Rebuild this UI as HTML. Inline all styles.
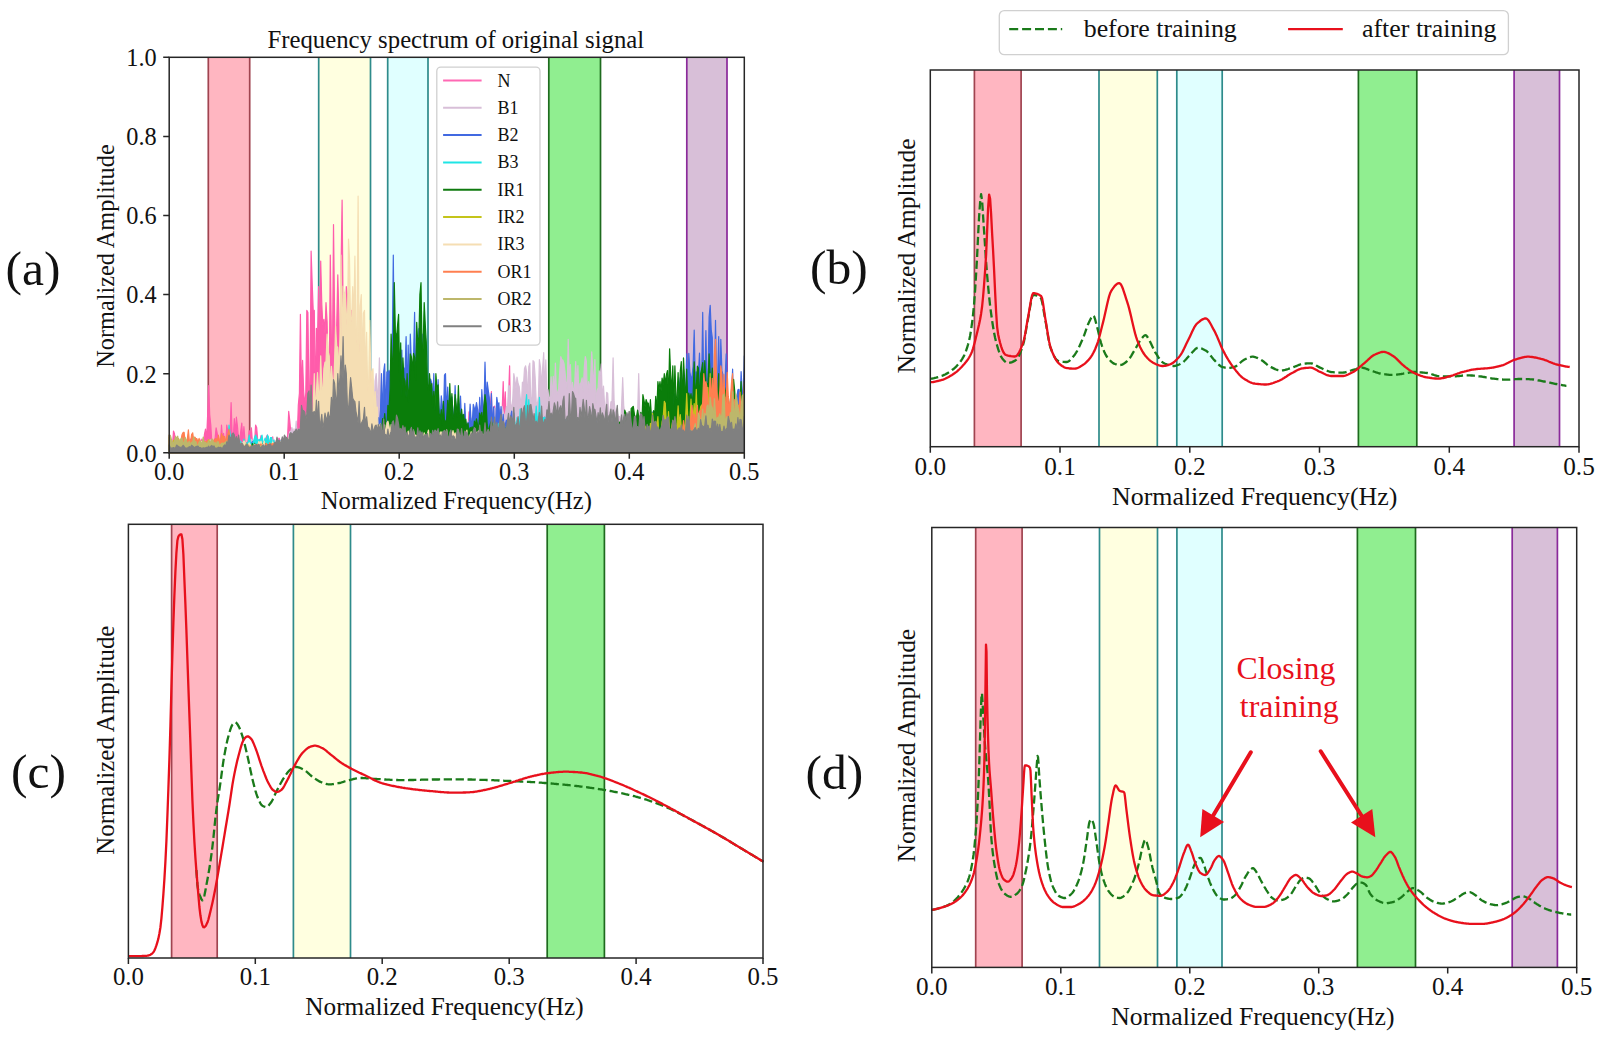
<!DOCTYPE html>
<html lang="en"><head><meta charset="utf-8"><title>Frequency spectrum figure</title>
<style>html,body{margin:0;padding:0;background:#fff}body{width:1600px;height:1038px;overflow:hidden}svg{display:block}</style>
</head><body>
<svg width="1600" height="1038" viewBox="0 0 1600 1038" font-family='"Liberation Serif", serif' fill="#111">
<rect width="1600" height="1038" fill="#fff"/>
<g id="pa">
<rect x="208.3" y="57.3" width="41.4" height="395.5" fill="#ffb6c1"/>
<path d="M208.3 57.3V452.8M249.7 57.3V452.8" stroke="#a04450" stroke-width="1.7" fill="none"/>
<rect x="318.7" y="57.3" width="51.8" height="395.5" fill="#ffffe0"/>
<path d="M318.7 57.3V452.8M370.5 57.3V452.8" stroke="#2e8b8b" stroke-width="1.7" fill="none"/>
<rect x="387.7" y="57.3" width="40.3" height="395.5" fill="#e0ffff"/>
<path d="M387.7 57.3V452.8M428.0 57.3V452.8" stroke="#2e8b8b" stroke-width="1.7" fill="none"/>
<rect x="548.8" y="57.3" width="51.8" height="395.5" fill="#90ee90"/>
<path d="M548.8 57.3V452.8M600.5 57.3V452.8" stroke="#1e6b1e" stroke-width="1.7" fill="none"/>
<rect x="686.8" y="57.3" width="40.3" height="395.5" fill="#d8bfd8"/>
<path d="M686.8 57.3V452.8M727.0 57.3V452.8" stroke="#8a2a9a" stroke-width="1.7" fill="none"/>
<g stroke-width="1.2" stroke-linejoin="round">
<path d="M169.2 452.8L169.2 440.9L170.3 445.1L171.3 442.5L172.4 447.1L173.5 431.0L174.5 433.8L175.6 447.0L176.7 447.2L177.7 438.6L178.8 439.0L179.9 446.5L180.9 445.1L182.0 443.4L183.1 447.2L184.1 448.2L185.2 441.9L186.3 443.3L187.3 445.1L188.4 441.5L189.5 444.7L190.5 439.2L191.6 447.8L192.7 444.7L193.7 445.4L194.8 446.6L195.9 444.2L196.9 447.5L198.0 441.7L199.1 440.8L200.1 448.2L201.2 439.0L202.3 446.5L203.3 447.1L204.4 434.7L205.5 429.1L206.5 441.3L207.6 415.7L208.7 385.6L209.7 414.6L210.8 425.1L211.9 444.4L212.9 442.8L214.0 440.6L215.1 438.3L216.1 427.8L217.2 433.2L218.3 440.7L219.3 444.5L220.4 443.3L221.5 425.2L222.5 438.5L223.6 433.4L224.7 444.2L225.7 444.4L226.8 425.1L227.9 432.2L229.0 436.6L230.0 434.1L231.1 402.6L232.2 436.1L233.2 439.4L234.3 418.6L235.4 433.3L236.4 417.2L237.5 426.8L238.6 440.4L239.6 442.2L240.7 431.8L241.8 423.1L242.8 442.9L243.9 426.7L245.0 441.4L246.0 442.7L247.1 443.4L248.2 440.2L249.2 430.6L250.3 436.6L251.4 427.8L252.4 442.1L253.5 440.7L254.6 441.8L255.6 425.1L256.7 427.8L257.8 441.5L258.8 440.4L259.9 442.7L261.0 435.5L262.0 446.1L263.1 446.2L264.2 443.1L265.2 445.4L266.3 437.3L267.4 435.0L268.4 442.5L269.5 441.0L270.6 440.6L271.6 439.3L272.7 436.9L273.8 447.0L274.8 441.9L275.9 447.1L277.0 444.4L278.0 439.8L279.1 438.2L280.2 440.4L281.2 447.9L282.3 445.6L283.4 447.3L284.4 437.0L285.5 445.0L286.6 441.7L287.6 437.1L288.7 411.3L289.8 421.0L290.8 432.4L291.9 429.1L293.0 438.3L294.0 443.0L295.1 430.3L296.2 437.7L297.2 439.3L298.3 405.3L299.4 393.4L300.4 314.4L301.5 393.0L302.6 360.4L303.6 390.2L304.7 405.9L305.8 392.8L306.8 310.4L307.9 312.5L309.0 396.3L310.0 392.2L311.1 251.1L312.2 283.6L313.2 310.2L314.3 310.4L315.4 406.4L316.4 328.3L317.5 341.6L318.6 286.7L319.6 360.8L320.7 261.0L321.8 304.3L322.8 325.4L323.9 319.3L325.0 333.5L326.0 302.5L327.1 321.8L328.2 384.4L329.2 389.8L330.3 255.1L331.4 339.3L332.4 364.4L333.5 224.6L334.6 315.8L335.6 373.8L336.7 327.2L337.8 274.8L338.8 313.5L339.9 368.1L341.0 272.5L342.1 200.1L343.1 312.0L344.2 305.1L345.3 345.7L346.3 286.7L347.4 294.5L348.5 402.3L349.5 387.1L350.6 365.9L351.7 310.4L352.7 404.8L353.8 343.6L354.9 348.4L355.9 368.1L357.0 339.9L358.1 360.2L359.1 334.2L360.2 376.9L361.3 404.2L362.3 371.9L363.4 404.5L364.5 418.7L365.5 368.7L366.6 387.9L367.7 386.2L368.7 402.3L369.8 388.8L370.9 373.7L371.9 407.1L373.0 429.6L374.1 410.0L375.1 395.3L376.2 403.7L377.3 399.2L378.3 417.6L379.4 397.6L380.5 433.0L381.5 401.4L382.6 426.7L383.7 435.3L384.7 418.8L385.8 426.5L386.9 428.5L387.9 405.3L389.0 436.9L390.1 422.6L391.1 429.9L392.2 426.1L393.3 427.2L394.3 437.2L395.4 426.9L396.5 412.8L397.5 436.6L398.6 438.9L399.7 438.4L400.7 429.0L401.8 408.2L402.9 438.8L403.9 407.6L405.0 426.7L406.1 437.9L407.1 430.7L408.2 436.3L409.3 420.3L410.3 426.8L411.4 434.5L412.5 435.4L413.5 414.3L414.6 418.6L415.7 430.6L416.7 431.6L417.8 420.1L418.9 410.2L419.9 439.0L421.0 437.8L422.1 433.1L423.1 428.8L424.2 439.2L425.3 439.5L426.3 436.8L427.4 432.7L428.5 420.9L429.5 425.8L430.6 439.9L431.7 439.8L432.7 431.1L433.8 416.0L434.9 414.4L435.9 433.7L437.0 415.8L438.1 414.2L439.1 432.8L440.2 421.7L441.3 434.0L442.3 438.7L443.4 427.9L444.5 439.8L445.5 425.1L446.6 419.8L447.7 415.7L448.7 432.2L449.8 439.6L450.9 416.6L451.9 418.0L453.0 414.2L454.1 428.1L455.1 425.5L456.2 434.6L457.3 413.2L458.4 436.3L459.4 423.3L460.5 435.3L461.6 423.9L462.6 430.0L463.7 431.4L464.8 411.9L465.8 438.0L466.9 429.6L468.0 437.8L469.0 411.9L470.1 429.0L471.2 433.5L472.2 437.2L473.3 424.7L474.4 431.1L475.4 437.5L476.5 438.7L477.6 430.8L478.6 424.0L479.7 405.3L480.8 409.1L481.8 407.4L482.9 404.9L484.0 410.8L485.0 424.2L486.1 421.7L487.2 426.0L488.2 425.3L489.3 434.8L490.4 404.6L491.4 391.5L492.5 433.9L493.6 419.7L494.6 406.2L495.7 420.1L496.8 422.8L497.8 407.7L498.9 429.3L500.0 432.1L501.0 409.6L502.1 412.5L503.2 381.6L504.2 416.3L505.3 391.9L506.4 428.7L507.4 427.8L508.5 399.7L509.6 365.8L510.6 427.6L511.7 427.7L512.8 420.4L513.8 389.5L514.9 415.5L516.0 398.3L517.0 425.3L518.1 431.7L519.2 417.4L520.2 435.7L521.3 426.6L522.4 429.5L523.4 427.6L524.5 436.6L525.6 422.4L526.6 420.2L527.7 415.5L528.8 406.6L529.8 431.7L530.9 421.8L532.0 430.0L533.0 436.6L534.1 414.8L535.2 421.5L536.2 414.6L537.3 413.2L538.4 416.7L539.4 439.7L540.5 441.0L541.6 438.6L542.6 433.8L543.7 425.5L544.8 433.2L545.8 431.2L546.9 423.2L548.0 440.7L549.0 426.2L550.1 441.0L551.2 438.0L552.2 424.9L553.3 426.3L554.4 434.5L555.4 437.2L556.5 421.4L557.6 437.6L558.6 441.3L559.7 438.3L560.8 441.5L561.8 422.4L562.9 440.5L564.0 416.6L565.0 439.1L566.1 437.3L567.2 430.1L568.2 437.3L569.3 435.7L570.4 440.9L571.4 435.6L572.5 441.7L573.6 439.2L574.7 419.8L575.7 438.2L576.8 438.4L577.9 427.9L578.9 421.1L580.0 438.0L581.1 436.3L582.1 427.0L583.2 424.5L584.3 430.2L585.3 440.3L586.4 440.3L587.5 426.0L588.5 427.6L589.6 421.5L590.7 425.5L591.7 435.7L592.8 441.2L593.9 422.0L594.9 428.4L596.0 431.9L597.1 428.9L598.1 436.8L599.2 437.7L600.3 432.1L601.3 434.6L602.4 428.4L603.5 421.2L604.5 424.2L605.6 437.0L606.7 437.4L607.7 421.8L608.8 437.0L609.9 426.1L610.9 442.2L612.0 435.8L613.1 434.3L614.1 426.1L615.2 424.0L616.3 441.6L617.3 431.9L618.4 431.6L619.5 441.7L620.5 425.8L621.6 433.8L622.7 421.9L623.7 441.4L624.8 434.7L625.9 439.1L626.9 431.8L628.0 432.7L629.1 421.2L630.1 439.2L631.2 435.4L632.3 438.3L633.3 424.7L634.4 436.4L635.5 436.1L636.5 440.4L637.6 440.5L638.7 422.7L639.7 439.4L640.8 425.4L641.9 433.1L642.9 421.8L644.0 441.8L645.1 423.1L646.1 428.3L647.2 433.8L648.3 430.1L649.3 429.7L650.4 436.7L651.5 432.1L652.5 440.9L653.6 443.2L654.7 431.0L655.7 436.1L656.8 424.2L657.9 440.3L658.9 426.9L660.0 421.6L661.1 424.5L662.1 422.3L663.2 441.9L664.3 441.8L665.3 440.9L666.4 438.5L667.5 442.4L668.5 442.0L669.6 443.3L670.7 423.3L671.7 438.5L672.8 432.3L673.9 436.5L674.9 429.1L676.0 427.3L677.1 438.1L678.1 434.6L679.2 442.6L680.3 439.9L681.3 441.0L682.4 439.5L683.5 439.2L684.5 433.7L685.6 439.1L686.7 439.2L687.8 426.5L688.8 443.3L689.9 443.3L691.0 443.0L692.0 425.5L693.1 432.1L694.2 429.6L695.2 422.6L696.3 441.1L697.4 423.8L698.4 440.7L699.5 435.0L700.6 430.9L701.6 427.5L702.7 440.6L703.8 436.0L704.8 443.1L705.9 439.9L707.0 421.8L708.0 424.2L709.1 433.5L710.2 427.9L711.2 424.3L712.3 439.1L713.4 421.8L714.4 436.7L715.5 441.9L716.6 434.8L717.6 433.2L718.7 430.5L719.8 431.1L720.8 443.1L721.9 432.0L723.0 423.7L724.0 431.2L725.1 422.0L726.2 435.2L727.2 427.2L728.3 442.1L729.4 424.5L730.4 436.9L731.5 425.1L732.6 439.3L733.6 432.4L734.7 426.1L735.8 430.0L736.8 432.5L737.9 422.1L739.0 442.7L740.0 442.6L741.1 434.2L742.2 422.6L743.2 430.7L744.3 421.2L744.3 452.8Z" stroke="#ff5cab" fill="#ff5cab"/>
<path d="M169.2 452.8L169.2 440.9L170.3 444.8L171.3 444.5L172.4 444.6L173.5 443.6L174.5 445.7L175.6 441.6L176.7 445.5L177.7 446.4L178.8 445.2L179.9 441.1L180.9 446.1L182.0 445.5L183.1 441.0L184.1 445.0L185.2 441.6L186.3 446.5L187.3 441.2L188.4 445.6L189.5 445.8L190.5 442.2L191.6 440.3L192.7 440.5L193.7 442.1L194.8 440.8L195.9 440.1L196.9 443.4L198.0 445.9L199.1 441.1L200.1 444.4L201.2 444.9L202.3 443.7L203.3 446.2L204.4 446.2L205.5 445.1L206.5 442.9L207.6 441.7L208.7 439.9L209.7 441.1L210.8 440.0L211.9 442.4L212.9 441.6L214.0 442.7L215.1 445.8L216.1 445.9L217.2 441.3L218.3 445.2L219.3 441.0L220.4 443.5L221.5 446.0L222.5 442.7L223.6 443.5L224.7 445.7L225.7 444.7L226.8 444.4L227.9 444.1L229.0 441.4L230.0 445.1L231.1 443.4L232.2 442.1L233.2 439.2L234.3 445.3L235.4 445.5L236.4 444.9L237.5 444.7L238.6 445.0L239.6 445.4L240.7 444.7L241.8 444.6L242.8 442.8L243.9 441.5L245.0 443.6L246.0 444.8L247.1 445.2L248.2 444.2L249.2 444.8L250.3 442.6L251.4 439.3L252.4 440.7L253.5 444.5L254.6 445.3L255.6 445.2L256.7 442.8L257.8 443.3L258.8 440.8L259.9 445.0L261.0 444.0L262.0 440.7L263.1 441.6L264.2 442.0L265.2 438.6L266.3 444.7L267.4 444.3L268.4 441.5L269.5 441.5L270.6 437.6L271.6 437.6L272.7 441.2L273.8 439.7L274.8 440.2L275.9 444.5L277.0 441.0L278.0 443.3L279.1 442.9L280.2 444.3L281.2 444.9L282.3 438.5L283.4 439.8L284.4 437.0L285.5 442.3L286.6 440.2L287.6 441.5L288.7 436.1L289.8 431.7L290.8 431.3L291.9 427.5L293.0 436.5L294.0 428.9L295.1 436.4L296.2 421.2L297.2 435.9L298.3 429.4L299.4 429.2L300.4 432.3L301.5 432.1L302.6 425.5L303.6 429.6L304.7 430.7L305.8 434.8L306.8 432.4L307.9 421.7L309.0 418.8L310.0 430.5L311.1 420.5L312.2 420.2L313.2 432.5L314.3 431.5L315.4 423.4L316.4 430.7L317.5 417.2L318.6 429.4L319.6 421.9L320.7 422.2L321.8 431.5L322.8 418.2L323.9 429.3L325.0 432.5L326.0 433.1L327.1 426.5L328.2 422.5L329.2 429.5L330.3 417.2L331.4 429.3L332.4 416.6L333.5 432.4L334.6 429.0L335.6 430.5L336.7 425.1L337.8 426.9L338.8 425.8L339.9 415.0L341.0 421.5L342.1 420.7L343.1 425.3L344.2 415.2L345.3 422.5L346.3 416.4L347.4 411.7L348.5 419.4L349.5 423.4L350.6 426.8L351.7 410.8L352.7 414.7L353.8 413.5L354.9 427.0L355.9 422.3L357.0 410.5L358.1 426.1L359.1 412.0L360.2 419.2L361.3 426.2L362.3 422.8L363.4 428.4L364.5 405.3L365.5 411.6L366.6 426.3L367.7 419.2L368.7 402.8L369.8 418.3L370.9 406.3L371.9 393.8L373.0 400.8L374.1 413.9L375.1 381.2L376.2 373.7L377.3 391.0L378.3 397.8L379.4 357.9L380.5 395.2L381.5 409.9L382.6 414.2L383.7 420.1L384.7 393.5L385.8 418.6L386.9 407.2L387.9 409.3L389.0 409.1L390.1 401.5L391.1 422.7L392.2 415.8L393.3 423.3L394.3 415.4L395.4 423.6L396.5 424.0L397.5 423.5L398.6 416.9L399.7 405.8L400.7 420.1L401.8 407.0L402.9 421.6L403.9 420.5L405.0 415.9L406.1 425.2L407.1 416.9L408.2 413.3L409.3 406.1L410.3 426.1L411.4 407.4L412.5 414.6L413.5 414.5L414.6 426.7L415.7 405.9L416.7 422.8L417.8 416.3L418.9 416.7L419.9 406.1L421.0 415.4L422.1 404.1L423.1 424.8L424.2 414.4L425.3 417.0L426.3 418.8L427.4 416.0L428.5 418.3L429.5 423.6L430.6 416.3L431.7 428.7L432.7 420.9L433.8 421.7L434.9 427.0L435.9 419.3L437.0 417.0L438.1 429.0L439.1 426.0L440.2 430.2L441.3 419.7L442.3 430.2L443.4 428.0L444.5 423.8L445.5 423.9L446.6 431.4L447.7 412.2L448.7 428.8L449.8 421.2L450.9 429.3L451.9 421.9L453.0 427.3L454.1 428.1L455.1 425.2L456.2 423.0L457.3 413.2L458.4 420.6L459.4 429.1L460.5 431.7L461.6 429.1L462.6 427.6L463.7 421.5L464.8 425.5L465.8 427.4L466.9 430.8L468.0 421.0L469.0 430.4L470.1 422.5L471.2 418.2L472.2 419.6L473.3 429.1L474.4 425.3L475.4 410.6L476.5 429.8L477.6 417.2L478.6 422.9L479.7 418.5L480.8 423.6L481.8 428.7L482.9 419.3L484.0 429.9L485.0 410.8L486.1 412.4L487.2 423.1L488.2 419.0L489.3 419.1L490.4 406.2L491.4 405.3L492.5 423.3L493.6 420.0L494.6 408.3L495.7 409.1L496.8 417.1L497.8 425.2L498.9 408.7L500.0 415.2L501.0 421.7L502.1 406.4L503.2 411.6L504.2 414.9L505.3 415.3L506.4 406.5L507.4 414.4L508.5 385.6L509.6 386.0L510.6 403.3L511.7 409.7L512.8 398.5L513.8 373.7L514.9 380.0L516.0 388.5L517.0 377.0L518.1 383.5L519.2 386.6L520.2 397.4L521.3 407.3L522.4 382.2L523.4 386.5L524.5 368.4L525.6 365.8L526.6 372.1L527.7 402.5L528.8 366.7L529.8 363.1L530.9 406.6L532.0 396.5L533.0 360.7L534.1 361.8L535.2 378.1L536.2 402.1L537.3 405.1L538.4 396.9L539.4 359.6L540.5 367.3L541.6 387.4L542.6 368.6L543.7 352.7L544.8 392.1L545.8 359.9L546.9 392.8L548.0 389.7L549.0 400.5L550.1 396.3L551.2 376.9L552.2 400.1L553.3 376.3L554.4 394.6L555.4 363.1L556.5 395.6L557.6 392.1L558.6 388.9L559.7 371.5L560.8 356.7L561.8 359.8L562.9 360.1L564.0 363.5L565.0 371.7L566.1 382.7L567.2 390.3L568.2 339.3L569.3 378.6L570.4 364.5L571.4 395.2L572.5 382.4L573.6 394.7L574.7 383.5L575.7 361.5L576.8 384.9L577.9 365.7L578.9 395.4L580.0 383.8L581.1 382.8L582.1 377.8L583.2 392.4L584.3 367.6L585.3 356.5L586.4 361.5L587.5 400.7L588.5 381.5L589.6 389.2L590.7 377.7L591.7 351.9L592.8 370.3L593.9 388.1L594.9 359.6L596.0 404.8L597.1 390.5L598.1 388.0L599.2 370.8L600.3 376.0L601.3 363.8L602.4 400.9L603.5 386.1L604.5 403.6L605.6 412.4L606.7 392.3L607.7 393.5L608.8 416.9L609.9 412.5L610.9 401.8L612.0 401.4L613.1 357.9L614.1 401.4L615.2 410.6L616.3 412.3L617.3 412.8L618.4 417.1L619.5 416.5L620.5 425.9L621.6 405.3L622.7 377.7L623.7 405.3L624.8 415.3L625.9 421.4L626.9 413.0L628.0 415.7L629.1 429.7L630.1 415.4L631.2 427.1L632.3 430.8L633.3 430.5L634.4 427.4L635.5 423.7L636.5 428.0L637.6 413.2L638.7 373.7L639.7 413.2L640.8 416.4L641.9 429.9L642.9 420.8L644.0 427.8L645.1 417.0L646.1 421.8L647.2 421.1L648.3 432.1L649.3 419.4L650.4 427.9L651.5 419.7L652.5 417.1L653.6 431.7L654.7 432.9L655.7 419.2L656.8 414.1L657.9 415.8L658.9 426.3L660.0 417.4L661.1 432.9L662.1 432.5L663.2 423.3L664.3 424.4L665.3 417.6L666.4 430.0L667.5 425.8L668.5 413.5L669.6 428.8L670.7 426.9L671.7 422.7L672.8 413.4L673.9 430.9L674.9 413.2L676.0 426.7L677.1 427.0L678.1 429.6L679.2 425.7L680.3 423.4L681.3 427.2L682.4 424.9L683.5 422.0L684.5 417.0L685.6 423.7L686.7 427.4L687.8 414.2L688.8 431.0L689.9 432.7L691.0 415.6L692.0 429.5L693.1 431.3L694.2 427.3L695.2 428.1L696.3 427.9L697.4 417.0L698.4 429.1L699.5 431.6L700.6 430.3L701.6 414.5L702.7 426.4L703.8 427.8L704.8 418.8L705.9 414.9L707.0 424.8L708.0 417.9L709.1 429.5L710.2 428.0L711.2 423.4L712.3 430.0L713.4 429.3L714.4 430.8L715.5 429.6L716.6 417.3L717.6 418.4L718.7 431.9L719.8 428.0L720.8 420.1L721.9 416.8L723.0 423.7L724.0 420.0L725.1 430.0L726.2 418.7L727.2 417.7L728.3 426.9L729.4 430.0L730.4 432.8L731.5 422.2L732.6 422.1L733.6 433.0L734.7 424.6L735.8 414.8L736.8 432.8L737.9 431.5L739.0 432.5L740.0 426.3L741.1 427.3L742.2 416.5L743.2 432.4L744.3 413.2L744.3 452.8Z" stroke="#d8bfd8" fill="#d8bfd8"/>
<path d="M169.2 452.8L169.2 442.9L170.3 448.8L171.3 447.9L172.4 447.2L173.5 448.8L174.5 447.8L175.6 445.8L176.7 445.7L177.7 445.8L178.8 445.5L179.9 445.7L180.9 448.7L182.0 445.4L183.1 445.9L184.1 448.0L185.2 446.9L186.3 447.9L187.3 443.7L188.4 447.7L189.5 448.2L190.5 444.2L191.6 444.5L192.7 443.7L193.7 445.1L194.8 446.8L195.9 446.5L196.9 445.9L198.0 445.6L199.1 442.9L200.1 447.7L201.2 444.3L202.3 448.6L203.3 448.0L204.4 442.8L205.5 447.7L206.5 446.1L207.6 443.0L208.7 445.1L209.7 446.2L210.8 444.7L211.9 442.4L212.9 442.7L214.0 448.0L215.1 448.1L216.1 447.4L217.2 448.1L218.3 444.1L219.3 443.5L220.4 448.1L221.5 448.3L222.5 447.1L223.6 444.6L224.7 444.0L225.7 446.3L226.8 445.0L227.9 442.6L229.0 443.0L230.0 448.1L231.1 444.3L232.2 443.8L233.2 442.7L234.3 446.4L235.4 447.9L236.4 446.1L237.5 446.7L238.6 446.6L239.6 443.5L240.7 444.7L241.8 444.5L242.8 444.7L243.9 447.9L245.0 448.2L246.0 446.5L247.1 442.9L248.2 444.6L249.2 443.4L250.3 444.8L251.4 443.5L252.4 441.5L253.5 444.0L254.6 442.7L255.6 441.7L256.7 443.8L257.8 443.1L258.8 448.0L259.9 448.2L261.0 442.1L262.0 447.3L263.1 446.9L264.2 447.8L265.2 444.5L266.3 448.1L267.4 443.1L268.4 446.9L269.5 443.6L270.6 442.0L271.6 444.0L272.7 446.0L273.8 444.5L274.8 442.5L275.9 443.7L277.0 447.1L278.0 448.1L279.1 442.2L280.2 444.4L281.2 447.9L282.3 445.0L283.4 444.7L284.4 440.9L285.5 441.0L286.6 446.1L287.6 446.3L288.7 444.7L289.8 444.0L290.8 436.9L291.9 439.3L293.0 444.4L294.0 441.4L295.1 443.8L296.2 435.8L297.2 432.5L298.3 442.7L299.4 437.2L300.4 440.3L301.5 439.3L302.6 430.7L303.6 424.8L304.7 438.1L305.8 432.9L306.8 421.2L307.9 439.7L309.0 430.7L310.0 438.6L311.1 428.6L312.2 427.1L313.2 438.6L314.3 430.4L315.4 437.6L316.4 426.3L317.5 436.3L318.6 427.9L319.6 428.8L320.7 430.3L321.8 437.1L322.8 423.9L323.9 434.7L325.0 425.3L326.0 432.1L327.1 432.6L328.2 426.5L329.2 434.6L330.3 425.0L331.4 432.4L332.4 425.4L333.5 426.4L334.6 419.6L335.6 432.9L336.7 434.0L337.8 417.8L338.8 430.3L339.9 432.4L341.0 425.6L342.1 435.5L343.1 418.3L344.2 424.0L345.3 426.6L346.3 434.5L347.4 422.1L348.5 418.9L349.5 422.4L350.6 418.8L351.7 437.3L352.7 423.5L353.8 419.9L354.9 430.1L355.9 437.3L357.0 428.3L358.1 434.7L359.1 437.6L360.2 417.1L361.3 420.1L362.3 425.6L363.4 422.3L364.5 424.4L365.5 429.7L366.6 436.2L367.7 433.3L368.7 428.4L369.8 426.4L370.9 432.9L371.9 435.9L373.0 431.9L374.1 434.8L375.1 415.6L376.2 413.2L377.3 426.6L378.3 417.5L379.4 422.9L380.5 410.0L381.5 373.7L382.6 419.6L383.7 371.6L384.7 363.8L385.8 415.0L386.9 371.9L387.9 373.7L389.0 370.4L390.1 374.5L391.1 379.8L392.2 357.9L393.3 255.1L394.3 354.7L395.4 378.2L396.5 334.2L397.5 383.1L398.6 363.2L399.7 398.0L400.7 404.4L401.8 350.1L402.9 403.6L403.9 367.9L405.0 374.6L406.1 336.6L407.1 398.4L408.2 345.1L409.3 401.2L410.3 334.2L411.4 363.0L412.5 394.7L413.5 359.6L414.6 312.4L415.7 393.8L416.7 341.8L417.8 377.0L418.9 328.6L419.9 402.7L421.0 401.9L422.1 334.2L423.1 396.2L424.2 389.2L425.3 352.7L426.3 396.9L427.4 411.5L428.5 410.1L429.5 390.7L430.6 379.1L431.7 383.2L432.7 402.5L433.8 373.7L434.9 418.5L435.9 415.3L437.0 416.2L438.1 379.7L439.1 407.6L440.2 418.8L441.3 395.9L442.3 405.3L443.4 420.8L444.5 375.0L445.5 373.7L446.6 414.7L447.7 387.0L448.7 407.9L449.8 398.0L450.9 400.0L451.9 396.9L453.0 411.7L454.1 422.7L455.1 385.6L456.2 414.4L457.3 415.5L458.4 403.4L459.4 408.2L460.5 396.0L461.6 421.8L462.6 414.5L463.7 431.3L464.8 403.4L465.8 428.5L466.9 427.6L468.0 422.7L469.0 428.5L470.1 404.0L471.2 422.5L472.2 423.7L473.3 404.3L474.4 408.3L475.4 409.0L476.5 402.6L477.6 409.7L478.6 424.6L479.7 397.4L480.8 427.7L481.8 389.5L482.9 408.8L484.0 408.5L485.0 362.2L486.1 404.5L487.2 382.0L488.2 389.9L489.3 397.5L490.4 422.3L491.4 393.5L492.5 428.5L493.6 406.9L494.6 429.6L495.7 421.1L496.8 397.4L497.8 404.8L498.9 402.8L500.0 426.2L501.0 406.5L502.1 429.8L503.2 414.4L504.2 429.1L505.3 424.5L506.4 420.0L507.4 428.1L508.5 432.1L509.6 422.8L510.6 417.0L511.7 411.0L512.8 431.4L513.8 413.2L514.9 436.3L516.0 434.4L517.0 436.9L518.1 433.6L519.2 422.0L520.2 435.9L521.3 424.3L522.4 432.8L523.4 434.1L524.5 428.6L525.6 429.8L526.6 429.6L527.7 436.0L528.8 426.7L529.8 416.9L530.9 437.2L532.0 436.5L533.0 426.2L534.1 432.6L535.2 433.9L536.2 414.4L537.3 432.8L538.4 416.6L539.4 425.5L540.5 437.2L541.6 433.7L542.6 436.7L543.7 427.7L544.8 417.2L545.8 437.0L546.9 437.3L548.0 437.3L549.0 433.7L550.1 435.6L551.2 415.5L552.2 421.4L553.3 416.5L554.4 426.9L555.4 420.2L556.5 423.4L557.6 433.5L558.6 425.0L559.7 433.6L560.8 429.8L561.8 420.3L562.9 434.9L564.0 435.7L565.0 419.6L566.1 430.0L567.2 435.8L568.2 433.2L569.3 433.9L570.4 418.4L571.4 429.9L572.5 417.7L573.6 430.0L574.7 417.2L575.7 417.9L576.8 427.7L577.9 421.8L578.9 434.0L580.0 436.8L581.1 426.9L582.1 437.5L583.2 430.2L584.3 426.5L585.3 422.6L586.4 418.9L587.5 435.6L588.5 419.9L589.6 429.7L590.7 426.6L591.7 430.5L592.8 420.5L593.9 434.0L594.9 438.1L596.0 421.1L597.1 425.8L598.1 424.3L599.2 437.0L600.3 435.8L601.3 426.8L602.4 423.6L603.5 425.9L604.5 427.6L605.6 426.2L606.7 436.7L607.7 431.1L608.8 433.7L609.9 424.1L610.9 429.7L612.0 424.6L613.1 425.3L614.1 419.5L615.2 420.9L616.3 438.0L617.3 426.1L618.4 433.0L619.5 437.6L620.5 430.8L621.6 421.5L622.7 422.8L623.7 437.6L624.8 436.2L625.9 425.6L626.9 418.1L628.0 438.0L629.1 417.2L630.1 425.4L631.2 427.0L632.3 421.3L633.3 435.4L634.4 429.0L635.5 420.2L636.5 430.9L637.6 430.2L638.7 436.4L639.7 418.5L640.8 428.1L641.9 429.5L642.9 421.6L644.0 414.8L645.1 413.8L646.1 429.2L647.2 421.4L648.3 427.4L649.3 412.9L650.4 414.0L651.5 418.1L652.5 412.0L653.6 422.3L654.7 420.0L655.7 430.8L656.8 414.5L657.9 427.4L658.9 418.8L660.0 432.2L661.1 423.4L662.1 415.8L663.2 414.9L664.3 416.9L665.3 426.4L666.4 412.8L667.5 412.1L668.5 414.5L669.6 421.6L670.7 427.6L671.7 414.6L672.8 429.0L673.9 398.3L674.9 393.5L676.0 421.7L677.1 413.7L678.1 423.4L679.2 386.9L680.3 377.6L681.3 384.1L682.4 396.2L683.5 369.6L684.5 404.7L685.6 395.4L686.7 353.9L687.8 393.4L688.8 353.3L689.9 372.0L691.0 378.4L692.0 376.8L693.1 366.3L694.2 330.2L695.2 377.8L696.3 371.8L697.4 397.8L698.4 374.8L699.5 353.0L700.6 388.5L701.6 383.9L702.7 312.4L703.8 391.1L704.8 387.2L705.9 330.5L707.0 390.5L708.0 378.4L709.1 317.1L710.2 305.3L711.2 329.6L712.3 337.9L713.4 397.0L714.4 388.8L715.5 320.3L716.6 385.2L717.6 381.1L718.7 336.6L719.8 401.7L720.8 339.3L721.9 370.8L723.0 374.6L724.0 410.2L725.1 379.1L726.2 353.9L727.2 397.2L728.3 411.8L729.4 409.9L730.4 411.8L731.5 396.3L732.6 369.1L733.6 412.5L734.7 397.0L735.8 397.3L736.8 397.6L737.9 389.9L739.0 389.4L740.0 407.5L741.1 371.6L742.2 390.8L743.2 400.5L744.3 355.9L744.3 452.8Z" stroke="#4169e1" fill="#4169e1"/>
<path d="M169.2 452.8L169.2 444.9L170.3 449.2L171.3 444.9L172.4 447.2L173.5 448.3L174.5 448.7L175.6 449.3L176.7 448.6L177.7 448.4L178.8 448.1L179.9 444.2L180.9 446.7L182.0 448.7L183.1 447.8L184.1 447.4L185.2 449.0L186.3 447.1L187.3 446.8L188.4 444.2L189.5 447.2L190.5 445.6L191.6 445.6L192.7 448.4L193.7 446.2L194.8 446.9L195.9 448.3L196.9 448.8L198.0 442.9L199.1 448.5L200.1 443.6L201.2 447.1L202.3 448.5L203.3 442.8L204.4 445.0L205.5 446.7L206.5 443.6L207.6 444.5L208.7 446.5L209.7 444.3L210.8 444.1L211.9 447.8L212.9 444.1L214.0 442.5L215.1 444.2L216.1 443.3L217.2 441.6L218.3 443.2L219.3 445.7L220.4 444.9L221.5 443.2L222.5 444.3L223.6 447.9L224.7 447.9L225.7 440.9L226.8 437.6L227.9 441.9L229.0 425.1L230.0 432.8L231.1 444.8L232.2 440.9L233.2 446.8L234.3 447.8L235.4 442.8L236.4 446.1L237.5 445.3L238.6 445.8L239.6 447.3L240.7 441.1L241.8 446.8L242.8 445.7L243.9 439.0L245.0 444.8L246.0 442.9L247.1 444.1L248.2 441.4L249.2 435.0L250.3 441.8L251.4 445.7L252.4 445.6L253.5 441.3L254.6 437.5L255.6 435.0L256.7 437.7L257.8 441.1L258.8 439.7L259.9 439.3L261.0 438.6L262.0 435.1L263.1 443.0L264.2 441.9L265.2 438.0L266.3 444.2L267.4 435.0L268.4 436.8L269.5 446.0L270.6 437.6L271.6 437.7L272.7 445.6L273.8 440.2L274.8 445.0L275.9 445.3L277.0 438.6L278.0 440.0L279.1 441.6L280.2 444.8L281.2 440.0L282.3 444.2L283.4 440.8L284.4 440.9L285.5 447.9L286.6 442.6L287.6 442.2L288.7 441.7L289.8 443.9L290.8 447.8L291.9 441.7L293.0 445.4L294.0 446.9L295.1 446.8L296.2 446.8L297.2 441.8L298.3 447.4L299.4 440.7L300.4 447.6L301.5 442.4L302.6 446.4L303.6 444.2L304.7 446.7L305.8 440.5L306.8 446.7L307.9 444.4L309.0 443.1L310.0 444.4L311.1 446.2L312.2 445.6L313.2 439.6L314.3 446.7L315.4 447.2L316.4 439.7L317.5 439.9L318.6 441.9L319.6 443.8L320.7 439.0L321.8 444.3L322.8 447.0L323.9 444.0L325.0 443.1L326.0 442.9L327.1 439.3L328.2 446.6L329.2 439.5L330.3 442.9L331.4 440.7L332.4 443.8L333.5 444.8L334.6 444.4L335.6 444.9L336.7 443.3L337.8 441.8L338.8 439.2L339.9 445.5L341.0 443.1L342.1 442.3L343.1 439.1L344.2 440.3L345.3 441.2L346.3 440.5L347.4 442.9L348.5 438.9L349.5 438.5L350.6 441.5L351.7 445.6L352.7 442.9L353.8 444.4L354.9 444.9L355.9 444.0L357.0 438.2L358.1 443.4L359.1 442.6L360.2 443.0L361.3 444.8L362.3 440.9L363.4 442.5L364.5 436.3L365.5 440.2L366.6 435.6L367.7 437.1L368.7 441.5L369.8 445.6L370.9 444.2L371.9 445.0L373.0 438.4L374.1 444.8L375.1 439.4L376.2 443.0L377.3 441.3L378.3 437.8L379.4 443.1L380.5 444.3L381.5 443.2L382.6 435.0L383.7 440.1L384.7 443.1L385.8 444.3L386.9 444.9L387.9 442.5L389.0 439.1L390.1 441.0L391.1 436.3L392.2 433.6L393.3 439.5L394.3 442.1L395.4 436.3L396.5 444.5L397.5 436.7L398.6 434.9L399.7 433.0L400.7 444.2L401.8 438.8L402.9 435.7L403.9 440.9L405.0 434.8L406.1 443.4L407.1 439.2L408.2 438.7L409.3 435.3L410.3 440.5L411.4 442.2L412.5 436.2L413.5 443.5L414.6 440.8L415.7 439.4L416.7 434.7L417.8 439.8L418.9 437.9L419.9 436.1L421.0 436.1L422.1 431.3L423.1 439.0L424.2 437.4L425.3 443.7L426.3 442.2L427.4 441.5L428.5 441.9L429.5 437.8L430.6 441.9L431.7 436.9L432.7 432.6L433.8 443.0L434.9 441.2L435.9 437.7L437.0 443.1L438.1 442.1L439.1 436.3L440.2 438.8L441.3 430.5L442.3 436.1L443.4 432.9L444.5 439.3L445.5 438.8L446.6 430.9L447.7 435.0L448.7 429.6L449.8 440.3L450.9 441.9L451.9 433.6L453.0 441.7L454.1 442.1L455.1 438.1L456.2 433.1L457.3 438.4L458.4 431.7L459.4 436.8L460.5 439.3L461.6 435.4L462.6 434.1L463.7 440.9L464.8 434.1L465.8 440.6L466.9 426.7L468.0 435.0L469.0 439.9L470.1 441.7L471.2 439.7L472.2 438.2L473.3 433.9L474.4 432.1L475.4 431.1L476.5 436.0L477.6 432.5L478.6 433.8L479.7 438.1L480.8 439.2L481.8 436.3L482.9 430.9L484.0 440.1L485.0 431.8L486.1 441.2L487.2 439.4L488.2 430.9L489.3 428.0L490.4 428.7L491.4 430.4L492.5 438.1L493.6 423.6L494.6 431.8L495.7 425.1L496.8 424.4L497.8 438.0L498.9 423.4L500.0 440.0L501.0 430.6L502.1 437.5L503.2 439.8L504.2 431.7L505.3 438.1L506.4 426.9L507.4 433.6L508.5 437.0L509.6 440.3L510.6 428.7L511.7 429.8L512.8 426.0L513.8 421.2L514.9 422.0L516.0 438.6L517.0 417.7L518.1 420.1L519.2 434.7L520.2 409.1L521.3 433.0L522.4 413.2L523.4 427.6L524.5 411.9L525.6 404.3L526.6 394.7L527.7 421.6L528.8 399.7L529.8 416.6L530.9 426.9L532.0 428.6L533.0 427.9L534.1 428.4L535.2 421.5L536.2 406.2L537.3 418.6L538.4 429.0L539.4 397.4L540.5 419.7L541.6 422.1L542.6 417.4L543.7 417.8L544.8 417.4L545.8 425.1L546.9 436.8L548.0 422.0L549.0 417.2L550.1 424.4L551.2 431.3L552.2 420.4L553.3 437.6L554.4 424.3L555.4 427.8L556.5 425.4L557.6 438.1L558.6 418.5L559.7 438.5L560.8 436.5L561.8 429.9L562.9 428.6L564.0 436.6L565.0 434.7L566.1 420.2L567.2 434.1L568.2 431.6L569.3 437.7L570.4 428.9L571.4 425.8L572.5 424.9L573.6 435.8L574.7 433.3L575.7 427.1L576.8 419.1L577.9 424.3L578.9 436.2L580.0 438.5L581.1 434.3L582.1 430.1L583.2 435.3L584.3 424.1L585.3 435.7L586.4 437.8L587.5 428.6L588.5 424.9L589.6 436.6L590.7 434.4L591.7 435.7L592.8 439.1L593.9 427.0L594.9 438.9L596.0 428.7L597.1 428.3L598.1 430.5L599.2 439.0L600.3 439.1L601.3 430.9L602.4 431.5L603.5 439.4L604.5 439.4L605.6 425.2L606.7 434.9L607.7 426.6L608.8 437.1L609.9 436.0L610.9 422.3L612.0 437.2L613.1 433.4L614.1 431.6L615.2 426.9L616.3 435.2L617.3 428.4L618.4 436.9L619.5 427.8L620.5 439.6L621.6 437.5L622.7 439.2L623.7 438.8L624.8 426.4L625.9 432.6L626.9 425.7L628.0 421.0L629.1 437.7L630.1 426.1L631.2 421.2L632.3 435.7L633.3 439.2L634.4 432.9L635.5 431.3L636.5 428.2L637.6 430.7L638.7 436.0L639.7 438.2L640.8 435.3L641.9 432.9L642.9 438.0L644.0 436.1L645.1 423.9L646.1 433.9L647.2 438.9L648.3 429.0L649.3 435.3L650.4 432.2L651.5 434.6L652.5 439.1L653.6 427.6L654.7 431.3L655.7 421.8L656.8 440.3L657.9 431.2L658.9 434.2L660.0 434.0L661.1 428.2L662.1 437.4L663.2 434.8L664.3 439.1L665.3 431.6L666.4 434.2L667.5 440.2L668.5 437.8L669.6 435.0L670.7 432.4L671.7 439.7L672.8 430.7L673.9 426.5L674.9 436.2L676.0 440.1L677.1 439.1L678.1 427.8L679.2 432.7L680.3 439.3L681.3 438.9L682.4 426.4L683.5 429.8L684.5 429.5L685.6 439.4L686.7 423.0L687.8 437.8L688.8 436.2L689.9 438.1L691.0 424.3L692.0 431.0L693.1 432.6L694.2 435.2L695.2 429.4L696.3 434.3L697.4 434.5L698.4 439.5L699.5 427.2L700.6 440.5L701.6 425.5L702.7 425.3L703.8 433.5L704.8 439.4L705.9 438.7L707.0 439.8L708.0 430.1L709.1 436.5L710.2 424.1L711.2 436.9L712.3 437.1L713.4 430.8L714.4 426.6L715.5 433.7L716.6 440.2L717.6 439.6L718.7 430.2L719.8 429.2L720.8 424.4L721.9 433.0L723.0 428.9L724.0 431.1L725.1 433.6L726.2 428.5L727.2 439.3L728.3 440.0L729.4 437.8L730.4 436.6L731.5 425.7L732.6 428.4L733.6 430.1L734.7 427.1L735.8 436.8L736.8 425.1L737.9 426.8L739.0 439.8L740.0 436.9L741.1 438.1L742.2 439.7L743.2 426.4L744.3 425.1L744.3 452.8Z" stroke="#1fe5e5" fill="#1fe5e5"/>
<path d="M169.2 452.8L169.2 444.9L170.3 446.8L171.3 448.7L172.4 447.5L173.5 445.9L174.5 447.9L175.6 448.0L176.7 448.6L177.7 447.2L178.8 445.0L179.9 448.7L180.9 445.3L182.0 446.6L183.1 447.9L184.1 445.2L185.2 445.0L186.3 444.7L187.3 447.2L188.4 447.4L189.5 446.2L190.5 445.1L191.6 447.6L192.7 447.7L193.7 447.3L194.8 448.6L195.9 445.3L196.9 447.1L198.0 447.0L199.1 446.3L200.1 445.4L201.2 445.9L202.3 447.5L203.3 447.7L204.4 447.5L205.5 446.7L206.5 445.3L207.6 448.5L208.7 446.3L209.7 445.0L210.8 446.5L211.9 447.2L212.9 446.8L214.0 446.6L215.1 446.1L216.1 448.3L217.2 445.2L218.3 446.4L219.3 447.6L220.4 444.5L221.5 447.1L222.5 445.2L223.6 447.5L224.7 446.3L225.7 447.8L226.8 447.5L227.9 447.3L229.0 448.0L230.0 445.2L231.1 446.7L232.2 447.2L233.2 446.1L234.3 447.6L235.4 446.7L236.4 446.1L237.5 445.8L238.6 446.8L239.6 445.1L240.7 444.4L241.8 443.9L242.8 446.1L243.9 443.8L245.0 444.0L246.0 445.5L247.1 447.8L248.2 445.6L249.2 446.1L250.3 445.2L251.4 447.3L252.4 443.5L253.5 446.9L254.6 443.4L255.6 447.2L256.7 446.3L257.8 445.2L258.8 447.3L259.9 446.6L261.0 445.3L262.0 444.8L263.1 443.8L264.2 445.8L265.2 443.5L266.3 447.1L267.4 445.5L268.4 444.6L269.5 447.8L270.6 444.4L271.6 444.2L272.7 445.7L273.8 443.6L274.8 444.9L275.9 446.6L277.0 444.2L278.0 445.8L279.1 444.9L280.2 443.1L281.2 444.8L282.3 444.3L283.4 444.1L284.4 442.9L285.5 447.7L286.6 447.6L287.6 445.8L288.7 442.7L289.8 445.7L290.8 442.7L291.9 446.4L293.0 447.0L294.0 445.6L295.1 442.8L296.2 441.9L297.2 444.6L298.3 445.5L299.4 442.8L300.4 445.1L301.5 445.7L302.6 442.7L303.6 446.6L304.7 442.4L305.8 441.0L306.8 446.3L307.9 442.1L309.0 446.5L310.0 446.0L311.1 445.1L312.2 439.9L313.2 446.2L314.3 443.9L315.4 443.9L316.4 445.4L317.5 439.5L318.6 445.0L319.6 440.0L320.7 442.8L321.8 441.4L322.8 441.0L323.9 441.5L325.0 440.2L326.0 439.5L327.1 445.0L328.2 445.2L329.2 442.8L330.3 445.0L331.4 441.5L332.4 438.3L333.5 442.0L334.6 444.4L335.6 444.6L336.7 441.6L337.8 439.7L338.8 439.0L339.9 439.3L341.0 441.9L342.1 438.0L343.1 441.0L344.2 439.7L345.3 444.6L346.3 441.2L347.4 444.1L348.5 443.3L349.5 442.6L350.6 440.2L351.7 443.9L352.7 438.6L353.8 441.5L354.9 442.9L355.9 435.7L357.0 438.8L358.1 441.7L359.1 443.2L360.2 440.2L361.3 437.2L362.3 439.8L363.4 441.6L364.5 443.0L365.5 442.2L366.6 436.5L367.7 442.5L368.7 434.1L369.8 436.9L370.9 440.3L371.9 442.0L373.0 439.5L374.1 433.9L375.1 442.4L376.2 433.0L377.3 441.3L378.3 432.2L379.4 426.3L380.5 430.8L381.5 433.2L382.6 418.5L383.7 424.6L384.7 413.6L385.8 425.5L386.9 428.3L387.9 405.3L389.0 409.5L390.1 389.0L391.1 334.2L392.2 359.8L393.3 362.4L394.3 282.7L395.4 333.0L396.5 337.5L397.5 326.0L398.6 314.4L399.7 381.3L400.7 342.8L401.8 396.3L402.9 357.9L403.9 377.8L405.0 381.0L406.1 397.4L407.1 373.6L408.2 401.6L409.3 385.1L410.3 353.9L411.4 357.1L412.5 370.5L413.5 353.4L414.6 357.5L415.7 380.3L416.7 322.3L417.8 343.6L418.9 337.1L419.9 294.3L421.0 282.7L422.1 352.5L423.1 348.4L424.2 302.5L425.3 325.1L426.3 342.6L427.4 383.8L428.5 390.4L429.5 373.7L430.6 391.2L431.7 383.5L432.7 408.4L433.8 391.3L434.9 410.2L435.9 373.7L437.0 390.2L438.1 384.8L439.1 413.0L440.2 418.5L441.3 409.7L442.3 425.2L443.4 401.4L444.5 421.5L445.5 421.4L446.6 419.6L447.7 400.3L448.7 418.5L449.8 383.6L450.9 414.6L451.9 393.6L453.0 417.8L454.1 414.6L455.1 394.6L456.2 404.7L457.3 417.1L458.4 385.6L459.4 414.0L460.5 415.5L461.6 409.2L462.6 419.6L463.7 414.4L464.8 424.9L465.8 419.2L466.9 428.7L468.0 423.1L469.0 433.2L470.1 427.5L471.2 428.7L472.2 426.8L473.3 432.7L474.4 421.2L475.4 425.0L476.5 418.8L477.6 425.2L478.6 429.8L479.7 413.1L480.8 418.4L481.8 412.3L482.9 425.0L484.0 404.8L485.0 394.7L486.1 402.9L487.2 424.2L488.2 430.5L489.3 428.3L490.4 423.4L491.4 421.2L492.5 424.4L493.6 435.1L494.6 429.4L495.7 436.8L496.8 435.3L497.8 437.3L498.9 429.3L500.0 424.7L501.0 430.1L502.1 430.2L503.2 425.0L504.2 434.6L505.3 431.4L506.4 427.2L507.4 436.7L508.5 429.4L509.6 438.0L510.6 434.8L511.7 437.2L512.8 434.1L513.8 425.1L514.9 438.6L516.0 434.1L517.0 434.8L518.1 429.6L519.2 438.8L520.2 431.1L521.3 438.6L522.4 433.3L523.4 438.7L524.5 426.3L525.6 433.2L526.6 433.3L527.7 438.2L528.8 428.3L529.8 436.1L530.9 433.3L532.0 429.3L533.0 428.1L534.1 434.5L535.2 438.2L536.2 424.5L537.3 436.1L538.4 438.3L539.4 430.8L540.5 426.4L541.6 437.8L542.6 438.2L543.7 429.7L544.8 431.4L545.8 435.9L546.9 435.8L548.0 428.0L549.0 438.2L550.1 436.0L551.2 434.4L552.2 427.8L553.3 435.0L554.4 437.9L555.4 428.2L556.5 429.1L557.6 437.1L558.6 428.4L559.7 430.1L560.8 434.1L561.8 430.8L562.9 432.0L564.0 427.1L565.0 424.1L566.1 434.3L567.2 437.3L568.2 433.9L569.3 430.2L570.4 435.3L571.4 436.5L572.5 435.9L573.6 425.7L574.7 428.1L575.7 436.8L576.8 434.6L577.9 435.0L578.9 436.8L580.0 425.7L581.1 434.7L582.1 430.5L583.2 433.3L584.3 437.1L585.3 437.4L586.4 428.1L587.5 429.2L588.5 431.5L589.6 435.9L590.7 433.7L591.7 431.1L592.8 435.4L593.9 429.9L594.9 425.2L596.0 435.8L597.1 423.3L598.1 431.0L599.2 422.3L600.3 422.5L601.3 436.9L602.4 427.8L603.5 434.8L604.5 428.9L605.6 423.8L606.7 431.5L607.7 428.2L608.8 427.9L609.9 435.3L610.9 431.9L612.0 433.9L613.1 431.0L614.1 426.0L615.2 435.7L616.3 429.7L617.3 421.2L618.4 431.8L619.5 422.1L620.5 430.4L621.6 420.2L622.7 432.7L623.7 425.6L624.8 410.1L625.9 413.8L626.9 417.7L628.0 427.2L629.1 423.4L630.1 427.7L631.2 408.4L632.3 407.3L633.3 406.4L634.4 414.2L635.5 422.3L636.5 417.0L637.6 410.2L638.7 416.5L639.7 424.4L640.8 412.4L641.9 422.9L642.9 394.7L644.0 400.4L645.1 406.8L646.1 399.5L647.2 403.0L648.3 403.1L649.3 415.7L650.4 399.7L651.5 417.7L652.5 419.3L653.6 410.7L654.7 415.4L655.7 396.4L656.8 410.7L657.9 381.6L658.9 390.2L660.0 381.7L661.1 390.8L662.1 378.1L663.2 385.1L664.3 373.7L665.3 384.4L666.4 374.9L667.5 370.5L668.5 400.3L669.6 348.8L670.7 375.2L671.7 392.6L672.8 365.8L673.9 406.1L674.9 365.8L676.0 398.7L677.1 397.4L678.1 372.5L679.2 407.2L680.3 370.9L681.3 361.5L682.4 404.8L683.5 357.9L684.5 378.0L685.6 402.4L686.7 369.2L687.8 403.2L688.8 393.0L689.9 399.4L691.0 393.5L692.0 403.3L693.1 394.3L694.2 361.8L695.2 390.0L696.3 386.8L697.4 366.2L698.4 368.1L699.5 403.0L700.6 373.8L701.6 369.8L702.7 362.6L703.8 390.4L704.8 360.7L705.9 381.3L707.0 385.5L708.0 383.1L709.1 353.9L710.2 375.2L711.2 385.2L712.3 368.0L713.4 391.1L714.4 407.9L715.5 406.0L716.6 397.7L717.6 396.6L718.7 373.7L719.8 393.5L720.8 409.7L721.9 405.5L723.0 396.7L724.0 385.5L725.1 389.7L726.2 393.1L727.2 408.2L728.3 396.6L729.4 409.0L730.4 414.2L731.5 389.4L732.6 394.4L733.6 379.4L734.7 390.8L735.8 410.1L736.8 416.0L737.9 404.5L739.0 407.9L740.0 401.8L741.1 381.6L742.2 416.5L743.2 416.1L744.3 381.6L744.3 452.8Z" stroke="#0a7d0a" fill="#0a7d0a"/>
<path d="M169.2 452.8L169.2 437.0L170.3 446.2L171.3 446.2L172.4 445.8L173.5 440.5L174.5 440.3L175.6 443.5L176.7 447.2L177.7 438.3L178.8 439.3L179.9 445.5L180.9 447.5L182.0 443.7L183.1 446.6L184.1 444.9L185.2 444.7L186.3 445.6L187.3 439.3L188.4 445.0L189.5 447.2L190.5 443.2L191.6 439.8L192.7 446.5L193.7 444.0L194.8 445.3L195.9 442.4L196.9 445.9L198.0 446.4L199.1 439.5L200.1 441.1L201.2 442.4L202.3 443.0L203.3 440.1L204.4 447.9L205.5 445.2L206.5 443.5L207.6 447.6L208.7 439.7L209.7 443.0L210.8 442.4L211.9 440.3L212.9 444.2L214.0 441.0L215.1 446.1L216.1 441.0L217.2 445.1L218.3 442.6L219.3 447.0L220.4 445.4L221.5 444.8L222.5 445.2L223.6 441.5L224.7 445.8L225.7 442.1L226.8 440.9L227.9 447.7L229.0 447.9L230.0 447.9L231.1 445.1L232.2 448.5L233.2 444.5L234.3 442.9L235.4 442.5L236.4 448.8L237.5 447.9L238.6 446.7L239.6 449.1L240.7 445.1L241.8 446.8L242.8 447.0L243.9 448.7L245.0 449.1L246.0 443.9L247.1 446.1L248.2 447.8L249.2 444.2L250.3 449.1L251.4 447.7L252.4 449.4L253.5 445.2L254.6 444.7L255.6 448.6L256.7 445.3L257.8 444.5L258.8 449.0L259.9 444.6L261.0 448.6L262.0 446.5L263.1 447.6L264.2 448.7L265.2 447.4L266.3 450.1L267.4 448.1L268.4 448.2L269.5 447.5L270.6 446.9L271.6 446.3L272.7 446.8L273.8 446.5L274.8 449.1L275.9 450.2L277.0 448.0L278.0 450.4L279.1 446.6L280.2 449.0L281.2 449.9L282.3 450.4L283.4 447.6L284.4 446.9L285.5 450.4L286.6 448.0L287.6 450.4L288.7 448.3L289.8 449.0L290.8 448.5L291.9 450.4L293.0 447.8L294.0 447.9L295.1 447.6L296.2 449.5L297.2 450.0L298.3 448.9L299.4 448.2L300.4 447.9L301.5 449.3L302.6 448.6L303.6 448.5L304.7 448.7L305.8 448.1L306.8 449.8L307.9 450.1L309.0 449.9L310.0 447.8L311.1 446.9L312.2 449.8L313.2 448.4L314.3 448.7L315.4 447.3L316.4 450.4L317.5 448.5L318.6 447.3L319.6 446.8L320.7 449.4L321.8 449.1L322.8 447.5L323.9 447.0L325.0 450.0L326.0 447.2L327.1 450.4L328.2 450.4L329.2 450.4L330.3 450.4L331.4 450.4L332.4 450.0L333.5 449.8L334.6 446.7L335.6 447.6L336.7 450.4L337.8 450.1L338.8 448.1L339.9 448.5L341.0 449.2L342.1 449.3L343.1 447.8L344.2 449.0L345.3 447.9L346.3 450.4L347.4 450.4L348.5 450.1L349.5 448.5L350.6 448.6L351.7 447.2L352.7 447.1L353.8 447.5L354.9 449.6L355.9 450.4L357.0 447.1L358.1 446.8L359.1 450.4L360.2 450.4L361.3 450.1L362.3 449.5L363.4 447.9L364.5 449.1L365.5 448.1L366.6 447.4L367.7 450.1L368.7 449.6L369.8 446.5L370.9 448.7L371.9 448.9L373.0 448.6L374.1 448.6L375.1 447.8L376.2 447.0L377.3 448.3L378.3 448.2L379.4 448.5L380.5 449.9L381.5 447.6L382.6 450.0L383.7 449.8L384.7 449.5L385.8 448.7L386.9 447.3L387.9 449.4L389.0 448.3L390.1 449.1L391.1 449.0L392.2 446.4L393.3 448.1L394.3 450.4L395.4 447.0L396.5 448.8L397.5 446.4L398.6 450.2L399.7 446.4L400.7 448.0L401.8 448.2L402.9 448.8L403.9 446.4L405.0 447.1L406.1 448.6L407.1 449.3L408.2 449.2L409.3 448.8L410.3 450.0L411.4 449.8L412.5 447.9L413.5 447.4L414.6 446.6L415.7 450.1L416.7 449.5L417.8 450.0L418.9 448.1L419.9 449.5L421.0 449.5L422.1 450.3L423.1 447.3L424.2 446.4L425.3 450.1L426.3 448.7L427.4 447.2L428.5 446.8L429.5 449.3L430.6 450.3L431.7 447.3L432.7 447.6L433.8 449.1L434.9 446.1L435.9 447.6L437.0 448.3L438.1 448.2L439.1 450.2L440.2 446.2L441.3 446.0L442.3 450.0L443.4 447.2L444.5 448.2L445.5 449.1L446.6 448.1L447.7 450.1L448.7 449.3L449.8 449.3L450.9 447.7L451.9 448.4L453.0 450.3L454.1 449.5L455.1 449.1L456.2 449.2L457.3 447.1L458.4 446.8L459.4 446.1L460.5 446.2L461.6 448.6L462.6 448.2L463.7 448.0L464.8 448.5L465.8 450.3L466.9 450.1L468.0 447.0L469.0 447.2L470.1 449.4L471.2 449.8L472.2 448.2L473.3 446.7L474.4 450.2L475.4 447.7L476.5 449.7L477.6 449.6L478.6 448.8L479.7 449.9L480.8 447.2L481.8 450.1L482.9 448.5L484.0 447.6L485.0 446.7L486.1 448.2L487.2 450.0L488.2 446.8L489.3 446.1L490.4 450.3L491.4 446.2L492.5 447.8L493.6 447.9L494.6 448.9L495.7 449.9L496.8 447.9L497.8 446.3L498.9 450.3L500.0 448.1L501.0 447.7L502.1 446.1L503.2 450.3L504.2 449.0L505.3 450.0L506.4 449.3L507.4 446.1L508.5 449.8L509.6 449.0L510.6 446.6L511.7 447.0L512.8 446.1L513.8 450.0L514.9 450.1L516.0 449.6L517.0 448.4L518.1 447.4L519.2 450.0L520.2 447.7L521.3 449.6L522.4 445.7L523.4 448.0L524.5 449.9L525.6 446.5L526.6 448.3L527.7 446.8L528.8 448.1L529.8 446.2L530.9 449.3L532.0 445.6L533.0 450.2L534.1 448.9L535.2 449.8L536.2 445.5L537.3 450.2L538.4 449.3L539.4 448.8L540.5 450.0L541.6 445.9L542.6 446.8L543.7 448.0L544.8 448.7L545.8 449.6L546.9 449.7L548.0 448.7L549.0 447.6L550.1 446.2L551.2 449.4L552.2 446.2L553.3 447.3L554.4 449.7L555.4 450.1L556.5 450.1L557.6 445.5L558.6 449.4L559.7 450.0L560.8 447.3L561.8 449.3L562.9 445.6L564.0 447.3L565.0 446.0L566.1 447.4L567.2 446.9L568.2 448.4L569.3 448.5L570.4 446.6L571.4 449.6L572.5 450.0L573.6 445.8L574.7 448.7L575.7 447.8L576.8 448.7L577.9 446.8L578.9 446.6L580.0 449.6L581.1 446.6L582.1 449.0L583.2 447.7L584.3 448.2L585.3 446.1L586.4 448.5L587.5 446.2L588.5 445.5L589.6 447.7L590.7 446.3L591.7 445.8L592.8 449.4L593.9 448.3L594.9 445.7L596.0 446.6L597.1 446.1L598.1 447.5L599.2 448.7L600.3 446.4L601.3 448.8L602.4 447.6L603.5 449.4L604.5 448.5L605.6 448.3L606.7 449.8L607.7 449.8L608.8 445.7L609.9 445.1L610.9 449.6L612.0 448.7L613.1 447.0L614.1 449.7L615.2 449.9L616.3 445.6L617.3 449.1L618.4 445.2L619.5 447.9L620.5 447.5L621.6 447.8L622.7 447.9L623.7 449.1L624.8 447.3L625.9 448.3L626.9 445.9L628.0 449.0L629.1 444.9L630.1 444.8L631.2 446.1L632.3 447.4L633.3 441.8L634.4 445.7L635.5 440.1L636.5 439.8L637.6 443.5L638.7 437.9L639.7 439.3L640.8 429.1L641.9 428.0L642.9 440.4L644.0 437.7L645.1 426.1L646.1 429.4L647.2 439.3L648.3 428.5L649.3 440.2L650.4 423.4L651.5 426.4L652.5 413.2L653.6 425.7L654.7 431.0L655.7 421.5L656.8 426.9L657.9 416.7L658.9 436.2L660.0 430.7L661.1 433.0L662.1 421.9L663.2 417.2L664.3 401.4L665.3 403.2L666.4 425.1L667.5 434.2L668.5 411.5L669.6 432.1L670.7 433.8L671.7 426.8L672.8 420.5L673.9 428.0L674.9 424.9L676.0 430.7L677.1 423.7L678.1 405.8L679.2 424.9L680.3 414.5L681.3 427.8L682.4 430.1L683.5 423.9L684.5 431.9L685.6 417.7L686.7 393.5L687.8 419.0L688.8 425.7L689.9 421.8L691.0 399.2L692.0 423.9L693.1 420.1L694.2 403.6L695.2 422.4L696.3 389.3L697.4 424.3L698.4 428.2L699.5 413.1L700.6 407.1L701.6 405.0L702.7 416.3L703.8 392.1L704.8 387.5L705.9 406.9L707.0 387.5L708.0 387.6L709.1 419.9L710.2 373.7L711.2 422.4L712.3 424.6L713.4 393.1L714.4 414.7L715.5 425.0L716.6 409.1L717.6 421.0L718.7 429.7L719.8 418.3L720.8 393.5L721.9 407.8L723.0 395.0L724.0 418.2L725.1 397.2L726.2 422.3L727.2 418.7L728.3 408.6L729.4 420.5L730.4 430.2L731.5 411.4L732.6 403.0L733.6 425.3L734.7 423.6L735.8 427.3L736.8 414.3L737.9 421.9L739.0 430.4L740.0 407.3L741.1 435.5L742.2 410.8L743.2 410.2L744.3 405.3L744.3 452.8Z" stroke="#c4c41a" fill="#c4c41a"/>
<path d="M169.2 452.8L169.2 440.9L170.3 443.9L171.3 444.4L172.4 446.9L173.5 445.4L174.5 447.2L175.6 445.6L176.7 444.8L177.7 441.9L178.8 445.8L179.9 447.0L180.9 441.4L182.0 444.0L183.1 447.1L184.1 447.3L185.2 445.8L186.3 446.6L187.3 445.9L188.4 446.4L189.5 441.7L190.5 442.6L191.6 443.7L192.7 447.2L193.7 442.8L194.8 445.7L195.9 442.1L196.9 447.4L198.0 447.0L199.1 447.1L200.1 442.6L201.2 441.4L202.3 443.1L203.3 446.2L204.4 447.4L205.5 441.3L206.5 446.9L207.6 442.6L208.7 445.2L209.7 446.0L210.8 445.6L211.9 447.3L212.9 447.1L214.0 442.1L215.1 445.3L216.1 443.7L217.2 446.1L218.3 445.1L219.3 442.7L220.4 443.9L221.5 445.7L222.5 445.3L223.6 441.1L224.7 447.4L225.7 445.6L226.8 447.1L227.9 447.2L229.0 447.4L230.0 443.0L231.1 445.3L232.2 444.6L233.2 446.2L234.3 445.7L235.4 445.3L236.4 442.4L237.5 447.2L238.6 446.9L239.6 446.9L240.7 445.2L241.8 445.1L242.8 443.7L243.9 441.0L245.0 441.7L246.0 446.6L247.1 445.6L248.2 444.8L249.2 442.8L250.3 444.9L251.4 447.0L252.4 447.4L253.5 446.0L254.6 444.2L255.6 446.9L256.7 445.3L257.8 445.8L258.8 441.3L259.9 443.5L261.0 441.2L262.0 444.9L263.1 445.0L264.2 441.1L265.2 445.6L266.3 444.6L267.4 447.4L268.4 446.9L269.5 446.3L270.6 446.5L271.6 445.4L272.7 441.9L273.8 446.7L274.8 447.4L275.9 444.5L277.0 445.9L278.0 447.4L279.1 443.0L280.2 441.5L281.2 443.1L282.3 442.7L283.4 443.0L284.4 440.9L285.5 446.6L286.6 440.6L287.6 441.6L288.7 438.4L289.8 438.9L290.8 441.5L291.9 439.8L293.0 443.4L294.0 442.2L295.1 443.3L296.2 433.0L297.2 433.3L298.3 438.9L299.4 429.1L300.4 438.7L301.5 430.5L302.6 436.3L303.6 428.0L304.7 423.1L305.8 419.1L306.8 413.2L307.9 431.7L309.0 414.4L310.0 422.2L311.1 411.9L312.2 419.8L313.2 406.5L314.3 373.7L315.4 413.6L316.4 392.2L317.5 372.6L318.6 391.7L319.6 400.1L320.7 355.9L321.8 389.2L322.8 390.6L323.9 368.7L325.0 362.1L326.0 362.1L327.1 334.2L328.2 351.5L329.2 356.1L330.3 388.4L331.4 366.4L332.4 379.0L333.5 394.9L334.6 360.3L335.6 326.2L336.7 346.0L337.8 347.7L338.8 373.5L339.9 337.7L341.0 255.1L342.1 354.9L343.1 286.1L344.2 292.3L345.3 294.6L346.3 312.4L347.4 333.3L348.5 239.2L349.5 258.2L350.6 325.4L351.7 317.7L352.7 286.7L353.8 318.1L354.9 256.2L355.9 328.5L357.0 343.8L358.1 196.1L359.1 353.1L360.2 305.9L361.3 294.6L362.3 360.4L363.4 313.2L364.5 310.4L365.5 379.4L366.6 332.3L367.7 391.6L368.7 381.3L369.8 320.3L370.9 383.1L371.9 371.6L373.0 368.7L374.1 413.8L375.1 391.5L376.2 408.1L377.3 407.1L378.3 433.4L379.4 425.9L380.5 423.9L381.5 432.7L382.6 431.0L383.7 436.5L384.7 424.8L385.8 436.9L386.9 422.8L387.9 421.2L389.0 425.9L390.1 434.9L391.1 424.7L392.2 438.1L393.3 434.6L394.3 434.9L395.4 440.0L396.5 427.4L397.5 440.3L398.6 437.2L399.7 429.1L400.7 439.9L401.8 432.1L402.9 434.6L403.9 439.0L405.0 435.0L406.1 441.1L407.1 434.9L408.2 431.1L409.3 442.1L410.3 439.8L411.4 440.3L412.5 441.8L413.5 430.7L414.6 434.5L415.7 435.6L416.7 435.7L417.8 434.8L418.9 440.0L419.9 440.9L421.0 441.9L422.1 441.3L423.1 440.9L424.2 432.9L425.3 439.6L426.3 438.9L427.4 433.8L428.5 430.0L429.5 441.7L430.6 436.2L431.7 438.5L432.7 441.1L433.8 439.5L434.9 433.2L435.9 440.3L437.0 436.6L438.1 438.1L439.1 442.3L440.2 432.0L441.3 432.0L442.3 432.4L443.4 438.4L444.5 438.4L445.5 435.0L446.6 429.9L447.7 437.6L448.7 440.0L449.8 437.9L450.9 436.6L451.9 435.7L453.0 430.7L454.1 436.5L455.1 432.8L456.2 438.0L457.3 438.2L458.4 431.4L459.4 440.3L460.5 440.1L461.6 437.0L462.6 441.9L463.7 441.4L464.8 437.4L465.8 435.7L466.9 430.2L468.0 441.9L469.0 442.3L470.1 435.0L471.2 431.7L472.2 442.1L473.3 440.2L474.4 435.2L475.4 435.8L476.5 432.2L477.6 435.5L478.6 430.9L479.7 440.3L480.8 434.2L481.8 436.6L482.9 439.2L484.0 434.6L485.0 432.7L486.1 436.7L487.2 434.7L488.2 439.0L489.3 432.5L490.4 439.3L491.4 436.2L492.5 436.6L493.6 437.7L494.6 431.6L495.7 435.0L496.8 436.7L497.8 434.9L498.9 435.0L500.0 440.0L501.0 440.2L502.1 436.4L503.2 441.9L504.2 433.4L505.3 434.1L506.4 436.0L507.4 440.0L508.5 430.7L509.6 434.6L510.6 432.7L511.7 434.9L512.8 437.2L513.8 440.6L514.9 441.6L516.0 433.5L517.0 436.4L518.1 441.1L519.2 441.4L520.2 438.3L521.3 436.2L522.4 434.4L523.4 438.4L524.5 441.0L525.6 435.7L526.6 442.1L527.7 441.7L528.8 439.7L529.8 437.3L530.9 442.8L532.0 442.1L533.0 435.3L534.1 439.3L535.2 438.9L536.2 438.6L537.3 441.8L538.4 431.3L539.4 432.0L540.5 436.4L541.6 442.4L542.6 435.7L543.7 433.8L544.8 440.2L545.8 442.0L546.9 435.1L548.0 436.5L549.0 439.6L550.1 440.7L551.2 432.0L552.2 442.5L553.3 440.6L554.4 438.6L555.4 437.2L556.5 441.1L557.6 437.1L558.6 442.4L559.7 438.0L560.8 442.6L561.8 439.7L562.9 435.5L564.0 441.7L565.0 442.1L566.1 431.6L567.2 439.3L568.2 442.8L569.3 439.4L570.4 441.1L571.4 434.0L572.5 433.0L573.6 434.9L574.7 436.2L575.7 437.6L576.8 442.8L577.9 436.5L578.9 439.9L580.0 441.0L581.1 437.7L582.1 441.4L583.2 431.4L584.3 437.3L585.3 435.2L586.4 442.6L587.5 443.0L588.5 442.1L589.6 442.0L590.7 438.0L591.7 436.6L592.8 433.0L593.9 442.7L594.9 438.7L596.0 436.5L597.1 439.7L598.1 442.8L599.2 442.7L600.3 443.1L601.3 440.8L602.4 442.3L603.5 432.2L604.5 437.0L605.6 442.7L606.7 436.6L607.7 438.7L608.8 434.2L609.9 442.1L610.9 440.6L612.0 438.9L613.1 438.6L614.1 442.5L615.2 434.2L616.3 442.4L617.3 439.3L618.4 438.0L619.5 439.6L620.5 440.7L621.6 435.9L622.7 438.6L623.7 436.4L624.8 435.3L625.9 432.9L626.9 439.0L628.0 439.9L629.1 433.0L630.1 432.3L631.2 433.7L632.3 442.1L633.3 433.2L634.4 437.1L635.5 438.7L636.5 442.7L637.6 442.4L638.7 433.9L639.7 441.3L640.8 439.3L641.9 439.9L642.9 440.3L644.0 439.9L645.1 441.5L646.1 433.5L647.2 438.9L648.3 441.3L649.3 442.1L650.4 435.0L651.5 435.2L652.5 434.7L653.6 437.9L654.7 441.0L655.7 442.1L656.8 440.6L657.9 443.1L658.9 441.6L660.0 440.9L661.1 442.9L662.1 442.7L663.2 442.9L664.3 440.5L665.3 433.3L666.4 432.8L667.5 443.0L668.5 438.0L669.6 443.5L670.7 437.1L671.7 437.6L672.8 439.1L673.9 441.7L674.9 439.7L676.0 443.4L677.1 437.3L678.1 435.6L679.2 443.2L680.3 432.3L681.3 442.6L682.4 433.6L683.5 432.7L684.5 440.2L685.6 434.8L686.7 438.6L687.8 441.8L688.8 437.0L689.9 440.9L691.0 442.8L692.0 435.8L693.1 442.5L694.2 433.5L695.2 442.5L696.3 441.4L697.4 435.5L698.4 435.0L699.5 440.6L700.6 438.1L701.6 433.4L702.7 441.7L703.8 441.9L704.8 443.2L705.9 437.1L707.0 437.1L708.0 443.1L709.1 436.7L710.2 441.8L711.2 439.4L712.3 438.8L713.4 438.5L714.4 438.9L715.5 440.7L716.6 437.0L717.6 442.5L718.7 434.7L719.8 440.8L720.8 436.1L721.9 438.3L723.0 440.2L724.0 439.9L725.1 439.3L726.2 440.6L727.2 438.9L728.3 439.9L729.4 435.2L730.4 442.2L731.5 436.5L732.6 440.7L733.6 435.1L734.7 435.5L735.8 443.6L736.8 434.0L737.9 435.7L739.0 437.8L740.0 442.8L741.1 435.5L742.2 438.7L743.2 442.5L744.3 433.0L744.3 452.8Z" stroke="#f5deb3" fill="#f5deb3"/>
<path d="M169.2 452.8L169.2 435.0L170.3 438.4L171.3 443.4L172.4 442.2L173.5 444.2L174.5 441.2L175.6 438.4L176.7 437.6L177.7 440.3L178.8 441.5L179.9 443.0L180.9 440.4L182.0 434.8L183.1 432.4L184.1 432.3L185.2 442.4L186.3 441.9L187.3 439.3L188.4 429.9L189.5 442.5L190.5 442.6L191.6 434.5L192.7 432.8L193.7 440.5L194.8 437.0L195.9 438.7L196.9 438.6L198.0 442.7L199.1 438.3L200.1 445.7L201.2 445.3L202.3 443.0L203.3 440.9L204.4 442.0L205.5 441.7L206.5 441.5L207.6 440.3L208.7 442.1L209.7 445.3L210.8 444.0L211.9 445.7L212.9 442.8L214.0 440.2L215.1 439.1L216.1 438.5L217.2 442.9L218.3 435.1L219.3 439.4L220.4 442.5L221.5 433.5L222.5 436.7L223.6 436.2L224.7 436.8L225.7 442.8L226.8 436.8L227.9 434.0L229.0 429.1L230.0 441.9L231.1 441.3L232.2 441.2L233.2 442.9L234.3 447.5L235.4 445.7L236.4 448.2L237.5 447.8L238.6 446.8L239.6 448.3L240.7 446.9L241.8 443.8L242.8 447.2L243.9 447.9L245.0 448.0L246.0 445.8L247.1 446.6L248.2 445.3L249.2 446.6L250.3 445.9L251.4 446.6L252.4 447.2L253.5 448.3L254.6 447.2L255.6 444.6L256.7 446.9L257.8 444.4L258.8 448.2L259.9 444.8L261.0 444.0L262.0 447.4L263.1 446.7L264.2 447.3L265.2 446.4L266.3 443.3L267.4 444.8L268.4 448.0L269.5 442.8L270.6 444.9L271.6 444.0L272.7 443.8L273.8 443.3L274.8 444.3L275.9 447.2L277.0 444.5L278.0 445.0L279.1 446.5L280.2 443.6L281.2 448.2L282.3 446.0L283.4 443.5L284.4 445.8L285.5 446.6L286.6 447.9L287.6 447.6L288.7 447.2L289.8 442.7L290.8 445.7L291.9 447.0L293.0 443.4L294.0 445.3L295.1 447.1L296.2 445.0L297.2 448.2L298.3 445.8L299.4 445.8L300.4 448.0L301.5 444.9L302.6 448.2L303.6 447.5L304.7 444.4L305.8 446.5L306.8 444.5L307.9 445.7L309.0 446.1L310.0 445.3L311.1 448.1L312.2 448.2L313.2 443.0L314.3 444.7L315.4 447.5L316.4 444.6L317.5 443.0L318.6 443.7L319.6 445.0L320.7 445.7L321.8 445.1L322.8 447.5L323.9 446.2L325.0 443.4L326.0 446.6L327.1 447.1L328.2 445.7L329.2 443.8L330.3 443.3L331.4 442.4L332.4 442.7L333.5 447.8L334.6 446.1L335.6 445.5L336.7 444.7L337.8 447.8L338.8 446.6L339.9 446.5L341.0 445.1L342.1 446.5L343.1 446.8L344.2 447.5L345.3 444.7L346.3 446.8L347.4 447.4L348.5 443.0L349.5 446.4L350.6 447.0L351.7 447.8L352.7 445.6L353.8 446.7L354.9 445.2L355.9 446.8L357.0 445.9L358.1 447.7L359.1 447.9L360.2 442.8L361.3 444.2L362.3 446.2L363.4 447.3L364.5 444.7L365.5 445.0L366.6 444.9L367.7 442.4L368.7 446.5L369.8 442.8L370.9 446.1L371.9 442.4L373.0 442.4L374.1 446.2L375.1 445.7L376.2 443.0L377.3 443.0L378.3 447.7L379.4 445.6L380.5 447.7L381.5 443.3L382.6 446.9L383.7 446.6L384.7 446.7L385.8 444.2L386.9 446.7L387.9 446.0L389.0 443.1L390.1 446.0L391.1 442.7L392.2 442.7L393.3 445.9L394.3 447.1L395.4 442.6L396.5 445.2L397.5 446.4L398.6 447.8L399.7 445.8L400.7 447.9L401.8 444.8L402.9 446.2L403.9 446.8L405.0 447.1L406.1 443.8L407.1 442.8L408.2 447.9L409.3 445.4L410.3 447.7L411.4 447.9L412.5 442.1L413.5 446.6L414.6 445.3L415.7 442.7L416.7 444.6L417.8 446.4L418.9 444.2L419.9 443.6L421.0 444.6L422.1 446.2L423.1 443.8L424.2 446.3L425.3 446.3L426.3 446.8L427.4 442.1L428.5 447.5L429.5 447.8L430.6 446.7L431.7 447.5L432.7 446.3L433.8 442.4L434.9 442.3L435.9 447.0L437.0 446.7L438.1 446.1L439.1 442.3L440.2 446.8L441.3 443.7L442.3 444.5L443.4 442.8L444.5 446.7L445.5 442.4L446.6 441.9L447.7 446.1L448.7 442.3L449.8 443.8L450.9 447.0L451.9 445.8L453.0 446.9L454.1 442.6L455.1 447.0L456.2 442.7L457.3 446.7L458.4 442.6L459.4 443.4L460.5 443.8L461.6 446.7L462.6 443.9L463.7 444.5L464.8 446.3L465.8 441.9L466.9 442.1L468.0 444.3L469.0 442.5L470.1 446.4L471.2 447.2L472.2 446.3L473.3 444.9L474.4 442.5L475.4 443.0L476.5 446.8L477.6 443.1L478.6 442.6L479.7 444.8L480.8 445.3L481.8 445.5L482.9 447.0L484.0 446.7L485.0 445.3L486.1 445.2L487.2 445.1L488.2 445.6L489.3 442.8L490.4 447.2L491.4 447.1L492.5 442.2L493.6 444.7L494.6 444.5L495.7 445.4L496.8 445.7L497.8 446.2L498.9 445.0L500.0 442.9L501.0 447.6L502.1 442.0L503.2 447.0L504.2 445.3L505.3 442.9L506.4 447.3L507.4 444.2L508.5 444.5L509.6 444.9L510.6 442.9L511.7 447.3L512.8 446.9L513.8 442.2L514.9 441.9L516.0 447.3L517.0 444.0L518.1 447.4L519.2 442.0L520.2 441.9L521.3 443.9L522.4 445.3L523.4 444.1L524.5 444.8L525.6 442.8L526.6 442.8L527.7 442.5L528.8 442.7L529.8 446.8L530.9 446.9L532.0 443.8L533.0 444.8L534.1 441.7L535.2 447.5L536.2 445.7L537.3 442.5L538.4 445.4L539.4 447.2L540.5 446.2L541.6 441.7L542.6 443.2L543.7 442.6L544.8 446.6L545.8 442.9L546.9 447.6L548.0 446.8L549.0 444.2L550.1 444.0L551.2 445.4L552.2 441.7L553.3 445.9L554.4 446.5L555.4 446.8L556.5 443.3L557.6 442.8L558.6 442.7L559.7 444.2L560.8 447.5L561.8 445.6L562.9 447.0L564.0 446.4L565.0 447.5L566.1 443.7L567.2 446.6L568.2 444.6L569.3 441.5L570.4 446.6L571.4 446.3L572.5 446.5L573.6 447.4L574.7 444.5L575.7 444.6L576.8 444.3L577.9 441.5L578.9 444.5L580.0 444.2L581.1 442.1L582.1 442.2L583.2 444.8L584.3 444.2L585.3 445.8L586.4 445.0L587.5 445.1L588.5 444.7L589.6 446.6L590.7 444.2L591.7 446.3L592.8 446.1L593.9 446.2L594.9 442.8L596.0 447.3L597.1 441.1L598.1 446.9L599.2 444.1L600.3 446.6L601.3 443.6L602.4 442.2L603.5 445.3L604.5 445.1L605.6 441.2L606.7 444.3L607.7 445.8L608.8 446.5L609.9 442.3L610.9 443.4L612.0 446.1L613.1 444.8L614.1 447.0L615.2 442.8L616.3 441.8L617.3 443.2L618.4 443.3L619.5 447.0L620.5 441.7L621.6 444.2L622.7 441.8L623.7 443.0L624.8 441.9L625.9 442.5L626.9 443.1L628.0 444.1L629.1 440.9L630.1 446.3L631.2 441.2L632.3 441.9L633.3 445.8L634.4 446.5L635.5 440.5L636.5 446.6L637.6 442.3L638.7 441.4L639.7 443.6L640.8 438.9L641.9 441.3L642.9 437.5L644.0 440.4L645.1 441.5L646.1 445.2L647.2 437.7L648.3 444.7L649.3 443.4L650.4 439.6L651.5 439.0L652.5 435.9L653.6 435.4L654.7 435.4L655.7 436.8L656.8 441.3L657.9 437.2L658.9 443.1L660.0 441.4L661.1 432.8L662.1 437.4L663.2 433.2L664.3 442.3L665.3 437.3L666.4 441.8L667.5 435.4L668.5 431.9L669.6 438.6L670.7 442.6L671.7 439.5L672.8 441.9L673.9 437.6L674.9 429.1L676.0 428.4L677.1 438.3L678.1 439.1L679.2 439.4L680.3 435.4L681.3 435.3L682.4 435.3L683.5 420.6L684.5 432.4L685.6 433.8L686.7 433.2L687.8 419.6L688.8 426.0L689.9 426.0L691.0 416.6L692.0 405.3L693.1 420.9L694.2 414.1L695.2 421.6L696.3 416.1L697.4 405.4L698.4 423.9L699.5 411.4L700.6 410.6L701.6 411.0L702.7 402.0L703.8 373.7L704.8 386.0L705.9 381.6L707.0 387.5L708.0 411.7L709.1 402.2L710.2 377.6L711.2 404.3L712.3 378.3L713.4 404.7L714.4 355.5L715.5 339.3L716.6 383.0L717.6 402.0L718.7 402.3L719.8 390.8L720.8 365.8L721.9 374.5L723.0 408.0L724.0 374.7L725.1 407.7L726.2 401.4L727.2 372.3L728.3 396.8L729.4 408.6L730.4 400.6L731.5 382.7L732.6 373.7L733.6 414.9L734.7 399.7L735.8 406.3L736.8 416.8L737.9 404.5L739.0 410.7L740.0 392.0L741.1 419.6L742.2 405.8L743.2 410.5L744.3 381.6L744.3 452.8Z" stroke="#ff7f50" fill="#ff7f50"/>
<path d="M169.2 452.8L169.2 435.0L170.3 435.3L171.3 438.9L172.4 442.1L173.5 442.6L174.5 441.6L175.6 436.2L176.7 440.1L177.7 436.1L178.8 443.8L179.9 441.0L180.9 438.9L182.0 437.8L183.1 444.7L184.1 442.3L185.2 437.4L186.3 440.3L187.3 444.5L188.4 442.3L189.5 441.6L190.5 445.3L191.6 442.4L192.7 442.0L193.7 436.8L194.8 441.6L195.9 441.6L196.9 445.2L198.0 445.4L199.1 442.3L200.1 440.8L201.2 444.4L202.3 441.4L203.3 437.0L204.4 444.1L205.5 442.2L206.5 444.1L207.6 443.1L208.7 440.8L209.7 445.3L210.8 441.6L211.9 438.8L212.9 440.3L214.0 444.3L215.1 442.3L216.1 446.2L217.2 441.9L218.3 441.8L219.3 445.9L220.4 445.0L221.5 443.4L222.5 443.1L223.6 443.6L224.7 442.7L225.7 442.0L226.8 440.9L227.9 447.5L229.0 442.7L230.0 447.3L231.1 444.9L232.2 443.7L233.2 443.1L234.3 445.1L235.4 444.5L236.4 442.2L237.5 443.7L238.6 446.9L239.6 442.8L240.7 444.6L241.8 447.0L242.8 447.2L243.9 446.3L245.0 446.0L246.0 444.0L247.1 446.5L248.2 445.0L249.2 447.2L250.3 446.6L251.4 447.4L252.4 447.2L253.5 445.6L254.6 448.0L255.6 446.9L256.7 445.6L257.8 448.9L258.8 447.5L259.9 445.7L261.0 446.4L262.0 445.6L263.1 448.4L264.2 446.9L265.2 448.3L266.3 449.1L267.4 446.3L268.4 448.5L269.5 446.7L270.6 446.6L271.6 446.5L272.7 448.8L273.8 446.8L274.8 449.1L275.9 447.5L277.0 449.8L278.0 447.2L279.1 449.8L280.2 447.7L281.2 448.1L282.3 449.9L283.4 448.4L284.4 446.9L285.5 447.7L286.6 446.9L287.6 449.6L288.7 449.0L289.8 449.2L290.8 448.2L291.9 449.7L293.0 448.6L294.0 449.6L295.1 449.7L296.2 447.8L297.2 448.6L298.3 447.7L299.4 448.2L300.4 447.4L301.5 448.8L302.6 450.1L303.6 446.8L304.7 449.6L305.8 447.5L306.8 449.7L307.9 448.7L309.0 449.4L310.0 448.1L311.1 449.9L312.2 449.9L313.2 448.8L314.3 447.3L315.4 448.8L316.4 449.8L317.5 446.7L318.6 449.9L319.6 449.3L320.7 448.4L321.8 449.4L322.8 447.9L323.9 448.9L325.0 447.5L326.0 449.9L327.1 447.4L328.2 447.0L329.2 449.4L330.3 449.5L331.4 447.1L332.4 448.9L333.5 449.0L334.6 448.3L335.6 448.4L336.7 447.4L337.8 448.0L338.8 447.8L339.9 448.8L341.0 448.5L342.1 447.2L343.1 447.1L344.2 448.2L345.3 448.2L346.3 449.2L347.4 448.6L348.5 449.5L349.5 448.6L350.6 449.9L351.7 449.4L352.7 449.3L353.8 448.6L354.9 447.8L355.9 449.8L357.0 448.0L358.1 447.4L359.1 449.6L360.2 449.7L361.3 449.8L362.3 448.0L363.4 448.9L364.5 449.9L365.5 449.7L366.6 449.0L367.7 449.8L368.7 447.3L369.8 449.5L370.9 447.2L371.9 449.9L373.0 449.0L374.1 446.7L375.1 449.6L376.2 449.8L377.3 447.1L378.3 447.2L379.4 448.5L380.5 449.6L381.5 449.2L382.6 448.6L383.7 446.5L384.7 449.4L385.8 447.8L386.9 447.6L387.9 446.9L389.0 447.7L390.1 448.9L391.1 448.6L392.2 448.5L393.3 448.0L394.3 448.3L395.4 449.7L396.5 447.3L397.5 448.9L398.6 447.9L399.7 449.0L400.7 448.6L401.8 446.2L402.9 449.8L403.9 447.8L405.0 449.4L406.1 446.4L407.1 447.0L408.2 446.9L409.3 446.9L410.3 448.9L411.4 448.3L412.5 446.5L413.5 448.4L414.6 446.4L415.7 447.0L416.7 448.3L417.8 448.2L418.9 448.2L419.9 449.1L421.0 448.8L422.1 448.5L423.1 448.1L424.2 446.7L425.3 448.3L426.3 448.0L427.4 447.4L428.5 447.0L429.5 446.2L430.6 447.2L431.7 447.8L432.7 447.3L433.8 449.5L434.9 447.2L435.9 449.2L437.0 446.6L438.1 446.6L439.1 447.7L440.2 446.3L441.3 449.6L442.3 449.6L443.4 448.2L444.5 449.3L445.5 449.7L446.6 446.1L447.7 448.5L448.7 446.7L449.8 449.0L450.9 447.6L451.9 449.6L453.0 447.7L454.1 447.3L455.1 447.7L456.2 448.2L457.3 447.1L458.4 449.1L459.4 447.4L460.5 448.9L461.6 449.6L462.6 448.6L463.7 447.0L464.8 449.3L465.8 446.9L466.9 448.7L468.0 448.1L469.0 449.5L470.1 449.3L471.2 447.4L472.2 446.2L473.3 448.9L474.4 447.3L475.4 446.4L476.5 446.5L477.6 446.0L478.6 449.4L479.7 447.3L480.8 448.8L481.8 449.6L482.9 448.0L484.0 445.9L485.0 448.6L486.1 448.9L487.2 445.8L488.2 447.3L489.3 449.2L490.4 449.6L491.4 449.4L492.5 449.4L493.6 446.2L494.6 447.1L495.7 449.2L496.8 448.3L497.8 448.2L498.9 446.3L500.0 445.8L501.0 449.6L502.1 449.5L503.2 447.5L504.2 449.5L505.3 448.3L506.4 447.3L507.4 447.9L508.5 449.1L509.6 448.8L510.6 447.8L511.7 449.2L512.8 445.9L513.8 448.9L514.9 446.3L516.0 449.1L517.0 447.9L518.1 446.4L519.2 447.2L520.2 449.2L521.3 448.8L522.4 448.4L523.4 447.9L524.5 445.7L525.6 448.5L526.6 448.4L527.7 447.7L528.8 448.9L529.8 446.3L530.9 449.5L532.0 446.7L533.0 445.9L534.1 448.5L535.2 446.6L536.2 446.8L537.3 446.5L538.4 447.1L539.4 447.6L540.5 448.7L541.6 448.1L542.6 449.2L543.7 447.2L544.8 447.7L545.8 449.3L546.9 449.2L548.0 448.5L549.0 449.0L550.1 448.9L551.2 446.5L552.2 448.5L553.3 449.3L554.4 445.7L555.4 445.6L556.5 446.2L557.6 448.0L558.6 445.5L559.7 445.8L560.8 447.1L561.8 446.8L562.9 446.7L564.0 447.5L565.0 445.9L566.1 446.0L567.2 446.5L568.2 446.7L569.3 447.9L570.4 448.4L571.4 445.4L572.5 447.3L573.6 445.5L574.7 448.8L575.7 449.0L576.8 446.6L577.9 446.9L578.9 448.0L580.0 447.6L581.1 445.5L582.1 446.8L583.2 447.4L584.3 448.6L585.3 448.9L586.4 448.2L587.5 448.4L588.5 446.7L589.6 445.2L590.7 445.9L591.7 448.5L592.8 448.4L593.9 447.2L594.9 445.9L596.0 448.4L597.1 448.5L598.1 447.7L599.2 446.3L600.3 447.8L601.3 449.3L602.4 446.7L603.5 445.6L604.5 446.7L605.6 449.2L606.7 448.5L607.7 447.4L608.8 447.6L609.9 449.1L610.9 448.4L612.0 448.0L613.1 447.5L614.1 445.1L615.2 446.5L616.3 447.4L617.3 449.3L618.4 449.2L619.5 446.2L620.5 447.2L621.6 446.7L622.7 449.0L623.7 445.1L624.8 447.4L625.9 447.1L626.9 446.6L628.0 446.8L629.1 444.9L630.1 448.5L631.2 448.9L632.3 447.3L633.3 445.1L634.4 445.1L635.5 446.9L636.5 444.6L637.6 444.2L638.7 443.8L639.7 442.3L640.8 445.6L641.9 443.5L642.9 441.8L644.0 446.1L645.1 440.7L646.1 445.5L647.2 442.9L648.3 446.3L649.3 445.9L650.4 446.3L651.5 442.2L652.5 446.3L653.6 443.1L654.7 440.5L655.7 444.4L656.8 444.8L657.9 437.4L658.9 444.5L660.0 440.9L661.1 441.9L662.1 437.0L663.2 439.8L664.3 441.2L665.3 443.1L666.4 436.7L667.5 442.3L668.5 436.5L669.6 437.7L670.7 439.2L671.7 433.3L672.8 437.7L673.9 438.0L674.9 436.4L676.0 442.3L677.1 439.3L678.1 443.2L679.2 442.2L680.3 442.8L681.3 436.9L682.4 439.8L683.5 441.2L684.5 438.5L685.6 430.2L686.7 429.1L687.8 440.7L688.8 428.6L689.9 438.1L691.0 430.0L692.0 438.2L693.1 438.0L694.2 427.6L695.2 423.7L696.3 433.7L697.4 427.8L698.4 413.2L699.5 416.5L700.6 431.9L701.6 421.4L702.7 409.0L703.8 428.2L704.8 413.3L705.9 419.3L707.0 406.3L708.0 404.9L709.1 416.2L710.2 397.4L711.2 405.9L712.3 407.7L713.4 420.1L714.4 398.5L715.5 414.4L716.6 422.0L717.6 417.5L718.7 417.2L719.8 413.8L720.8 418.6L721.9 414.8L723.0 395.1L724.0 394.1L725.1 420.6L726.2 418.9L727.2 416.6L728.3 420.8L729.4 420.9L730.4 412.5L731.5 414.6L732.6 391.5L733.6 410.9L734.7 412.7L735.8 394.1L736.8 398.5L737.9 406.9L739.0 411.4L740.0 423.8L741.1 407.3L742.2 395.9L743.2 394.7L744.3 393.5L744.3 452.8Z" stroke="#bdb76b" fill="#bdb76b"/>
<path d="M169.2 452.8L169.2 444.9L170.3 447.7L171.3 448.2L172.4 448.1L173.5 447.6L174.5 448.3L175.6 447.8L176.7 445.0L177.7 446.2L178.8 446.3L179.9 448.2L180.9 447.2L182.0 447.2L183.1 445.3L184.1 446.5L185.2 447.9L186.3 448.0L187.3 448.3L188.4 447.2L189.5 446.7L190.5 447.6L191.6 445.2L192.7 446.1L193.7 447.0L194.8 447.6L195.9 446.6L196.9 446.4L198.0 446.2L199.1 447.8L200.1 447.5L201.2 448.0L202.3 448.3L203.3 447.8L204.4 448.0L205.5 447.9L206.5 447.3L207.6 447.6L208.7 446.2L209.7 448.0L210.8 446.3L211.9 445.5L212.9 447.2L214.0 445.9L215.1 448.4L216.1 448.0L217.2 448.4L218.3 447.2L219.3 447.6L220.4 447.3L221.5 448.1L222.5 448.4L223.6 446.1L224.7 444.9L225.7 446.5L226.8 441.9L227.9 442.9L229.0 435.0L230.0 438.9L231.1 437.0L232.2 433.8L233.2 433.0L234.3 434.9L235.4 441.5L236.4 436.7L237.5 442.3L238.6 435.0L239.6 442.6L240.7 445.2L241.8 443.3L242.8 444.1L243.9 447.2L245.0 446.3L246.0 445.2L247.1 444.2L248.2 446.5L249.2 447.7L250.3 447.6L251.4 446.1L252.4 447.8L253.5 445.0L254.6 445.0L255.6 445.6L256.7 444.3L257.8 446.8L258.8 444.3L259.9 447.7L261.0 447.5L262.0 446.5L263.1 444.7L264.2 448.0L265.2 444.9L266.3 447.1L267.4 444.9L268.4 444.9L269.5 444.7L270.6 444.1L271.6 447.1L272.7 445.9L273.8 445.0L274.8 442.4L275.9 443.6L277.0 437.0L278.0 442.4L279.1 440.2L280.2 443.2L281.2 441.6L282.3 436.9L283.4 441.9L284.4 435.0L285.5 437.0L286.6 437.4L287.6 439.2L288.7 441.6L289.8 433.9L290.8 432.7L291.9 433.9L293.0 433.8L294.0 431.7L295.1 431.3L296.2 429.1L297.2 433.0L298.3 429.1L299.4 430.6L300.4 427.4L301.5 405.3L302.6 411.2L303.6 410.5L304.7 412.0L305.8 420.0L306.8 414.0L307.9 393.3L309.0 390.9L310.0 411.6L311.1 385.2L312.2 415.0L313.2 412.4L314.3 411.5L315.4 416.9L316.4 400.2L317.5 422.7L318.6 401.4L319.6 425.1L320.7 422.2L321.8 414.4L322.8 428.6L323.9 422.3L325.0 413.2L326.0 419.2L327.1 417.9L328.2 412.0L329.2 418.0L330.3 415.6L331.4 397.3L332.4 412.8L333.5 379.6L334.6 383.5L335.6 396.5L336.7 405.3L337.8 373.7L338.8 393.0L339.9 377.9L341.0 355.9L342.1 378.8L343.1 336.5L344.2 388.7L345.3 365.1L346.3 373.7L347.4 405.3L348.5 410.1L349.5 394.3L350.6 377.7L351.7 388.0L352.7 398.2L353.8 400.3L354.9 401.6L355.9 411.1L357.0 417.1L358.1 423.0L359.1 401.4L360.2 425.2L361.3 423.6L362.3 421.4L363.4 419.1L364.5 407.3L365.5 426.5L366.6 416.8L367.7 427.0L368.7 427.5L369.8 430.3L370.9 432.7L371.9 423.8L373.0 430.3L374.1 430.0L375.1 425.9L376.2 425.1L377.3 431.4L378.3 424.4L379.4 430.6L380.5 423.9L381.5 430.4L382.6 432.5L383.7 419.2L384.7 435.3L385.8 434.5L386.9 437.4L387.9 429.1L389.0 438.4L390.1 434.3L391.1 431.4L392.2 422.6L393.3 420.8L394.3 426.2L395.4 428.5L396.5 415.2L397.5 418.0L398.6 424.4L399.7 433.1L400.7 428.4L401.8 431.3L402.9 425.6L403.9 431.1L405.0 427.1L406.1 438.6L407.1 432.0L408.2 437.6L409.3 435.1L410.3 429.9L411.4 427.4L412.5 437.6L413.5 429.7L414.6 438.3L415.7 437.0L416.7 437.8L417.8 427.9L418.9 438.6L419.9 430.9L421.0 434.7L422.1 432.1L423.1 438.8L424.2 435.5L425.3 434.5L426.3 437.3L427.4 433.3L428.5 438.9L429.5 438.9L430.6 433.3L431.7 437.7L432.7 430.4L433.8 434.6L434.9 430.1L435.9 430.7L437.0 432.8L438.1 428.7L439.1 438.0L440.2 434.8L441.3 438.9L442.3 432.9L443.4 431.4L444.5 430.3L445.5 435.3L446.6 429.9L447.7 437.0L448.7 437.3L449.8 432.8L450.9 430.1L451.9 439.4L453.0 435.8L454.1 436.5L455.1 439.7L456.2 439.3L457.3 429.1L458.4 429.6L459.4 434.8L460.5 438.1L461.6 428.6L462.6 436.1L463.7 438.5L464.8 431.1L465.8 432.2L466.9 432.2L468.0 435.9L469.0 436.8L470.1 437.2L471.2 432.9L472.2 436.2L473.3 430.8L474.4 427.6L475.4 428.6L476.5 437.8L477.6 431.4L478.6 437.5L479.7 425.1L480.8 435.1L481.8 431.4L482.9 436.3L484.0 434.5L485.0 422.9L486.1 435.1L487.2 431.8L488.2 429.2L489.3 433.4L490.4 431.1L491.4 417.2L492.5 429.8L493.6 425.8L494.6 417.1L495.7 431.7L496.8 422.5L497.8 431.6L498.9 427.2L500.0 420.4L501.0 414.2L502.1 425.0L503.2 421.3L504.2 423.8L505.3 429.1L506.4 429.1L507.4 421.5L508.5 413.3L509.6 426.4L510.6 415.9L511.7 418.5L512.8 424.2L513.8 407.3L514.9 427.4L516.0 425.0L517.0 422.7L518.1 416.7L519.2 427.2L520.2 427.0L521.3 408.4L522.4 418.9L523.4 408.9L524.5 405.7L525.6 425.3L526.6 421.6L527.7 405.4L528.8 426.4L529.8 405.2L530.9 404.5L532.0 411.8L533.0 420.7L534.1 413.7L535.2 425.7L536.2 421.1L537.3 425.5L538.4 419.3L539.4 412.7L540.5 425.2L541.6 406.1L542.6 424.5L543.7 422.4L544.8 419.4L545.8 423.9L546.9 409.8L548.0 411.7L549.0 401.4L550.1 417.6L551.2 413.1L552.2 418.3L553.3 410.5L554.4 402.8L555.4 406.5L556.5 417.3L557.6 401.9L558.6 417.9L559.7 408.0L560.8 405.7L561.8 414.8L562.9 400.8L564.0 396.2L565.0 419.8L566.1 420.4L567.2 416.2L568.2 420.0L569.3 393.5L570.4 415.9L571.4 417.7L572.5 391.5L573.6 393.8L574.7 397.8L575.7 398.4L576.8 418.4L577.9 417.6L578.9 420.9L580.0 407.4L581.1 417.2L582.1 409.8L583.2 399.4L584.3 408.2L585.3 422.5L586.4 400.4L587.5 420.5L588.5 415.9L589.6 406.5L590.7 412.4L591.7 423.7L592.8 403.6L593.9 409.8L594.9 409.4L596.0 416.2L597.1 423.2L598.1 412.7L599.2 421.0L600.3 407.8L601.3 420.9L602.4 412.9L603.5 416.4L604.5 424.1L605.6 413.0L606.7 404.4L607.7 425.4L608.8 415.9L609.9 414.5L610.9 409.2L612.0 422.2L613.1 409.8L614.1 412.6L615.2 424.7L616.3 412.7L617.3 405.3L618.4 424.9L619.5 424.7L620.5 423.5L621.6 414.8L622.7 426.9L623.7 418.1L624.8 414.1L625.9 421.7L626.9 412.7L628.0 418.0L629.1 411.3L630.1 412.3L631.2 422.6L632.3 429.2L633.3 428.5L634.4 416.8L635.5 416.1L636.5 426.2L637.6 426.8L638.7 429.2L639.7 417.0L640.8 413.6L641.9 415.0L642.9 426.1L644.0 416.6L645.1 429.9L646.1 431.2L647.2 424.4L648.3 428.3L649.3 426.1L650.4 431.6L651.5 430.8L652.5 415.2L653.6 426.0L654.7 421.9L655.7 421.4L656.8 428.1L657.9 427.0L658.9 429.6L660.0 431.1L661.1 427.8L662.1 424.6L663.2 415.3L664.3 421.4L665.3 419.8L666.4 419.5L667.5 416.9L668.5 417.3L669.6 430.9L670.7 429.1L671.7 429.8L672.8 420.0L673.9 426.4L674.9 416.6L676.0 424.8L677.1 432.1L678.1 430.1L679.2 427.8L680.3 431.3L681.3 425.0L682.4 432.0L683.5 430.1L684.5 432.1L685.6 431.4L686.7 415.2L687.8 426.1L688.8 416.3L689.9 431.4L691.0 430.8L692.0 431.9L693.1 430.7L694.2 429.5L695.2 427.5L696.3 430.2L697.4 431.1L698.4 428.3L699.5 432.1L700.6 419.7L701.6 425.1L702.7 426.2L703.8 427.0L704.8 425.4L705.9 415.8L707.0 428.4L708.0 425.2L709.1 430.8L710.2 428.3L711.2 431.9L712.3 419.0L713.4 423.1L714.4 421.2L715.5 421.4L716.6 431.7L717.6 424.1L718.7 431.6L719.8 424.4L720.8 431.7L721.9 431.5L723.0 431.8L724.0 426.0L725.1 431.9L726.2 428.9L727.2 428.0L728.3 416.4L729.4 421.2L730.4 425.2L731.5 422.3L732.6 432.6L733.6 429.0L734.7 430.1L735.8 423.8L736.8 431.9L737.9 417.6L739.0 429.7L740.0 419.3L741.1 419.9L742.2 427.5L743.2 432.8L744.3 416.4L744.3 452.8Z" stroke="#808080" fill="#808080"/>
</g>
<rect x="169.2" y="57.3" width="575.1" height="395.5" fill="none" stroke="#262626" stroke-width="1.5"/>
<path d="M169.2 452.8v6M284.2 452.8v6M399.2 452.8v6M514.3 452.8v6M629.3 452.8v6M744.3 452.8v6M169.2 452.8h-6M169.2 373.7h-6M169.2 294.6h-6M169.2 215.5h-6M169.2 136.4h-6M169.2 57.3h-6" stroke="#262626" stroke-width="1.5" fill="none"/>
<text x="169.2" y="479.7" font-size="24.3" text-anchor="middle">0.0</text>
<text x="284.2" y="479.7" font-size="24.3" text-anchor="middle">0.1</text>
<text x="399.2" y="479.7" font-size="24.3" text-anchor="middle">0.2</text>
<text x="514.3" y="479.7" font-size="24.3" text-anchor="middle">0.3</text>
<text x="629.3" y="479.7" font-size="24.3" text-anchor="middle">0.4</text>
<text x="744.3" y="479.7" font-size="24.3" text-anchor="middle">0.5</text>
<text x="156.7" y="461.6" font-size="24.3" text-anchor="end">0.0</text>
<text x="156.7" y="382.5" font-size="24.3" text-anchor="end">0.2</text>
<text x="156.7" y="303.4" font-size="24.3" text-anchor="end">0.4</text>
<text x="156.7" y="224.3" font-size="24.3" text-anchor="end">0.6</text>
<text x="156.7" y="145.2" font-size="24.3" text-anchor="end">0.8</text>
<text x="156.7" y="66.1" font-size="24.3" text-anchor="end">1.0</text>
<text x="456.4" y="508.7" font-size="24.6" text-anchor="middle">Normalized Frequency(Hz)</text>
<text transform="translate(113.8 256.0) rotate(-90)" font-size="24.3" text-anchor="middle">Normalized Amplitude</text>
<text x="455.8" y="47.9" font-size="24.75" text-anchor="middle">Frequency spectrum of original signal</text>
<rect x="436.8" y="67.1" width="103.2" height="278" rx="4" fill="#fff" fill-opacity="0.85" stroke="#d0d0d0" stroke-width="1.3"/>
<path d="M443.1 80.5H481.6" stroke="#ff69b4" stroke-width="2"/>
<text x="497.5" y="86.5" font-size="18">N</text>
<path d="M443.1 107.8H481.6" stroke="#d8bfd8" stroke-width="2"/>
<text x="497.5" y="113.8" font-size="18">B1</text>
<path d="M443.1 135.1H481.6" stroke="#4169e1" stroke-width="2"/>
<text x="497.5" y="141.1" font-size="18">B2</text>
<path d="M443.1 162.4H481.6" stroke="#1fe5e5" stroke-width="2"/>
<text x="497.5" y="168.4" font-size="18">B3</text>
<path d="M443.1 189.7H481.6" stroke="#0f7a0f" stroke-width="2"/>
<text x="497.5" y="195.7" font-size="18">IR1</text>
<path d="M443.1 217.0H481.6" stroke="#c4c41a" stroke-width="2"/>
<text x="497.5" y="223.0" font-size="18">IR2</text>
<path d="M443.1 244.4H481.6" stroke="#f5deb3" stroke-width="2"/>
<text x="497.5" y="250.4" font-size="18">IR3</text>
<path d="M443.1 271.7H481.6" stroke="#ff7f50" stroke-width="2"/>
<text x="497.5" y="277.7" font-size="18">OR1</text>
<path d="M443.1 299.0H481.6" stroke="#bdb76b" stroke-width="2"/>
<text x="497.5" y="305.0" font-size="18">OR2</text>
<path d="M443.1 326.3H481.6" stroke="#808080" stroke-width="2"/>
<text x="497.5" y="332.3" font-size="18">OR3</text>
</g>
<g id="pb">
<rect x="974.4" y="70.0" width="46.7" height="376.7" fill="#ffb6c1"/>
<path d="M974.4 70.0V446.7M1021.1 70.0V446.7" stroke="#a04450" stroke-width="1.7" fill="none"/>
<rect x="1099.0" y="70.0" width="58.4" height="376.7" fill="#ffffe0"/>
<path d="M1099.0 70.0V446.7M1157.3 70.0V446.7" stroke="#2e8b8b" stroke-width="1.7" fill="none"/>
<rect x="1176.8" y="70.0" width="45.4" height="376.7" fill="#e0ffff"/>
<path d="M1176.8 70.0V446.7M1222.2 70.0V446.7" stroke="#2e8b8b" stroke-width="1.7" fill="none"/>
<rect x="1358.4" y="70.0" width="58.4" height="376.7" fill="#90ee90"/>
<path d="M1358.4 70.0V446.7M1416.8 70.0V446.7" stroke="#1e6b1e" stroke-width="1.7" fill="none"/>
<rect x="1514.1" y="70.0" width="45.4" height="376.7" fill="#d8bfd8"/>
<path d="M1514.1 70.0V446.7M1559.5 70.0V446.7" stroke="#8a2a9a" stroke-width="1.7" fill="none"/>
<path d="M930.1 378.8L931.1 378.7L932.1 378.6L933.1 378.4L934.1 378.2L935.1 377.9L936.1 377.7L937.1 377.4L938.1 377.1L939.1 376.8L940.1 376.5L941.1 376.1L942.1 375.8L943.1 375.4L944.1 374.9L945.1 374.5L946.1 373.9L947.1 373.4L948.1 372.8L949.1 372.1L950.1 371.5L951.1 370.8L952.1 370.0L953.1 369.3L954.1 368.5L955.1 367.6L956.1 366.7L957.1 365.6L958.1 364.5L959.1 363.3L960.1 362.0L961.1 360.6L962.1 359.1L963.1 357.4L964.1 355.6L965.1 353.3L966.1 350.7L967.1 347.7L968.1 344.3L969.1 340.4L970.1 335.8L971.1 329.9L972.1 322.7L973.1 314.2L974.1 303.8L975.1 290.1L976.1 274.2L977.1 256.6L978.1 235.3L979.1 216.7L980.1 202.6L981.1 194.2L982.1 200.6L983.1 216.2L984.1 231.2L985.1 246.7L986.1 262.0L987.1 274.8L988.1 286.1L989.1 296.5L990.1 305.6L991.1 313.4L992.1 320.5L993.1 327.0L994.1 332.8L995.1 337.8L996.1 341.9L997.1 345.5L998.1 348.9L999.1 352.0L1000.1 354.6L1001.1 356.7L1002.1 358.2L1003.1 359.4L1004.1 360.6L1005.1 361.6L1006.1 362.4L1007.1 362.9L1008.1 363.0L1009.1 362.9L1010.1 362.7L1011.1 362.5L1012.1 362.1L1013.1 361.6L1014.1 361.1L1015.1 360.6L1016.1 359.9L1017.1 359.0L1018.1 357.5L1019.1 355.6L1020.1 353.3L1021.1 350.7L1022.1 347.8L1023.1 344.8L1024.1 340.9L1025.1 335.7L1026.1 329.9L1027.1 323.9L1028.1 318.5L1029.1 313.1L1030.1 307.0L1031.1 301.3L1032.1 296.9L1033.1 295.0L1034.1 295.0L1035.1 295.2L1036.1 295.4L1037.1 295.7L1038.1 296.1L1039.1 296.6L1040.1 297.2L1041.1 298.4L1042.1 302.0L1043.1 307.3L1044.1 313.3L1045.1 319.0L1046.1 324.4L1047.1 330.5L1048.1 336.8L1049.1 342.4L1050.1 346.6L1051.1 349.3L1052.1 351.8L1053.1 354.0L1054.1 356.1L1055.1 357.8L1056.1 359.2L1057.1 360.2L1058.1 360.9L1059.1 361.1L1060.1 361.3L1061.1 361.5L1062.1 361.7L1063.1 361.8L1064.1 361.9L1065.1 362.0L1066.1 362.0L1067.1 362.0L1068.1 361.6L1069.1 361.0L1070.1 360.2L1071.1 359.1L1072.1 358.0L1073.1 356.7L1074.1 355.5L1075.1 354.2L1076.1 352.7L1077.1 351.0L1078.1 349.1L1079.1 347.0L1080.1 344.8L1081.1 342.6L1082.1 340.3L1083.1 338.0L1084.1 335.4L1085.1 332.6L1086.1 329.6L1087.1 326.8L1088.1 324.2L1089.1 322.1L1090.1 320.0L1091.1 317.9L1092.1 316.3L1093.1 315.5L1094.1 316.4L1095.1 319.3L1096.1 323.2L1097.1 326.9L1098.1 330.9L1099.1 335.4L1100.1 339.6L1101.1 343.1L1102.1 346.1L1103.1 348.8L1104.1 351.4L1105.1 353.6L1106.1 355.5L1107.1 357.0L1108.1 358.3L1109.1 359.5L1110.1 360.5L1111.1 361.5L1112.1 362.3L1113.1 363.1L1114.1 363.6L1115.1 364.0L1116.1 364.3L1117.1 364.6L1118.1 364.8L1119.1 364.9L1120.1 365.0L1121.1 364.9L1122.1 364.6L1123.1 364.1L1124.1 363.5L1125.1 362.8L1126.1 362.0L1127.1 361.2L1128.1 360.3L1129.1 359.1L1130.1 357.7L1131.1 356.1L1132.1 354.4L1133.1 352.7L1134.1 351.0L1135.1 349.3L1136.1 347.6L1137.1 345.8L1138.1 344.0L1139.1 342.1L1140.1 340.5L1141.1 339.1L1142.1 337.9L1143.1 336.7L1144.1 335.7L1145.1 335.2L1146.1 335.3L1147.1 336.4L1148.1 338.2L1149.1 340.0L1150.1 341.7L1151.1 343.7L1152.1 345.9L1153.1 348.1L1154.1 350.2L1155.1 352.1L1156.1 353.7L1157.1 355.2L1158.1 356.8L1159.1 358.3L1160.1 359.6L1161.1 360.8L1162.1 361.9L1163.1 362.7L1164.1 363.2L1165.1 363.7L1166.1 364.1L1167.1 364.5L1168.1 364.9L1169.1 365.2L1170.1 365.5L1171.1 365.7L1172.1 365.9L1173.1 366.0L1174.1 366.0L1175.1 365.9L1176.1 365.7L1177.1 365.3L1178.1 364.9L1179.1 364.5L1180.1 364.0L1181.1 363.4L1182.1 362.9L1183.1 362.2L1184.1 361.3L1185.1 360.3L1186.1 359.2L1187.1 358.0L1188.1 356.9L1189.1 355.8L1190.1 354.8L1191.1 353.8L1192.1 352.6L1193.1 351.5L1194.1 350.4L1195.1 349.3L1196.1 348.5L1197.1 348.0L1198.1 347.8L1199.1 347.9L1200.1 348.1L1201.1 348.4L1202.1 348.7L1203.1 349.2L1204.1 349.7L1205.1 350.3L1206.1 350.8L1207.1 351.5L1208.1 352.5L1209.1 353.6L1210.1 354.9L1211.1 356.2L1212.1 357.6L1213.1 358.8L1214.1 359.9L1215.1 360.9L1216.1 362.0L1217.1 363.0L1218.1 364.1L1219.1 365.0L1220.1 365.8L1221.1 366.5L1222.1 366.9L1223.1 367.2L1224.1 367.4L1225.1 367.7L1226.1 367.8L1227.1 367.9L1228.1 368.0L1229.1 368.0L1230.1 367.9L1231.1 367.7L1232.1 367.5L1233.1 367.2L1234.1 366.9L1235.1 366.6L1236.1 366.1L1237.1 365.5L1238.1 364.7L1239.1 363.8L1240.1 362.9L1241.1 362.0L1242.1 361.1L1243.1 360.4L1244.1 359.8L1245.1 359.3L1246.1 358.8L1247.1 358.3L1248.1 357.8L1249.1 357.4L1250.1 357.1L1251.1 356.8L1252.1 356.7L1253.1 356.7L1254.1 356.9L1255.1 357.1L1256.1 357.5L1257.1 357.9L1258.1 358.4L1259.1 358.9L1260.1 359.4L1261.1 359.9L1262.1 360.5L1263.1 361.2L1264.1 362.0L1265.1 362.8L1266.1 363.7L1267.1 364.6L1268.1 365.4L1269.1 366.1L1270.1 366.6L1271.1 367.1L1272.1 367.6L1273.1 368.1L1274.1 368.6L1275.1 369.1L1276.1 369.5L1277.1 369.8L1278.1 370.1L1279.1 370.3L1280.1 370.5L1281.1 370.5L1282.1 370.4L1283.1 370.3L1284.1 370.1L1285.1 369.9L1286.1 369.6L1287.1 369.3L1288.1 369.0L1289.1 368.6L1290.1 368.3L1291.1 367.9L1292.1 367.6L1293.1 367.3L1294.1 366.9L1295.1 366.5L1296.1 366.1L1297.1 365.7L1298.1 365.3L1299.1 364.9L1300.1 364.5L1301.1 364.2L1302.1 364.0L1303.1 363.9L1304.1 363.7L1305.1 363.6L1306.1 363.5L1307.1 363.4L1308.1 363.4L1309.1 363.3L1310.1 363.3L1311.1 363.3L1312.1 363.5L1313.1 363.9L1314.1 364.3L1315.1 364.8L1316.1 365.4L1317.1 366.0L1318.1 366.6L1319.1 367.1L1320.1 367.6L1321.1 368.0L1322.1 368.5L1323.1 369.0L1324.1 369.5L1325.1 369.9L1326.1 370.4L1327.1 370.8L1328.1 371.2L1329.1 371.5L1330.1 371.8L1331.1 372.0L1332.1 372.1L1333.1 372.2L1334.1 372.3L1335.1 372.4L1336.1 372.5L1337.1 372.5L1338.1 372.6L1339.1 372.6L1340.1 372.7L1341.1 372.7L1342.1 372.7L1343.1 372.7L1344.1 372.5L1345.1 372.4L1346.1 372.1L1347.1 371.8L1348.1 371.5L1349.1 371.2L1350.1 370.8L1351.1 370.5L1352.1 370.2L1353.1 369.9L1354.1 369.6L1355.1 369.3L1356.1 369.0L1357.1 368.6L1358.1 368.3L1359.1 368.1L1360.1 367.9L1361.1 367.7L1362.1 367.7L1363.1 367.8L1364.1 368.0L1365.1 368.3L1366.1 368.7L1367.1 369.1L1368.1 369.5L1369.1 370.0L1370.1 370.3L1371.1 370.7L1372.1 371.0L1373.1 371.3L1374.1 371.7L1375.1 372.0L1376.1 372.4L1377.1 372.7L1378.1 373.0L1379.1 373.3L1380.1 373.5L1381.1 373.7L1382.1 373.9L1383.1 374.0L1384.1 374.2L1385.1 374.3L1386.1 374.4L1387.1 374.6L1388.1 374.7L1389.1 374.8L1390.1 374.8L1391.1 374.9L1392.1 374.9L1393.1 374.9L1394.1 374.9L1395.1 374.8L1396.1 374.7L1397.1 374.6L1398.1 374.4L1399.1 374.3L1400.1 374.1L1401.1 374.0L1402.1 373.8L1403.1 373.7L1404.1 373.5L1405.1 373.4L1406.1 373.2L1407.1 373.0L1408.1 372.8L1409.1 372.6L1410.1 372.4L1411.1 372.3L1412.1 372.1L1413.1 372.0L1414.1 372.0L1415.1 372.0L1416.1 372.0L1417.1 372.1L1418.1 372.1L1419.1 372.2L1420.1 372.3L1421.1 372.4L1422.1 372.5L1423.1 372.6L1424.1 372.7L1425.1 372.8L1426.1 372.9L1427.1 373.0L1428.1 373.2L1429.1 373.4L1430.1 373.6L1431.1 373.9L1432.1 374.3L1433.1 374.6L1434.1 375.0L1435.1 375.3L1436.1 375.6L1437.1 375.9L1438.1 376.1L1439.1 376.3L1440.1 376.4L1441.1 376.4L1442.1 376.4L1443.1 376.4L1444.1 376.4L1445.1 376.4L1446.1 376.4L1447.1 376.4L1448.1 376.4L1449.1 376.4L1450.1 376.4L1451.1 376.4L1452.1 376.4L1453.1 376.4L1454.1 376.4L1455.1 376.4L1456.1 376.3L1457.1 376.2L1458.1 376.1L1459.1 376.0L1460.1 375.9L1461.1 375.8L1462.1 375.6L1463.1 375.5L1464.1 375.4L1465.1 375.4L1466.1 375.3L1467.1 375.3L1468.1 375.3L1469.1 375.3L1470.1 375.4L1471.1 375.5L1472.1 375.5L1473.1 375.6L1474.1 375.7L1475.1 375.8L1476.1 376.0L1477.1 376.1L1478.1 376.2L1479.1 376.3L1480.1 376.4L1481.1 376.5L1482.1 376.7L1483.1 376.9L1484.1 377.0L1485.1 377.2L1486.1 377.4L1487.1 377.6L1488.1 377.8L1489.1 378.0L1490.1 378.2L1491.1 378.3L1492.1 378.5L1493.1 378.6L1494.1 378.7L1495.1 378.8L1496.1 378.9L1497.1 379.1L1498.1 379.2L1499.1 379.3L1500.1 379.4L1501.1 379.5L1502.1 379.5L1503.1 379.6L1504.1 379.7L1505.1 379.7L1506.1 379.7L1507.1 379.7L1508.1 379.7L1509.1 379.6L1510.1 379.6L1511.1 379.5L1512.1 379.4L1513.1 379.3L1514.1 379.3L1515.1 379.2L1516.1 379.1L1517.1 379.1L1518.1 379.0L1519.1 379.0L1520.1 379.0L1521.1 379.0L1522.1 379.0L1523.1 379.0L1524.1 379.1L1525.1 379.1L1526.1 379.1L1527.1 379.2L1528.1 379.2L1529.1 379.2L1530.1 379.3L1531.1 379.3L1532.1 379.4L1533.1 379.5L1534.1 379.7L1535.1 379.8L1536.1 380.0L1537.1 380.2L1538.1 380.4L1539.1 380.5L1540.1 380.7L1541.1 380.9L1542.1 381.1L1543.1 381.3L1544.1 381.5L1545.1 381.7L1546.1 381.9L1547.1 382.1L1548.1 382.3L1549.1 382.5L1550.1 382.7L1551.1 383.0L1552.1 383.2L1553.1 383.4L1554.1 383.6L1555.1 383.8L1556.1 384.0L1557.1 384.2L1558.1 384.4L1559.1 384.6L1560.1 384.7L1561.1 384.9L1562.1 385.1L1563.1 385.3L1564.1 385.4L1565.1 385.6L1566.1 385.8L1566.4 385.8" fill="none" stroke="#1a7a1a" stroke-width="2.3" stroke-linejoin="round" stroke-dasharray="8.3 3.6"/>
<path d="M930.1 382.2L931.1 382.2L932.1 382.1L933.1 382.0L934.1 381.8L935.1 381.6L936.1 381.4L937.1 381.2L938.1 381.0L939.1 380.7L940.1 380.5L941.1 380.2L942.1 379.9L943.1 379.6L944.1 379.2L945.1 378.8L946.1 378.3L947.1 377.8L948.1 377.3L949.1 376.7L950.1 376.1L951.1 375.5L952.1 374.9L953.1 374.2L954.1 373.6L955.1 372.8L956.1 372.1L957.1 371.3L958.1 370.4L959.1 369.5L960.1 368.5L961.1 367.5L962.1 366.4L963.1 365.3L964.1 364.2L965.1 363.0L966.1 361.8L967.1 360.5L968.1 359.1L969.1 357.5L970.1 355.7L971.1 353.7L972.1 351.4L973.1 348.4L974.1 344.8L975.1 340.9L976.1 336.8L977.1 332.7L978.1 328.6L979.1 324.3L980.1 319.5L981.1 313.7L982.1 306.5L983.1 296.5L984.1 284.3L985.1 270.6L986.1 255.0L987.1 231.5L988.1 207.8L989.1 194.6L990.1 198.7L991.1 213.9L992.1 233.2L993.1 250.7L994.1 270.3L995.1 291.8L996.1 311.7L997.1 326.8L998.1 334.2L999.1 338.8L1000.1 342.8L1001.1 346.3L1002.1 349.2L1003.1 351.6L1004.1 353.3L1005.1 354.4L1006.1 355.0L1007.1 355.3L1008.1 355.6L1009.1 355.8L1010.1 356.0L1011.1 356.2L1012.1 356.3L1013.1 356.4L1014.1 356.5L1015.1 356.5L1016.1 356.2L1017.1 355.3L1018.1 354.0L1019.1 352.2L1020.1 350.2L1021.1 347.9L1022.1 345.4L1023.1 342.8L1024.1 339.2L1025.1 334.2L1026.1 328.4L1027.1 322.5L1028.1 317.0L1029.1 311.5L1030.1 305.4L1031.1 299.6L1032.1 295.2L1033.1 293.2L1034.1 293.2L1035.1 293.4L1036.1 293.6L1037.1 293.9L1038.1 294.3L1039.1 294.8L1040.1 295.4L1041.1 296.0L1042.1 298.2L1043.1 303.6L1044.1 310.6L1045.1 317.3L1046.1 323.2L1047.1 329.5L1048.1 335.8L1049.1 341.4L1050.1 345.8L1051.1 348.9L1052.1 351.6L1053.1 354.1L1054.1 356.3L1055.1 358.3L1056.1 360.0L1057.1 361.4L1058.1 362.6L1059.1 363.6L1060.1 364.4L1061.1 365.3L1062.1 366.0L1063.1 366.6L1064.1 367.2L1065.1 367.6L1066.1 367.9L1067.1 368.1L1068.1 368.2L1069.1 368.3L1070.1 368.5L1071.1 368.5L1072.1 368.6L1073.1 368.7L1074.1 368.7L1075.1 368.7L1076.1 368.5L1077.1 368.2L1078.1 367.8L1079.1 367.3L1080.1 366.7L1081.1 366.1L1082.1 365.4L1083.1 364.8L1084.1 364.1L1085.1 363.3L1086.1 362.4L1087.1 361.4L1088.1 360.4L1089.1 359.2L1090.1 358.0L1091.1 356.6L1092.1 355.1L1093.1 353.3L1094.1 351.4L1095.1 349.2L1096.1 346.8L1097.1 344.3L1098.1 341.3L1099.1 337.8L1100.1 333.9L1101.1 330.0L1102.1 326.0L1103.1 322.1L1104.1 318.0L1105.1 313.6L1106.1 309.0L1107.1 304.4L1108.1 300.2L1109.1 296.4L1110.1 293.3L1111.1 291.2L1112.1 289.6L1113.1 288.2L1114.1 286.8L1115.1 285.6L1116.1 284.6L1117.1 283.8L1118.1 283.3L1119.1 283.1L1120.1 283.5L1121.1 284.8L1122.1 286.8L1123.1 289.3L1124.1 292.3L1125.1 295.4L1126.1 298.6L1127.1 301.7L1128.1 304.8L1129.1 308.4L1130.1 312.4L1131.1 316.6L1132.1 320.9L1133.1 325.3L1134.1 329.5L1135.1 333.4L1136.1 336.9L1137.1 339.9L1138.1 342.4L1139.1 344.7L1140.1 346.9L1141.1 348.9L1142.1 350.8L1143.1 352.5L1144.1 354.0L1145.1 355.4L1146.1 356.6L1147.1 357.7L1148.1 358.8L1149.1 359.8L1150.1 360.6L1151.1 361.4L1152.1 362.1L1153.1 362.7L1154.1 363.2L1155.1 363.7L1156.1 364.2L1157.1 364.6L1158.1 365.0L1159.1 365.4L1160.1 365.7L1161.1 365.9L1162.1 366.0L1163.1 366.0L1164.1 365.9L1165.1 365.8L1166.1 365.6L1167.1 365.3L1168.1 365.0L1169.1 364.6L1170.1 364.3L1171.1 363.9L1172.1 363.4L1173.1 362.7L1174.1 362.0L1175.1 361.1L1176.1 360.2L1177.1 359.1L1178.1 358.0L1179.1 356.9L1180.1 355.6L1181.1 354.2L1182.1 352.5L1183.1 350.6L1184.1 348.6L1185.1 346.4L1186.1 344.3L1187.1 342.3L1188.1 340.3L1189.1 338.3L1190.1 336.2L1191.1 334.0L1192.1 331.8L1193.1 329.7L1194.1 327.7L1195.1 326.0L1196.1 324.6L1197.1 323.5L1198.1 322.6L1199.1 321.8L1200.1 321.0L1201.1 320.2L1202.1 319.6L1203.1 319.1L1204.1 318.7L1205.1 318.5L1206.1 318.5L1207.1 319.0L1208.1 320.0L1209.1 321.3L1210.1 323.0L1211.1 324.8L1212.1 326.7L1213.1 328.6L1214.1 330.4L1215.1 332.3L1216.1 334.4L1217.1 336.6L1218.1 339.0L1219.1 341.4L1220.1 343.8L1221.1 346.2L1222.1 348.5L1223.1 350.5L1224.1 352.4L1225.1 354.3L1226.1 356.1L1227.1 357.8L1228.1 359.5L1229.1 361.1L1230.1 362.7L1231.1 364.2L1232.1 365.6L1233.1 366.9L1234.1 368.3L1235.1 369.6L1236.1 370.9L1237.1 372.1L1238.1 373.3L1239.1 374.4L1240.1 375.5L1241.1 376.5L1242.1 377.3L1243.1 378.1L1244.1 378.8L1245.1 379.4L1246.1 380.0L1247.1 380.6L1248.1 381.2L1249.1 381.7L1250.1 382.2L1251.1 382.6L1252.1 383.0L1253.1 383.3L1254.1 383.5L1255.1 383.7L1256.1 383.8L1257.1 383.9L1258.1 384.0L1259.1 384.1L1260.1 384.2L1261.1 384.3L1262.1 384.4L1263.1 384.4L1264.1 384.5L1265.1 384.5L1266.1 384.5L1267.1 384.4L1268.1 384.3L1269.1 384.1L1270.1 383.9L1271.1 383.6L1272.1 383.3L1273.1 383.0L1274.1 382.6L1275.1 382.2L1276.1 381.8L1277.1 381.5L1278.1 381.1L1279.1 380.7L1280.1 380.2L1281.1 379.7L1282.1 379.2L1283.1 378.6L1284.1 378.0L1285.1 377.3L1286.1 376.7L1287.1 376.0L1288.1 375.3L1289.1 374.7L1290.1 374.1L1291.1 373.5L1292.1 373.0L1293.1 372.5L1294.1 371.9L1295.1 371.4L1296.1 370.8L1297.1 370.3L1298.1 369.8L1299.1 369.4L1300.1 369.0L1301.1 368.7L1302.1 368.4L1303.1 368.3L1304.1 368.1L1305.1 368.0L1306.1 367.9L1307.1 367.8L1308.1 367.8L1309.1 367.7L1310.1 367.7L1311.1 367.7L1312.1 367.9L1313.1 368.2L1314.1 368.7L1315.1 369.2L1316.1 369.8L1317.1 370.3L1318.1 370.9L1319.1 371.5L1320.1 371.9L1321.1 372.3L1322.1 372.8L1323.1 373.3L1324.1 373.8L1325.1 374.2L1326.1 374.7L1327.1 375.1L1328.1 375.4L1329.1 375.7L1330.1 375.9L1331.1 376.0L1332.1 376.0L1333.1 376.0L1334.1 376.0L1335.1 376.0L1336.1 376.0L1337.1 376.0L1338.1 376.0L1339.1 376.0L1340.1 376.0L1341.1 376.0L1342.1 376.0L1343.1 376.0L1344.1 375.8L1345.1 375.6L1346.1 375.3L1347.1 374.9L1348.1 374.5L1349.1 374.0L1350.1 373.5L1351.1 373.0L1352.1 372.5L1353.1 372.0L1354.1 371.4L1355.1 370.8L1356.1 370.1L1357.1 369.3L1358.1 368.5L1359.1 367.6L1360.1 366.7L1361.1 365.9L1362.1 365.0L1363.1 364.1L1364.1 363.3L1365.1 362.5L1366.1 361.6L1367.1 360.7L1368.1 359.7L1369.1 358.8L1370.1 357.9L1371.1 357.0L1372.1 356.2L1373.1 355.5L1374.1 354.9L1375.1 354.5L1376.1 354.0L1377.1 353.6L1378.1 353.2L1379.1 352.8L1380.1 352.5L1381.1 352.2L1382.1 352.0L1383.1 351.9L1384.1 351.9L1385.1 352.0L1386.1 352.3L1387.1 352.7L1388.1 353.1L1389.1 353.6L1390.1 354.2L1391.1 354.8L1392.1 355.4L1393.1 356.0L1394.1 356.7L1395.1 357.5L1396.1 358.4L1397.1 359.4L1398.1 360.4L1399.1 361.4L1400.1 362.4L1401.1 363.4L1402.1 364.3L1403.1 365.2L1404.1 366.0L1405.1 366.8L1406.1 367.6L1407.1 368.3L1408.1 369.1L1409.1 369.9L1410.1 370.6L1411.1 371.2L1412.1 371.9L1413.1 372.4L1414.1 373.0L1415.1 373.4L1416.1 373.9L1417.1 374.3L1418.1 374.7L1419.1 375.1L1420.1 375.5L1421.1 375.9L1422.1 376.2L1423.1 376.5L1424.1 376.8L1425.1 377.0L1426.1 377.3L1427.1 377.4L1428.1 377.6L1429.1 377.7L1430.1 377.9L1431.1 378.0L1432.1 378.2L1433.1 378.3L1434.1 378.4L1435.1 378.5L1436.1 378.5L1437.1 378.6L1438.1 378.6L1439.1 378.6L1440.1 378.5L1441.1 378.4L1442.1 378.2L1443.1 378.0L1444.1 377.8L1445.1 377.6L1446.1 377.3L1447.1 377.0L1448.1 376.7L1449.1 376.5L1450.1 376.2L1451.1 375.9L1452.1 375.6L1453.1 375.3L1454.1 374.9L1455.1 374.5L1456.1 374.2L1457.1 373.8L1458.1 373.4L1459.1 373.1L1460.1 372.7L1461.1 372.4L1462.1 372.1L1463.1 371.8L1464.1 371.6L1465.1 371.3L1466.1 371.1L1467.1 370.8L1468.1 370.6L1469.1 370.4L1470.1 370.1L1471.1 369.9L1472.1 369.7L1473.1 369.6L1474.1 369.4L1475.1 369.3L1476.1 369.1L1477.1 369.0L1478.1 368.9L1479.1 368.9L1480.1 368.8L1481.1 368.7L1482.1 368.7L1483.1 368.6L1484.1 368.5L1485.1 368.4L1486.1 368.4L1487.1 368.3L1488.1 368.2L1489.1 368.1L1490.1 367.9L1491.1 367.8L1492.1 367.6L1493.1 367.5L1494.1 367.3L1495.1 367.1L1496.1 366.9L1497.1 366.7L1498.1 366.5L1499.1 366.2L1500.1 366.0L1501.1 365.7L1502.1 365.4L1503.1 365.1L1504.1 364.7L1505.1 364.3L1506.1 363.8L1507.1 363.3L1508.1 362.8L1509.1 362.2L1510.1 361.7L1511.1 361.2L1512.1 360.7L1513.1 360.3L1514.1 359.9L1515.1 359.6L1516.1 359.3L1517.1 359.0L1518.1 358.7L1519.1 358.4L1520.1 358.1L1521.1 357.8L1522.1 357.5L1523.1 357.3L1524.1 357.1L1525.1 356.9L1526.1 356.8L1527.1 356.7L1528.1 356.7L1529.1 356.7L1530.1 356.8L1531.1 356.9L1532.1 357.0L1533.1 357.1L1534.1 357.3L1535.1 357.5L1536.1 357.7L1537.1 357.9L1538.1 358.2L1539.1 358.4L1540.1 358.6L1541.1 358.9L1542.1 359.1L1543.1 359.4L1544.1 359.7L1545.1 360.1L1546.1 360.4L1547.1 360.8L1548.1 361.2L1549.1 361.7L1550.1 362.1L1551.1 362.5L1552.1 362.9L1553.1 363.3L1554.1 363.6L1555.1 364.0L1556.1 364.3L1557.1 364.5L1558.1 364.8L1559.1 365.0L1560.1 365.2L1561.1 365.5L1562.1 365.7L1563.1 365.9L1564.1 366.1L1565.1 366.3L1566.1 366.5L1567.1 366.6L1568.1 366.8L1569.1 366.9L1569.7 367.0" fill="none" stroke="#e8101c" stroke-width="2.3" stroke-linejoin="round"/>
<rect x="930.3" y="70.0" width="648.7" height="376.7" fill="none" stroke="#262626" stroke-width="1.5"/>
<path d="M930.3 446.7v6M1060.0 446.7v6M1189.8 446.7v6M1319.5 446.7v6M1449.3 446.7v6M1579.0 446.7v6" stroke="#262626" stroke-width="1.5" fill="none"/>
<text x="930.3" y="474.9" font-size="25.2" text-anchor="middle">0.0</text>
<text x="1060.0" y="474.9" font-size="25.2" text-anchor="middle">0.1</text>
<text x="1189.8" y="474.9" font-size="25.2" text-anchor="middle">0.2</text>
<text x="1319.5" y="474.9" font-size="25.2" text-anchor="middle">0.3</text>
<text x="1449.3" y="474.9" font-size="25.2" text-anchor="middle">0.4</text>
<text x="1579.0" y="474.9" font-size="25.2" text-anchor="middle">0.5</text>
<text x="1254.7" y="504.7" font-size="25.9" text-anchor="middle">Normalized Frequency(Hz)</text>
<text transform="translate(914.6 255.9) rotate(-90)" font-size="25.599999999999998" text-anchor="middle">Normalized Amplitude</text>
</g>
<g id="pc">
<rect x="171.6" y="524.3" width="45.7" height="433.7" fill="#ffb6c1"/>
<path d="M171.6 524.3V958.0M217.2 524.3V958.0" stroke="#a04450" stroke-width="1.7" fill="none"/>
<rect x="293.4" y="524.3" width="57.1" height="433.7" fill="#ffffe0"/>
<path d="M293.4 524.3V958.0M350.5 524.3V958.0" stroke="#2e8b8b" stroke-width="1.7" fill="none"/>
<rect x="547.2" y="524.3" width="57.1" height="433.7" fill="#90ee90"/>
<path d="M547.2 524.3V958.0M604.4 524.3V958.0" stroke="#1e6b1e" stroke-width="1.7" fill="none"/>
<path d="M196.4 870.0L197.4 884.9L198.4 891.4L199.4 894.4L200.4 896.7L201.4 899.2L202.4 900.4L203.4 898.8L204.4 895.6L205.4 890.6L206.4 885.1L207.4 879.8L208.4 874.2L209.4 868.3L210.4 861.8L211.4 854.6L212.4 846.8L213.4 838.0L214.4 827.8L215.4 818.2L216.4 809.6L217.4 802.2L218.4 795.8L219.4 789.7L220.4 782.8L221.4 775.5L222.4 768.0L223.4 761.1L224.4 755.1L225.4 749.7L226.4 744.7L227.4 740.1L228.4 736.2L229.4 732.7L230.4 729.4L231.4 726.6L232.4 724.7L233.4 723.6L234.4 722.8L235.4 722.4L236.4 722.9L237.4 724.2L238.4 725.9L239.4 727.8L240.4 730.3L241.4 733.1L242.4 736.2L243.4 739.4L244.4 743.1L245.4 747.2L246.4 751.4L247.4 755.8L248.4 760.2L249.4 765.0L250.4 769.9L251.4 774.6L252.4 779.0L253.4 783.0L254.4 786.9L255.4 790.6L256.4 793.9L257.4 796.8L258.4 799.2L259.4 801.3L260.4 803.3L261.4 804.8L262.4 805.7L263.4 806.2L264.4 806.6L265.4 806.9L266.4 807.0L267.4 806.6L268.4 805.8L269.4 804.6L270.4 803.3L271.4 802.0L272.4 800.2L273.4 798.1L274.4 795.9L275.4 793.6L276.4 791.5L277.4 789.6L278.4 787.6L279.4 785.7L280.4 783.8L281.4 782.0L282.4 780.2L283.4 778.6L284.4 777.1L285.4 775.6L286.4 774.1L287.4 772.7L288.4 771.5L289.4 770.4L290.4 769.6L291.4 769.0L292.4 768.4L293.4 767.8L294.4 767.4L295.4 767.1L296.4 767.0L297.4 767.1L298.4 767.3L299.4 767.6L300.4 768.0L301.4 768.5L302.4 769.0L303.4 769.5L304.4 770.0L305.4 770.7L306.4 771.5L307.4 772.4L308.4 773.3L309.4 774.2L310.4 775.2L311.4 776.0L312.4 776.8L313.4 777.5L314.4 778.2L315.4 778.9L316.4 779.6L317.4 780.2L318.4 780.8L319.4 781.4L320.4 781.9L321.4 782.3L322.4 782.7L323.4 783.0L324.4 783.4L325.4 783.7L326.4 784.0L327.4 784.2L328.4 784.3L329.4 784.4L330.4 784.4L331.4 784.3L332.4 784.2L333.4 784.1L334.4 783.9L335.4 783.8L336.4 783.6L337.4 783.4L338.4 783.2L339.4 783.0L340.4 782.8L341.4 782.5L342.4 782.2L343.4 781.9L344.4 781.5L345.4 781.2L346.4 780.9L347.4 780.6L348.4 780.3L349.4 780.1L350.4 779.8L351.4 779.6L352.4 779.3L353.4 779.0L354.4 778.8L355.4 778.6L356.4 778.4L357.4 778.2L358.4 778.1L359.4 778.0L360.4 778.0L361.4 778.0L362.4 778.0L363.4 778.1L364.4 778.1L365.4 778.2L366.4 778.3L367.4 778.3L368.4 778.4L369.4 778.5L370.4 778.6L371.4 778.7L372.4 778.7L373.4 778.8L374.4 778.9L375.4 779.0L376.4 779.0L377.4 779.1L378.4 779.1L379.4 779.2L380.4 779.2L381.4 779.3L382.4 779.3L383.4 779.4L384.4 779.5L385.4 779.5L386.4 779.6L387.4 779.6L388.4 779.7L389.4 779.7L390.4 779.8L391.4 779.8L392.4 779.9L393.4 779.9L394.4 779.9L395.4 780.0L396.4 780.0L397.4 780.0L398.4 780.1L399.4 780.1L400.4 780.1L401.4 780.1L402.4 780.1L403.4 780.1L404.4 780.1L405.4 780.1L406.4 780.1L407.4 780.1L408.4 780.1L409.4 780.0L410.4 780.0L411.4 780.0L412.4 780.0L413.4 780.0L414.4 779.9L415.4 779.9L416.4 779.9L417.4 779.9L418.4 779.8L419.4 779.8L420.4 779.8L421.4 779.7L422.4 779.7L423.4 779.7L424.4 779.7L425.4 779.7L426.4 779.6L427.4 779.6L428.4 779.6L429.4 779.6L430.4 779.6L431.4 779.6L432.4 779.5L433.4 779.5L434.4 779.5L435.4 779.5L436.4 779.5L437.4 779.5L438.4 779.5L439.4 779.4L440.4 779.4L441.4 779.4L442.4 779.4L443.4 779.4L444.4 779.4L445.4 779.4L446.4 779.3L447.4 779.3L448.4 779.3L449.4 779.3L450.4 779.3L451.4 779.3L452.4 779.3L453.4 779.3L454.4 779.3L455.4 779.3L456.4 779.3L457.4 779.3L458.4 779.3L459.4 779.3L460.4 779.3L461.4 779.3L462.4 779.4L463.4 779.4L464.4 779.4L465.4 779.4L466.4 779.4L467.4 779.4L468.4 779.5L469.4 779.5L470.4 779.5L471.4 779.5L472.4 779.6L473.4 779.6L474.4 779.6L475.4 779.6L476.4 779.7L477.4 779.7L478.4 779.7L479.4 779.8L480.4 779.8L481.4 779.8L482.4 779.8L483.4 779.9L484.4 779.9L485.4 779.9L486.4 780.0L487.4 780.0L488.4 780.0L489.4 780.1L490.4 780.1L491.4 780.2L492.4 780.2L493.4 780.2L494.4 780.3L495.4 780.3L496.4 780.4L497.4 780.4L498.4 780.5L499.4 780.5L500.4 780.6L501.4 780.6L502.4 780.7L503.4 780.7L504.4 780.8L505.4 780.8L506.4 780.8L507.4 780.9L508.4 780.9L509.4 781.0L510.4 781.0L511.4 781.1L512.4 781.1L513.4 781.2L514.4 781.2L515.4 781.3L516.4 781.3L517.4 781.3L518.4 781.4L519.4 781.4L520.4 781.5L521.4 781.5L522.4 781.6L523.4 781.6L524.4 781.7L525.4 781.7L526.4 781.8L527.4 781.8L528.4 781.9L529.4 781.9L530.4 782.0L531.4 782.1L532.4 782.1L533.4 782.2L534.4 782.2L535.4 782.3L536.4 782.4L537.4 782.4L538.4 782.5L539.4 782.6L540.4 782.6L541.4 782.7L542.4 782.8L543.4 782.9L544.4 783.0L545.4 783.0L546.4 783.1L547.4 783.2L548.4 783.3L549.4 783.4L550.4 783.4L551.4 783.5L552.4 783.6L553.4 783.7L554.4 783.8L555.4 783.9L556.4 784.0L557.4 784.1L558.4 784.2L559.4 784.2L560.4 784.3L561.4 784.4L562.4 784.5L563.4 784.6L564.4 784.7L565.4 784.8L566.4 784.9L567.4 785.0L568.4 785.1L569.4 785.2L570.4 785.3L571.4 785.4L572.4 785.5L573.4 785.7L574.4 785.8L575.4 785.9L576.4 786.0L577.4 786.1L578.4 786.2L579.4 786.3L580.4 786.5L581.4 786.6L582.4 786.7L583.4 786.8L584.4 787.0L585.4 787.1L586.4 787.2L587.4 787.4L588.4 787.5L589.4 787.6L590.4 787.8L591.4 787.9L592.4 788.1L593.4 788.2L594.4 788.3L595.4 788.5L596.4 788.6L597.4 788.8L598.4 789.0L599.4 789.1L600.4 789.3L601.4 789.4L602.4 789.6L603.4 789.8L604.4 789.9L605.4 790.1L606.4 790.3L607.4 790.5L608.4 790.6L609.4 790.8L610.4 791.0L611.4 791.2L612.4 791.4L613.4 791.6L614.4 791.8L615.4 792.0L616.4 792.2L617.4 792.4L618.4 792.6L619.4 792.8L620.4 793.0L621.4 793.2L622.4 793.4L623.4 793.6L624.4 793.8L625.4 794.1L626.4 794.3L627.4 794.5L628.4 794.8L629.4 795.0L630.4 795.2L631.4 795.5L632.4 795.7L633.4 796.0L634.4 796.2L635.4 796.5L636.4 796.8L637.4 797.0L638.4 797.3L639.4 797.6L640.4 797.9L641.4 798.2L642.4 798.5L643.4 798.8L644.4 799.1L645.4 799.4L646.4 799.7L647.4 800.0L648.4 800.4L649.4 800.7L650.4 801.1L651.4 801.4L652.4 801.8L653.4 802.1L654.4 802.5L655.4 802.8L656.4 803.2L657.4 803.6L658.4 804.0L659.4 804.4L660.4 804.7L661.4 805.1L662.4 805.5L663.4 805.9L664.4 806.4L665.4 806.8L666.4 807.2L667.4 807.6L668.4 808.1L669.4 808.5L670.4 809.0L671.4 809.4L672.4 809.9L673.4 810.4L674.4 810.9L675.4 811.4L676.4 811.9L677.4 812.4L678.4 812.9L679.4 813.5L680.4 814.0L681.4 814.5L682.4 815.0L683.4 815.6L684.4 816.1L685.4 816.6L686.4 817.2L687.4 817.7L688.4 818.2L689.4 818.8L690.4 819.3L691.4 819.8L692.4 820.3L693.4 820.9L694.4 821.4L695.4 821.9L696.4 822.5L697.4 823.0L698.4 823.5L699.4 824.1L700.4 824.6L701.4 825.2L702.4 825.7L703.4 826.3L704.4 826.8L705.4 827.4L706.4 827.9L707.4 828.5L708.4 829.0L709.4 829.6L710.4 830.2L711.4 830.7L712.4 831.3L713.4 831.9L714.4 832.4L715.4 833.0L716.4 833.6L717.4 834.1L718.4 834.7L719.4 835.3L720.4 835.9L721.4 836.5L722.4 837.1L723.4 837.6L724.4 838.2L725.4 838.8L726.4 839.4L727.4 840.0L728.4 840.6L729.4 841.2L730.4 841.8L731.4 842.5L732.4 843.1L733.4 843.7L734.4 844.3L735.4 844.9L736.4 845.5L737.4 846.1L738.4 846.7L739.4 847.3L740.4 847.9L741.4 848.5L742.4 849.1L743.4 849.7L744.4 850.3L745.4 850.9L746.4 851.5L747.4 852.1L748.4 852.7L749.4 853.3L750.4 853.9L751.4 854.5L752.4 855.1L753.4 855.7L754.4 856.3L755.4 856.9L756.4 857.5L757.4 858.1L758.4 858.7L759.4 859.3L760.4 859.9L761.4 860.5L762.4 861.1L763.4 861.7" fill="none" stroke="#1a7a1a" stroke-width="2.3" stroke-linejoin="round" stroke-dasharray="8.3 3.6"/>
<path d="M128.4 956.2L129.4 956.2L130.4 956.2L131.4 956.2L132.4 956.2L133.4 956.2L134.4 956.2L135.4 956.2L136.4 956.1L137.4 956.1L138.4 956.1L139.4 956.1L140.4 956.1L141.4 956.1L142.4 956.0L143.4 956.0L144.4 955.9L145.4 955.9L146.4 955.8L147.4 955.7L148.4 955.5L149.4 955.2L150.4 954.7L151.4 954.1L152.4 953.3L153.4 952.3L154.4 950.5L155.4 948.2L156.4 945.4L157.4 942.2L158.4 938.4L159.4 933.5L160.4 927.5L161.4 918.7L162.4 907.0L163.4 893.9L164.4 879.1L165.4 861.7L166.4 841.3L167.4 815.8L168.4 788.4L169.4 759.0L170.4 726.2L171.4 688.6L172.4 653.5L173.4 622.2L174.4 595.0L175.4 571.6L176.4 552.8L177.4 540.5L178.4 536.4L179.4 535.1L180.4 534.5L181.4 534.3L182.4 539.3L183.4 554.8L184.4 580.0L185.4 604.2L186.4 630.5L187.4 659.3L188.4 687.4L189.4 715.0L190.4 742.8L191.4 772.4L192.4 800.2L193.4 822.5L194.4 841.7L195.4 857.6L196.4 871.1L197.4 883.3L198.4 895.3L199.4 907.0L200.4 915.3L201.4 921.4L202.4 925.2L203.4 927.2L204.4 927.3L205.4 926.3L206.4 924.6L207.4 922.6L208.4 919.5L209.4 915.6L210.4 911.4L211.4 907.3L212.4 902.9L213.4 898.2L214.4 893.3L215.4 888.2L216.4 882.8L217.4 877.1L218.4 871.3L219.4 865.3L220.4 859.4L221.4 853.4L222.4 847.5L223.4 841.4L224.4 835.4L225.4 829.3L226.4 823.3L227.4 817.3L228.4 811.2L229.4 805.0L230.4 798.4L231.4 791.5L232.4 784.9L233.4 779.1L234.4 773.9L235.4 769.0L236.4 764.4L237.4 760.1L238.4 756.2L239.4 752.5L240.4 748.8L241.4 745.4L242.4 742.4L243.4 740.2L244.4 738.8L245.4 737.6L246.4 736.7L247.4 736.3L248.4 736.5L249.4 737.2L250.4 738.1L251.4 739.1L252.4 740.7L253.4 742.9L254.4 745.4L255.4 747.9L256.4 750.5L257.4 753.4L258.4 756.4L259.4 759.6L260.4 762.7L261.4 765.6L262.4 768.3L263.4 771.1L264.4 773.7L265.4 776.3L266.4 778.7L267.4 780.9L268.4 782.9L269.4 784.8L270.4 786.6L271.4 788.2L272.4 789.5L273.4 790.3L274.4 791.0L275.4 791.6L276.4 792.0L277.4 791.9L278.4 791.7L279.4 791.2L280.4 790.6L281.4 789.9L282.4 788.9L283.4 787.5L284.4 785.7L285.4 783.8L286.4 781.9L287.4 780.0L288.4 778.1L289.4 776.1L290.4 774.1L291.4 771.9L292.4 769.9L293.4 767.8L294.4 765.9L295.4 764.1L296.4 762.3L297.4 760.5L298.4 758.8L299.4 757.2L300.4 755.6L301.4 754.3L302.4 753.1L303.4 752.0L304.4 751.0L305.4 750.0L306.4 749.1L307.4 748.3L308.4 747.6L309.4 747.1L310.4 746.7L311.4 746.4L312.4 746.1L313.4 745.9L314.4 745.7L315.4 745.7L316.4 745.8L317.4 746.1L318.4 746.4L319.4 746.8L320.4 747.2L321.4 747.7L322.4 748.1L323.4 748.7L324.4 749.4L325.4 750.1L326.4 750.9L327.4 751.8L328.4 752.6L329.4 753.5L330.4 754.3L331.4 755.1L332.4 755.9L333.4 756.7L334.4 757.5L335.4 758.3L336.4 759.1L337.4 760.0L338.4 760.7L339.4 761.5L340.4 762.2L341.4 762.9L342.4 763.5L343.4 764.2L344.4 764.8L345.4 765.4L346.4 765.9L347.4 766.5L348.4 767.1L349.4 767.6L350.4 768.1L351.4 768.7L352.4 769.2L353.4 769.7L354.4 770.2L355.4 770.7L356.4 771.2L357.4 771.7L358.4 772.2L359.4 772.7L360.4 773.1L361.4 773.6L362.4 774.1L363.4 774.5L364.4 775.0L365.4 775.5L366.4 776.0L367.4 776.5L368.4 777.0L369.4 777.5L370.4 778.0L371.4 778.5L372.4 779.1L373.4 779.6L374.4 780.1L375.4 780.6L376.4 781.0L377.4 781.5L378.4 781.9L379.4 782.3L380.4 782.6L381.4 783.0L382.4 783.3L383.4 783.6L384.4 783.9L385.4 784.1L386.4 784.4L387.4 784.7L388.4 784.9L389.4 785.1L390.4 785.4L391.4 785.6L392.4 785.8L393.4 786.0L394.4 786.2L395.4 786.4L396.4 786.6L397.4 786.8L398.4 787.0L399.4 787.2L400.4 787.4L401.4 787.5L402.4 787.7L403.4 787.8L404.4 788.0L405.4 788.2L406.4 788.3L407.4 788.4L408.4 788.6L409.4 788.7L410.4 788.9L411.4 789.0L412.4 789.1L413.4 789.3L414.4 789.4L415.4 789.5L416.4 789.6L417.4 789.7L418.4 789.9L419.4 790.0L420.4 790.1L421.4 790.2L422.4 790.3L423.4 790.4L424.4 790.5L425.4 790.6L426.4 790.7L427.4 790.8L428.4 790.9L429.4 791.0L430.4 791.1L431.4 791.1L432.4 791.2L433.4 791.3L434.4 791.4L435.4 791.5L436.4 791.6L437.4 791.7L438.4 791.8L439.4 791.9L440.4 792.0L441.4 792.1L442.4 792.1L443.4 792.2L444.4 792.3L445.4 792.4L446.4 792.4L447.4 792.5L448.4 792.5L449.4 792.6L450.4 792.6L451.4 792.6L452.4 792.7L453.4 792.7L454.4 792.7L455.4 792.7L456.4 792.7L457.4 792.7L458.4 792.7L459.4 792.7L460.4 792.6L461.4 792.6L462.4 792.6L463.4 792.5L464.4 792.5L465.4 792.5L466.4 792.4L467.4 792.4L468.4 792.3L469.4 792.3L470.4 792.2L471.4 792.2L472.4 792.1L473.4 792.0L474.4 791.9L475.4 791.7L476.4 791.6L477.4 791.4L478.4 791.2L479.4 791.0L480.4 790.9L481.4 790.7L482.4 790.5L483.4 790.2L484.4 790.0L485.4 789.8L486.4 789.6L487.4 789.4L488.4 789.2L489.4 789.0L490.4 788.7L491.4 788.5L492.4 788.2L493.4 787.9L494.4 787.7L495.4 787.4L496.4 787.1L497.4 786.8L498.4 786.5L499.4 786.2L500.4 785.9L501.4 785.6L502.4 785.3L503.4 785.0L504.4 784.7L505.4 784.4L506.4 784.1L507.4 783.8L508.4 783.5L509.4 783.2L510.4 782.9L511.4 782.6L512.4 782.3L513.4 781.9L514.4 781.6L515.4 781.3L516.4 780.9L517.4 780.6L518.4 780.3L519.4 779.9L520.4 779.6L521.4 779.3L522.4 779.0L523.4 778.6L524.4 778.3L525.4 778.0L526.4 777.8L527.4 777.5L528.4 777.2L529.4 777.0L530.4 776.7L531.4 776.5L532.4 776.2L533.4 776.0L534.4 775.7L535.4 775.5L536.4 775.3L537.4 775.0L538.4 774.8L539.4 774.6L540.4 774.4L541.4 774.2L542.4 774.0L543.4 773.8L544.4 773.7L545.4 773.5L546.4 773.4L547.4 773.2L548.4 773.1L549.4 773.0L550.4 772.9L551.4 772.7L552.4 772.6L553.4 772.5L554.4 772.4L555.4 772.3L556.4 772.2L557.4 772.1L558.4 772.0L559.4 771.9L560.4 771.9L561.4 771.8L562.4 771.8L563.4 771.7L564.4 771.7L565.4 771.7L566.4 771.7L567.4 771.7L568.4 771.7L569.4 771.8L570.4 771.8L571.4 771.9L572.4 771.9L573.4 772.0L574.4 772.0L575.4 772.1L576.4 772.1L577.4 772.2L578.4 772.3L579.4 772.4L580.4 772.5L581.4 772.5L582.4 772.6L583.4 772.8L584.4 772.9L585.4 773.1L586.4 773.2L587.4 773.4L588.4 773.6L589.4 773.9L590.4 774.1L591.4 774.3L592.4 774.6L593.4 774.8L594.4 775.1L595.4 775.4L596.4 775.6L597.4 775.9L598.4 776.2L599.4 776.4L600.4 776.7L601.4 777.0L602.4 777.3L603.4 777.6L604.4 778.0L605.4 778.3L606.4 778.6L607.4 779.0L608.4 779.4L609.4 779.7L610.4 780.1L611.4 780.5L612.4 780.9L613.4 781.3L614.4 781.7L615.4 782.1L616.4 782.5L617.4 782.9L618.4 783.3L619.4 783.7L620.4 784.1L621.4 784.5L622.4 784.9L623.4 785.3L624.4 785.8L625.4 786.2L626.4 786.6L627.4 787.1L628.4 787.5L629.4 787.9L630.4 788.4L631.4 788.8L632.4 789.3L633.4 789.8L634.4 790.2L635.4 790.7L636.4 791.1L637.4 791.6L638.4 792.1L639.4 792.5L640.4 793.0L641.4 793.5L642.4 793.9L643.4 794.4L644.4 794.9L645.4 795.4L646.4 795.9L647.4 796.4L648.4 796.8L649.4 797.3L650.4 797.8L651.4 798.3L652.4 798.8L653.4 799.3L654.4 799.8L655.4 800.3L656.4 800.9L657.4 801.4L658.4 801.9L659.4 802.4L660.4 802.9L661.4 803.4L662.4 803.9L663.4 804.5L664.4 805.0L665.4 805.5L666.4 806.0L667.4 806.6L668.4 807.1L669.4 807.6L670.4 808.2L671.4 808.7L672.4 809.3L673.4 809.8L674.4 810.4L675.4 810.9L676.4 811.5L677.4 812.0L678.4 812.6L679.4 813.1L680.4 813.7L681.4 814.2L682.4 814.8L683.4 815.4L684.4 815.9L685.4 816.5L686.4 817.0L687.4 817.6L688.4 818.2L689.4 818.7L690.4 819.3L691.4 819.8L692.4 820.4L693.4 820.9L694.4 821.5L695.4 822.0L696.4 822.5L697.4 823.1L698.4 823.6L699.4 824.2L700.4 824.7L701.4 825.3L702.4 825.8L703.4 826.4L704.4 826.9L705.4 827.4L706.4 828.0L707.4 828.5L708.4 829.1L709.4 829.6L710.4 830.2L711.4 830.8L712.4 831.3L713.4 831.9L714.4 832.4L715.4 833.0L716.4 833.6L717.4 834.1L718.4 834.7L719.4 835.3L720.4 835.9L721.4 836.5L722.4 837.1L723.4 837.6L724.4 838.2L725.4 838.8L726.4 839.4L727.4 840.0L728.4 840.6L729.4 841.2L730.4 841.8L731.4 842.5L732.4 843.1L733.4 843.7L734.4 844.3L735.4 844.9L736.4 845.5L737.4 846.1L738.4 846.7L739.4 847.3L740.4 847.9L741.4 848.5L742.4 849.1L743.4 849.7L744.4 850.3L745.4 850.9L746.4 851.5L747.4 852.1L748.4 852.7L749.4 853.3L750.4 853.9L751.4 854.5L752.4 855.1L753.4 855.7L754.4 856.3L755.4 856.9L756.4 857.5L757.4 858.1L758.4 858.7L759.4 859.3L760.4 859.9L761.4 860.5L762.4 861.1L763.4 861.7" fill="none" stroke="#e8101c" stroke-width="2.3" stroke-linejoin="round"/>
<rect x="128.4" y="524.3" width="634.6" height="433.7" fill="none" stroke="#262626" stroke-width="1.5"/>
<path d="M128.4 958.0v6M255.3 958.0v6M382.2 958.0v6M509.2 958.0v6M636.1 958.0v6M763.0 958.0v6" stroke="#262626" stroke-width="1.5" fill="none"/>
<text x="128.4" y="985.4" font-size="24.8" text-anchor="middle">0.0</text>
<text x="255.3" y="985.4" font-size="24.8" text-anchor="middle">0.1</text>
<text x="382.2" y="985.4" font-size="24.8" text-anchor="middle">0.2</text>
<text x="509.2" y="985.4" font-size="24.8" text-anchor="middle">0.3</text>
<text x="636.1" y="985.4" font-size="24.8" text-anchor="middle">0.4</text>
<text x="763.0" y="985.4" font-size="24.8" text-anchor="middle">0.5</text>
<text x="444.5" y="1014.7" font-size="25.25" text-anchor="middle">Normalized Frequency(Hz)</text>
<text transform="translate(113.8 740.2) rotate(-90)" font-size="24.95" text-anchor="middle">Normalized Amplitude</text>
</g>
<g id="pd">
<rect x="975.7" y="527.5" width="46.4" height="439.9" fill="#ffb6c1"/>
<path d="M975.7 527.5V967.4M1022.1 527.5V967.4" stroke="#a04450" stroke-width="1.7" fill="none"/>
<rect x="1099.5" y="527.5" width="58.0" height="439.9" fill="#ffffe0"/>
<path d="M1099.5 527.5V967.4M1157.5 527.5V967.4" stroke="#2e8b8b" stroke-width="1.7" fill="none"/>
<rect x="1176.9" y="527.5" width="45.1" height="439.9" fill="#e0ffff"/>
<path d="M1176.9 527.5V967.4M1222.0 527.5V967.4" stroke="#2e8b8b" stroke-width="1.7" fill="none"/>
<rect x="1357.4" y="527.5" width="58.0" height="439.9" fill="#90ee90"/>
<path d="M1357.4 527.5V967.4M1415.5 527.5V967.4" stroke="#1e6b1e" stroke-width="1.7" fill="none"/>
<rect x="1512.2" y="527.5" width="45.1" height="439.9" fill="#d8bfd8"/>
<path d="M1512.2 527.5V967.4M1557.4 527.5V967.4" stroke="#8a2a9a" stroke-width="1.7" fill="none"/>
<path d="M931.5 910.0L932.0 909.9L932.5 909.8L933.0 909.7L933.5 909.6L934.0 909.5L934.5 909.4L935.0 909.3L935.5 909.2L936.0 909.1L936.5 909.0L937.0 908.8L937.5 908.7L938.0 908.6L938.5 908.4L939.0 908.3L939.5 908.1L940.0 908.0L940.5 907.9L941.0 907.7L941.5 907.5L942.0 907.4L942.5 907.2L943.0 907.1L943.5 906.9L944.0 906.7L944.5 906.5L945.0 906.4L945.5 906.2L946.0 906.0L946.5 905.8L947.0 905.5L947.5 905.3L948.0 905.1L948.5 904.9L949.0 904.6L949.5 904.3L950.0 904.1L950.5 903.8L951.0 903.5L951.5 903.2L952.0 902.8L952.5 902.4L953.0 902.0L953.5 901.5L954.0 901.1L954.5 900.6L955.0 900.1L955.5 899.6L956.0 899.1L956.5 898.5L957.0 898.0L957.5 897.5L958.0 896.9L958.5 896.3L959.0 895.7L959.5 895.1L960.0 894.4L960.5 893.8L961.0 893.1L961.5 892.4L962.0 891.6L962.5 890.9L963.0 890.1L963.5 889.3L964.0 888.5L964.5 887.6L965.0 886.8L965.5 885.8L966.0 884.9L966.5 883.9L967.0 882.8L967.5 881.6L968.0 880.3L968.5 879.0L969.0 877.5L969.5 875.8L970.0 873.9L970.5 871.8L971.0 869.6L971.5 867.1L972.0 864.4L972.5 861.5L973.0 858.3L973.5 854.9L974.0 850.7L974.5 846.0L975.0 840.7L975.5 835.0L976.0 828.9L976.5 822.1L977.0 814.3L977.5 805.4L978.0 795.5L978.5 784.2L979.0 771.2L979.5 757.0L980.0 739.8L980.5 722.8L981.0 708.1L981.5 695.4L982.0 693.4L982.5 700.9L983.0 711.4L983.5 720.1L984.0 728.9L984.5 737.5L985.0 745.0L985.5 751.2L986.0 756.6L986.5 761.8L987.0 767.1L987.5 772.1L988.0 777.7L988.5 784.9L989.0 793.7L989.5 803.1L990.0 813.3L990.5 824.4L991.0 833.7L991.5 840.0L992.0 845.5L992.5 850.3L993.0 854.5L993.5 858.2L994.0 861.6L994.5 864.7L995.0 867.6L995.5 870.4L996.0 873.1L996.5 875.5L997.0 877.7L997.5 879.7L998.0 881.4L998.5 882.9L999.0 884.2L999.5 885.4L1000.0 886.6L1000.5 887.7L1001.0 888.7L1001.5 889.6L1002.0 890.5L1002.5 891.3L1003.0 892.0L1003.5 892.6L1004.0 893.2L1004.5 893.6L1005.0 894.0L1005.5 894.4L1006.0 894.8L1006.5 895.1L1007.0 895.5L1007.5 895.8L1008.0 896.0L1008.5 896.3L1009.0 896.5L1009.5 896.6L1010.0 896.7L1010.5 896.8L1011.0 896.8L1011.5 896.7L1012.0 896.6L1012.5 896.4L1013.0 896.2L1013.5 896.0L1014.0 895.7L1014.5 895.4L1015.0 895.0L1015.5 894.7L1016.0 894.3L1016.5 894.0L1017.0 893.6L1017.5 893.1L1018.0 892.6L1018.5 892.0L1019.0 891.3L1019.5 890.6L1020.0 889.8L1020.5 889.0L1021.0 888.0L1021.5 887.0L1022.0 886.0L1022.5 884.7L1023.0 883.1L1023.5 881.4L1024.0 879.4L1024.5 877.2L1025.0 875.0L1025.5 872.6L1026.0 870.2L1026.5 867.7L1027.0 865.1L1027.5 862.4L1028.0 859.5L1028.5 856.4L1029.0 853.1L1029.5 849.5L1030.0 845.8L1030.5 841.7L1031.0 837.1L1031.5 832.0L1032.0 826.5L1032.5 820.8L1033.0 814.9L1033.5 809.0L1034.0 802.6L1034.5 796.0L1035.0 789.3L1035.5 782.5L1036.0 775.5L1036.5 768.3L1037.0 762.0L1037.5 755.9L1038.0 756.9L1038.5 763.3L1039.0 771.8L1039.5 779.3L1040.0 786.2L1040.5 792.8L1041.0 799.0L1041.5 805.1L1042.0 811.1L1042.5 816.9L1043.0 822.6L1043.5 828.0L1044.0 833.2L1044.5 838.1L1045.0 842.8L1045.5 847.4L1046.0 852.0L1046.5 856.3L1047.0 860.3L1047.5 863.9L1048.0 867.1L1048.5 869.8L1049.0 872.4L1049.5 874.8L1050.0 877.0L1050.5 879.1L1051.0 881.1L1051.5 882.8L1052.0 884.4L1052.5 885.7L1053.0 886.9L1053.5 888.0L1054.0 889.1L1054.5 890.1L1055.0 891.1L1055.5 892.0L1056.0 892.9L1056.5 893.6L1057.0 894.3L1057.5 894.9L1058.0 895.4L1058.5 895.8L1059.0 896.1L1059.5 896.4L1060.0 896.6L1060.5 896.9L1061.0 897.1L1061.5 897.3L1062.0 897.5L1062.5 897.6L1063.0 897.8L1063.5 897.9L1064.0 898.0L1064.5 898.0L1065.0 898.0L1065.5 897.9L1066.0 897.8L1066.5 897.6L1067.0 897.4L1067.5 897.1L1068.0 896.8L1068.5 896.4L1069.0 896.0L1069.5 895.6L1070.0 895.2L1070.5 894.7L1071.0 894.3L1071.5 893.8L1072.0 893.3L1072.5 892.7L1073.0 892.0L1073.5 891.3L1074.0 890.4L1074.5 889.6L1075.0 888.6L1075.5 887.6L1076.0 886.6L1076.5 885.5L1077.0 884.4L1077.5 883.2L1078.0 882.0L1078.5 880.7L1079.0 879.3L1079.5 877.7L1080.0 876.1L1080.5 874.4L1081.0 872.6L1081.5 870.7L1082.0 868.7L1082.5 866.5L1083.0 864.3L1083.5 861.6L1084.0 858.7L1084.5 855.5L1085.0 852.1L1085.5 848.6L1086.0 845.2L1086.5 841.8L1087.0 838.4L1087.5 834.6L1088.0 830.6L1088.5 826.9L1089.0 823.9L1089.5 821.9L1090.0 820.7L1090.5 819.9L1091.0 819.4L1091.5 819.6L1092.0 820.2L1092.5 821.2L1093.0 822.3L1093.5 823.7L1094.0 825.8L1094.5 828.7L1095.0 832.1L1095.5 835.6L1096.0 839.2L1096.5 842.5L1097.0 846.1L1097.5 849.8L1098.0 853.6L1098.5 857.2L1099.0 860.5L1099.5 863.3L1100.0 865.9L1100.5 868.3L1101.0 870.7L1101.5 872.9L1102.0 874.9L1102.5 876.7L1103.0 878.4L1103.5 879.9L1104.0 881.4L1104.5 882.7L1105.0 884.1L1105.5 885.3L1106.0 886.5L1106.5 887.5L1107.0 888.5L1107.5 889.4L1108.0 890.3L1108.5 891.0L1109.0 891.7L1109.5 892.3L1110.0 893.0L1110.5 893.6L1111.0 894.2L1111.5 894.7L1112.0 895.2L1112.5 895.6L1113.0 896.0L1113.5 896.4L1114.0 896.6L1114.5 896.8L1115.0 897.0L1115.5 897.2L1116.0 897.4L1116.5 897.5L1117.0 897.6L1117.5 897.8L1118.0 897.9L1118.5 897.9L1119.0 898.0L1119.5 898.0L1120.0 898.0L1120.5 897.9L1121.0 897.8L1121.5 897.6L1122.0 897.3L1122.5 897.0L1123.0 896.7L1123.5 896.3L1124.0 895.9L1124.5 895.5L1125.0 895.1L1125.5 894.6L1126.0 894.2L1126.5 893.7L1127.0 893.2L1127.5 892.6L1128.0 891.9L1128.5 891.1L1129.0 890.3L1129.5 889.4L1130.0 888.4L1130.5 887.4L1131.0 886.4L1131.5 885.3L1132.0 884.2L1132.5 883.1L1133.0 881.9L1133.5 880.7L1134.0 879.5L1134.5 878.1L1135.0 876.6L1135.5 875.1L1136.0 873.5L1136.5 871.9L1137.0 870.2L1137.5 868.4L1138.0 866.6L1138.5 864.8L1139.0 862.8L1139.5 860.6L1140.0 858.3L1140.5 855.9L1141.0 853.5L1141.5 851.2L1142.0 849.0L1142.5 847.1L1143.0 845.4L1143.5 843.6L1144.0 841.9L1144.5 840.6L1145.0 839.8L1145.5 839.8L1146.0 840.5L1146.5 841.7L1147.0 843.1L1147.5 844.8L1148.0 846.5L1148.5 848.3L1149.0 850.4L1149.5 852.8L1150.0 855.5L1150.5 858.2L1151.0 860.9L1151.5 863.4L1152.0 865.6L1152.5 867.7L1153.0 869.6L1153.5 871.5L1154.0 873.3L1154.5 875.0L1155.0 876.8L1155.5 878.6L1156.0 880.5L1156.5 882.4L1157.0 884.6L1157.5 887.0L1158.0 889.4L1158.5 891.4L1159.0 892.7L1159.5 893.5L1160.0 894.2L1160.5 894.8L1161.0 895.3L1161.5 895.8L1162.0 896.3L1162.5 896.6L1163.0 897.0L1163.5 897.2L1164.0 897.5L1164.5 897.7L1165.0 897.8L1165.5 898.0L1166.0 898.1L1166.5 898.3L1167.0 898.4L1167.5 898.5L1168.0 898.6L1168.5 898.7L1169.0 898.8L1169.5 898.9L1170.0 898.9L1170.5 899.0L1171.0 899.0L1171.5 899.0L1172.0 899.0L1172.5 899.0L1173.0 898.9L1173.5 898.9L1174.0 898.8L1174.5 898.7L1175.0 898.6L1175.5 898.5L1176.0 898.4L1176.5 898.3L1177.0 898.1L1177.5 898.0L1178.0 897.8L1178.5 897.7L1179.0 897.4L1179.5 897.1L1180.0 896.7L1180.5 896.2L1181.0 895.6L1181.5 895.0L1182.0 894.3L1182.5 893.6L1183.0 892.8L1183.5 892.1L1184.0 891.3L1184.5 890.5L1185.0 889.6L1185.5 888.6L1186.0 887.5L1186.5 886.4L1187.0 885.2L1187.5 883.9L1188.0 882.7L1188.5 881.4L1189.0 880.1L1189.5 878.8L1190.0 877.5L1190.5 876.0L1191.0 874.5L1191.5 873.0L1192.0 871.4L1192.5 869.9L1193.0 868.5L1193.5 867.1L1194.0 865.9L1194.5 864.7L1195.0 863.6L1195.5 862.5L1196.0 861.5L1196.5 860.6L1197.0 859.8L1197.5 859.3L1198.0 858.9L1198.5 858.5L1199.0 858.2L1199.5 858.0L1200.0 857.8L1200.5 857.8L1201.0 858.2L1201.5 859.0L1202.0 860.0L1202.5 861.2L1203.0 862.4L1203.5 863.6L1204.0 864.9L1204.5 866.4L1205.0 868.0L1205.5 869.7L1206.0 871.3L1206.5 872.9L1207.0 874.4L1207.5 875.8L1208.0 877.2L1208.5 878.6L1209.0 879.9L1209.5 881.3L1210.0 882.6L1210.5 883.8L1211.0 885.1L1211.5 886.2L1212.0 887.3L1212.5 888.3L1213.0 889.3L1213.5 890.2L1214.0 891.1L1214.5 892.0L1215.0 892.9L1215.5 893.7L1216.0 894.5L1216.5 895.2L1217.0 895.9L1217.5 896.4L1218.0 896.9L1218.5 897.2L1219.0 897.6L1219.5 897.9L1220.0 898.2L1220.5 898.5L1221.0 898.8L1221.5 899.0L1222.0 899.2L1222.5 899.3L1223.0 899.4L1223.5 899.5L1224.0 899.5L1224.5 899.5L1225.0 899.5L1225.5 899.4L1226.0 899.4L1226.5 899.4L1227.0 899.3L1227.5 899.2L1228.0 899.2L1228.5 899.1L1229.0 899.0L1229.5 898.9L1230.0 898.8L1230.5 898.6L1231.0 898.4L1231.5 898.1L1232.0 897.8L1232.5 897.4L1233.0 897.0L1233.5 896.6L1234.0 896.2L1234.5 895.8L1235.0 895.3L1235.5 894.8L1236.0 894.2L1236.5 893.5L1237.0 892.8L1237.5 892.0L1238.0 891.2L1238.5 890.3L1239.0 889.5L1239.5 888.6L1240.0 887.7L1240.5 886.9L1241.0 885.9L1241.5 884.9L1242.0 883.9L1242.5 882.8L1243.0 881.7L1243.5 880.7L1244.0 879.6L1244.5 878.6L1245.0 877.6L1245.5 876.7L1246.0 875.9L1246.5 875.1L1247.0 874.3L1247.5 873.4L1248.0 872.7L1248.5 871.9L1249.0 871.2L1249.5 870.6L1250.0 870.1L1250.5 869.6L1251.0 869.2L1251.5 868.8L1252.0 868.4L1252.5 868.2L1253.0 868.1L1253.5 868.3L1254.0 868.7L1254.5 869.3L1255.0 870.0L1255.5 870.7L1256.0 871.5L1256.5 872.2L1257.0 873.0L1257.5 873.9L1258.0 874.8L1258.5 875.8L1259.0 876.8L1259.5 877.8L1260.0 878.8L1260.5 879.8L1261.0 880.7L1261.5 881.6L1262.0 882.5L1262.5 883.4L1263.0 884.3L1263.5 885.2L1264.0 886.1L1264.5 887.0L1265.0 887.8L1265.5 888.7L1266.0 889.5L1266.5 890.3L1267.0 891.0L1267.5 891.8L1268.0 892.7L1268.5 893.5L1269.0 894.2L1269.5 895.0L1270.0 895.7L1270.5 896.3L1271.0 896.9L1271.5 897.4L1272.0 897.8L1272.5 898.1L1273.0 898.5L1273.5 898.8L1274.0 899.2L1274.5 899.5L1275.0 899.7L1275.5 900.0L1276.0 900.2L1276.5 900.3L1277.0 900.4L1277.5 900.4L1278.0 900.4L1278.5 900.4L1279.0 900.3L1279.5 900.3L1280.0 900.2L1280.5 900.1L1281.0 900.1L1281.5 900.0L1282.0 899.9L1282.5 899.8L1283.0 899.7L1283.5 899.5L1284.0 899.4L1284.5 899.2L1285.0 899.0L1285.5 898.7L1286.0 898.4L1286.5 898.1L1287.0 897.7L1287.5 897.4L1288.0 897.0L1288.5 896.6L1289.0 896.2L1289.5 895.8L1290.0 895.3L1290.5 894.8L1291.0 894.1L1291.5 893.4L1292.0 892.6L1292.5 891.8L1293.0 891.0L1293.5 890.1L1294.0 889.3L1294.5 888.5L1295.0 887.7L1295.5 887.0L1296.0 886.2L1296.5 885.4L1297.0 884.6L1297.5 883.8L1298.0 883.1L1298.5 882.3L1299.0 881.6L1299.5 881.0L1300.0 880.4L1300.5 880.0L1301.0 879.6L1301.5 879.2L1302.0 878.8L1302.5 878.4L1303.0 878.1L1303.5 877.9L1304.0 877.7L1304.5 877.5L1305.0 877.5L1305.5 877.5L1306.0 877.6L1306.5 877.7L1307.0 877.8L1307.5 877.9L1308.0 878.1L1308.5 878.2L1309.0 878.4L1309.5 878.6L1310.0 879.0L1310.5 879.4L1311.0 880.0L1311.5 880.5L1312.0 881.2L1312.5 881.9L1313.0 882.6L1313.5 883.2L1314.0 883.9L1314.5 884.6L1315.0 885.3L1315.5 886.0L1316.0 886.8L1316.5 887.6L1317.0 888.4L1317.5 889.3L1318.0 890.1L1318.5 890.9L1319.0 891.6L1319.5 892.3L1320.0 892.9L1320.5 893.5L1321.0 894.0L1321.5 894.5L1322.0 895.1L1322.5 895.6L1323.0 896.1L1323.5 896.5L1324.0 897.0L1324.5 897.4L1325.0 897.8L1325.5 898.2L1326.0 898.5L1326.5 898.8L1327.0 899.1L1327.5 899.3L1328.0 899.6L1328.5 899.8L1329.0 900.1L1329.5 900.3L1330.0 900.5L1330.5 900.7L1331.0 900.9L1331.5 901.1L1332.0 901.2L1332.5 901.3L1333.0 901.4L1333.5 901.4L1334.0 901.4L1334.5 901.4L1335.0 901.3L1335.5 901.2L1336.0 901.2L1336.5 901.0L1337.0 900.9L1337.5 900.8L1338.0 900.6L1338.5 900.5L1339.0 900.3L1339.5 900.1L1340.0 899.9L1340.5 899.7L1341.0 899.5L1341.5 899.3L1342.0 899.0L1342.5 898.7L1343.0 898.3L1343.5 897.9L1344.0 897.5L1344.5 897.1L1345.0 896.6L1345.5 896.1L1346.0 895.7L1346.5 895.2L1347.0 894.7L1347.5 894.2L1348.0 893.7L1348.5 893.1L1349.0 892.5L1349.5 891.8L1350.0 891.2L1350.5 890.5L1351.0 889.8L1351.5 889.2L1352.0 888.5L1352.5 887.9L1353.0 887.4L1353.5 886.9L1354.0 886.3L1354.5 885.8L1355.0 885.3L1355.5 884.8L1356.0 884.3L1356.5 883.9L1357.0 883.6L1357.5 883.3L1358.0 883.1L1358.5 883.0L1359.0 882.9L1359.5 882.8L1360.0 882.7L1360.5 882.6L1361.0 882.6L1361.5 882.6L1362.0 882.7L1362.5 882.8L1363.0 883.0L1363.5 883.3L1364.0 883.6L1364.5 883.9L1365.0 884.2L1365.5 884.6L1366.0 885.1L1366.5 885.9L1367.0 886.8L1367.5 887.9L1368.0 889.1L1368.5 890.3L1369.0 891.4L1369.5 892.5L1370.0 893.5L1370.5 894.2L1371.0 894.8L1371.5 895.4L1372.0 896.0L1372.5 896.5L1373.0 897.0L1373.5 897.5L1374.0 898.0L1374.5 898.4L1375.0 898.8L1375.5 899.2L1376.0 899.6L1376.5 899.9L1377.0 900.2L1377.5 900.5L1378.0 900.7L1378.5 901.0L1379.0 901.2L1379.5 901.4L1380.0 901.7L1380.5 901.9L1381.0 902.1L1381.5 902.3L1382.0 902.5L1382.5 902.7L1383.0 902.8L1383.5 902.9L1384.0 903.0L1384.5 903.1L1385.0 903.2L1385.5 903.2L1386.0 903.2L1386.5 903.2L1387.0 903.1L1387.5 903.1L1388.0 903.0L1388.5 903.0L1389.0 902.9L1389.5 902.8L1390.0 902.7L1390.5 902.6L1391.0 902.5L1391.5 902.4L1392.0 902.3L1392.5 902.2L1393.0 902.1L1393.5 901.9L1394.0 901.7L1394.5 901.5L1395.0 901.3L1395.5 901.0L1396.0 900.8L1396.5 900.5L1397.0 900.2L1397.5 899.9L1398.0 899.5L1398.5 899.2L1399.0 898.9L1399.5 898.5L1400.0 898.2L1400.5 897.8L1401.0 897.5L1401.5 897.1L1402.0 896.7L1402.5 896.2L1403.0 895.8L1403.5 895.3L1404.0 894.8L1404.5 894.3L1405.0 893.8L1405.5 893.3L1406.0 892.8L1406.5 892.4L1407.0 892.0L1407.5 891.6L1408.0 891.2L1408.5 890.8L1409.0 890.4L1409.5 890.0L1410.0 889.6L1410.5 889.2L1411.0 888.8L1411.5 888.6L1412.0 888.3L1412.5 888.2L1413.0 888.1L1413.5 888.1L1414.0 888.2L1414.5 888.3L1415.0 888.5L1415.5 888.7L1416.0 888.9L1416.5 889.2L1417.0 889.5L1417.5 889.8L1418.0 890.2L1418.5 890.5L1419.0 890.8L1419.5 891.2L1420.0 891.5L1420.5 891.8L1421.0 892.2L1421.5 892.7L1422.0 893.1L1422.5 893.6L1423.0 894.1L1423.5 894.6L1424.0 895.1L1424.5 895.6L1425.0 896.1L1425.5 896.6L1426.0 897.0L1426.5 897.4L1427.0 897.8L1427.5 898.1L1428.0 898.4L1428.5 898.8L1429.0 899.1L1429.5 899.4L1430.0 899.8L1430.5 900.1L1431.0 900.4L1431.5 900.6L1432.0 900.9L1432.5 901.2L1433.0 901.4L1433.5 901.6L1434.0 901.8L1434.5 902.0L1435.0 902.2L1435.5 902.3L1436.0 902.5L1436.5 902.6L1437.0 902.8L1437.5 902.9L1438.0 903.0L1438.5 903.1L1439.0 903.3L1439.5 903.4L1440.0 903.4L1440.5 903.5L1441.0 903.6L1441.5 903.6L1442.0 903.6L1442.5 903.6L1443.0 903.6L1443.5 903.5L1444.0 903.4L1444.5 903.4L1445.0 903.3L1445.5 903.2L1446.0 903.1L1446.5 902.9L1447.0 902.8L1447.5 902.6L1448.0 902.5L1448.5 902.3L1449.0 902.2L1449.5 902.0L1450.0 901.9L1450.5 901.7L1451.0 901.5L1451.5 901.3L1452.0 901.0L1452.5 900.8L1453.0 900.5L1453.5 900.2L1454.0 899.9L1454.5 899.6L1455.0 899.3L1455.5 898.9L1456.0 898.6L1456.5 898.3L1457.0 897.9L1457.5 897.6L1458.0 897.3L1458.5 897.0L1459.0 896.7L1459.5 896.4L1460.0 896.0L1460.5 895.7L1461.0 895.3L1461.5 895.0L1462.0 894.6L1462.5 894.3L1463.0 894.0L1463.5 893.7L1464.0 893.4L1464.5 893.2L1465.0 893.0L1465.5 892.9L1466.0 892.7L1466.5 892.6L1467.0 892.5L1467.5 892.4L1468.0 892.3L1468.5 892.3L1469.0 892.2L1469.5 892.2L1470.0 892.2L1470.5 892.3L1471.0 892.5L1471.5 892.7L1472.0 893.0L1472.5 893.3L1473.0 893.6L1473.5 893.9L1474.0 894.3L1474.5 894.6L1475.0 894.9L1475.5 895.2L1476.0 895.6L1476.5 896.0L1477.0 896.4L1477.5 896.8L1478.0 897.3L1478.5 897.7L1479.0 898.2L1479.5 898.6L1480.0 899.0L1480.5 899.4L1481.0 899.8L1481.5 900.2L1482.0 900.5L1482.5 900.7L1483.0 901.0L1483.5 901.3L1484.0 901.6L1484.5 901.9L1485.0 902.1L1485.5 902.4L1486.0 902.6L1486.5 902.8L1487.0 903.1L1487.5 903.3L1488.0 903.5L1488.5 903.6L1489.0 903.8L1489.5 903.9L1490.0 904.1L1490.5 904.2L1491.0 904.3L1491.5 904.4L1492.0 904.5L1492.5 904.6L1493.0 904.7L1493.5 904.8L1494.0 904.9L1494.5 905.0L1495.0 905.1L1495.5 905.1L1496.0 905.2L1496.5 905.2L1497.0 905.2L1497.5 905.2L1498.0 905.2L1498.5 905.1L1499.0 905.0L1499.5 904.9L1500.0 904.8L1500.5 904.7L1501.0 904.6L1501.5 904.4L1502.0 904.3L1502.5 904.1L1503.0 903.9L1503.5 903.8L1504.0 903.6L1504.5 903.4L1505.0 903.3L1505.5 903.1L1506.0 902.9L1506.5 902.7L1507.0 902.5L1507.5 902.2L1508.0 901.9L1508.5 901.7L1509.0 901.4L1509.5 901.1L1510.0 900.8L1510.5 900.6L1511.0 900.3L1511.5 900.0L1512.0 899.8L1512.5 899.5L1513.0 899.2L1513.5 898.9L1514.0 898.6L1514.5 898.4L1515.0 898.1L1515.5 897.8L1516.0 897.6L1516.5 897.3L1517.0 897.2L1517.5 897.0L1518.0 896.9L1518.5 896.8L1519.0 896.7L1519.5 896.6L1520.0 896.5L1520.5 896.4L1521.0 896.4L1521.5 896.3L1522.0 896.3L1522.5 896.3L1523.0 896.3L1523.5 896.4L1524.0 896.5L1524.5 896.6L1525.0 896.8L1525.5 897.0L1526.0 897.2L1526.5 897.4L1527.0 897.7L1527.5 897.9L1528.0 898.1L1528.5 898.4L1529.0 898.6L1529.5 898.9L1530.0 899.2L1530.5 899.5L1531.0 899.9L1531.5 900.2L1532.0 900.6L1532.5 901.0L1533.0 901.4L1533.5 901.8L1534.0 902.1L1534.5 902.5L1535.0 902.9L1535.5 903.2L1536.0 903.5L1536.5 903.8L1537.0 904.2L1537.5 904.5L1538.0 904.8L1538.5 905.1L1539.0 905.4L1539.5 905.7L1540.0 906.0L1540.5 906.3L1541.0 906.6L1541.5 906.9L1542.0 907.2L1542.5 907.4L1543.0 907.7L1543.5 907.9L1544.0 908.1L1544.5 908.3L1545.0 908.6L1545.5 908.8L1546.0 909.0L1546.5 909.2L1547.0 909.3L1547.5 909.5L1548.0 909.7L1548.5 909.9L1549.0 910.1L1549.5 910.2L1550.0 910.4L1550.5 910.6L1551.0 910.7L1551.5 910.9L1552.0 911.0L1552.5 911.2L1553.0 911.3L1553.5 911.4L1554.0 911.6L1554.5 911.7L1555.0 911.8L1555.5 911.9L1556.0 912.1L1556.5 912.2L1557.0 912.3L1557.5 912.4L1558.0 912.5L1558.5 912.6L1559.0 912.7L1559.5 912.9L1560.0 913.0L1560.5 913.1L1561.0 913.1L1561.5 913.2L1562.0 913.3L1562.5 913.4L1563.0 913.5L1563.5 913.6L1564.0 913.7L1564.5 913.7L1565.0 913.8L1565.5 913.9L1566.0 914.0L1566.5 914.0L1567.0 914.1L1567.5 914.2L1568.0 914.2L1568.5 914.3L1569.0 914.4L1569.5 914.4L1570.0 914.5L1570.5 914.5L1571.0 914.6L1571.2 914.6" fill="none" stroke="#1a7a1a" stroke-width="2.3" stroke-linejoin="round" stroke-dasharray="8.3 3.6"/>
<path d="M931.5 910.0L932.0 909.9L932.5 909.8L933.0 909.7L933.5 909.6L934.0 909.5L934.5 909.4L935.0 909.3L935.5 909.2L936.0 909.0L936.5 908.9L937.0 908.8L937.5 908.7L938.0 908.5L938.5 908.4L939.0 908.3L939.5 908.1L940.0 908.0L940.5 907.9L941.0 907.7L941.5 907.6L942.0 907.4L942.5 907.3L943.0 907.1L943.5 907.0L944.0 906.8L944.5 906.6L945.0 906.5L945.5 906.3L946.0 906.1L946.5 905.9L947.0 905.8L947.5 905.6L948.0 905.4L948.5 905.2L949.0 905.0L949.5 904.7L950.0 904.5L950.5 904.3L951.0 904.1L951.5 903.8L952.0 903.6L952.5 903.3L953.0 903.0L953.5 902.7L954.0 902.4L954.5 902.1L955.0 901.8L955.5 901.5L956.0 901.1L956.5 900.8L957.0 900.4L957.5 900.0L958.0 899.6L958.5 899.2L959.0 898.8L959.5 898.4L960.0 897.9L960.5 897.5L961.0 897.0L961.5 896.5L962.0 896.0L962.5 895.4L963.0 894.9L963.5 894.3L964.0 893.6L964.5 893.0L965.0 892.3L965.5 891.6L966.0 890.9L966.5 890.1L967.0 889.4L967.5 888.6L968.0 887.7L968.5 886.8L969.0 885.9L969.5 884.9L970.0 883.8L970.5 882.7L971.0 881.5L971.5 880.3L972.0 879.0L972.5 877.5L973.0 876.0L973.5 874.4L974.0 872.5L974.5 870.3L975.0 868.0L975.5 865.5L976.0 862.8L976.5 860.0L977.0 857.0L977.5 853.8L978.0 850.5L978.5 846.8L979.0 842.8L979.5 838.4L980.0 833.6L980.5 828.6L981.0 823.4L981.5 817.7L982.0 811.4L982.5 804.2L983.0 795.8L983.5 786.0L984.0 773.4L984.5 755.6L985.0 722.0L985.5 684.2L986.0 644.6L986.5 651.9L987.0 694.3L987.5 717.4L988.0 736.0L988.5 750.9L989.0 761.9L989.5 770.1L990.0 776.7L990.5 782.6L991.0 788.7L991.5 795.4L992.0 802.2L992.5 808.9L993.0 815.3L993.5 821.2L994.0 826.9L994.5 832.4L995.0 837.7L995.5 842.6L996.0 847.1L996.5 850.9L997.0 854.5L997.5 857.9L998.0 861.1L998.5 864.1L999.0 866.7L999.5 869.0L1000.0 870.9L1000.5 872.4L1001.0 873.9L1001.5 875.2L1002.0 876.4L1002.5 877.5L1003.0 878.4L1003.5 879.1L1004.0 879.6L1004.5 880.0L1005.0 880.5L1005.5 880.8L1006.0 881.2L1006.5 881.4L1007.0 881.6L1007.5 881.7L1008.0 881.7L1008.5 881.5L1009.0 881.2L1009.5 880.8L1010.0 880.3L1010.5 879.7L1011.0 879.0L1011.5 878.3L1012.0 877.5L1012.5 876.7L1013.0 875.6L1013.5 874.3L1014.0 872.7L1014.5 871.0L1015.0 869.0L1015.5 867.0L1016.0 864.7L1016.5 862.1L1017.0 859.1L1017.5 855.6L1018.0 851.8L1018.5 847.7L1019.0 843.3L1019.5 838.3L1020.0 832.5L1020.5 826.3L1021.0 819.8L1021.5 812.9L1022.0 805.3L1022.5 797.4L1023.0 790.0L1023.5 782.0L1024.0 773.5L1024.5 767.2L1025.0 765.3L1025.5 765.3L1026.0 765.4L1026.5 765.5L1027.0 765.6L1027.5 765.8L1028.0 766.0L1028.5 766.2L1029.0 766.6L1029.5 767.2L1030.0 767.9L1030.5 770.8L1031.0 780.8L1031.5 793.3L1032.0 803.9L1032.5 814.9L1033.0 824.6L1033.5 831.5L1034.0 837.4L1034.5 842.5L1035.0 847.1L1035.5 851.2L1036.0 854.8L1036.5 858.2L1037.0 861.3L1037.5 864.2L1038.0 867.0L1038.5 869.6L1039.0 871.9L1039.5 874.1L1040.0 876.2L1040.5 878.0L1041.0 879.7L1041.5 881.3L1042.0 882.9L1042.5 884.3L1043.0 885.7L1043.5 887.1L1044.0 888.3L1044.5 889.5L1045.0 890.6L1045.5 891.6L1046.0 892.6L1046.5 893.5L1047.0 894.3L1047.5 895.1L1048.0 895.9L1048.5 896.6L1049.0 897.3L1049.5 898.0L1050.0 898.6L1050.5 899.3L1051.0 899.9L1051.5 900.4L1052.0 900.9L1052.5 901.4L1053.0 901.9L1053.5 902.3L1054.0 902.7L1054.5 903.0L1055.0 903.3L1055.5 903.7L1056.0 904.0L1056.5 904.3L1057.0 904.7L1057.5 905.0L1058.0 905.3L1058.5 905.5L1059.0 905.8L1059.5 906.0L1060.0 906.3L1060.5 906.5L1061.0 906.6L1061.5 906.8L1062.0 906.9L1062.5 907.0L1063.0 907.0L1063.5 907.0L1064.0 907.0L1064.5 907.0L1065.0 907.0L1065.5 907.0L1066.0 907.0L1066.5 907.0L1067.0 907.0L1067.5 907.0L1068.0 907.0L1068.5 907.0L1069.0 907.0L1069.5 907.0L1070.0 907.0L1070.5 907.0L1071.0 907.0L1071.5 907.0L1072.0 906.9L1072.5 906.8L1073.0 906.7L1073.5 906.6L1074.0 906.4L1074.5 906.2L1075.0 906.0L1075.5 905.8L1076.0 905.5L1076.5 905.3L1077.0 905.0L1077.5 904.8L1078.0 904.5L1078.5 904.2L1079.0 903.9L1079.5 903.7L1080.0 903.4L1080.5 903.1L1081.0 902.8L1081.5 902.4L1082.0 902.1L1082.5 901.7L1083.0 901.3L1083.5 900.9L1084.0 900.4L1084.5 900.0L1085.0 899.5L1085.5 899.0L1086.0 898.5L1086.5 898.0L1087.0 897.4L1087.5 896.8L1088.0 896.3L1088.5 895.7L1089.0 895.1L1089.5 894.4L1090.0 893.7L1090.5 892.9L1091.0 892.1L1091.5 891.3L1092.0 890.4L1092.5 889.5L1093.0 888.5L1093.5 887.5L1094.0 886.5L1094.5 885.4L1095.0 884.2L1095.5 883.0L1096.0 881.7L1096.5 880.3L1097.0 878.8L1097.5 877.3L1098.0 875.7L1098.5 874.0L1099.0 872.2L1099.5 870.4L1100.0 868.6L1100.5 866.7L1101.0 864.6L1101.5 862.5L1102.0 860.3L1102.5 858.0L1103.0 855.5L1103.5 853.0L1104.0 850.4L1104.5 847.7L1105.0 844.9L1105.5 841.9L1106.0 838.7L1106.5 835.3L1107.0 831.9L1107.5 828.5L1108.0 825.1L1108.5 821.8L1109.0 818.2L1109.5 814.5L1110.0 810.8L1110.5 807.2L1111.0 803.8L1111.5 800.7L1112.0 798.1L1112.5 795.7L1113.0 793.4L1113.5 791.1L1114.0 789.0L1114.5 787.3L1115.0 786.1L1115.5 785.5L1116.0 785.6L1116.5 786.1L1117.0 786.8L1117.5 787.7L1118.0 788.6L1118.5 789.5L1119.0 790.2L1119.5 790.7L1120.0 791.0L1120.5 791.2L1121.0 791.3L1121.5 791.4L1122.0 791.5L1122.5 791.6L1123.0 791.7L1123.5 791.9L1124.0 792.2L1124.5 793.4L1125.0 796.8L1125.5 801.3L1126.0 806.2L1126.5 810.4L1127.0 814.3L1127.5 818.3L1128.0 822.3L1128.5 826.3L1129.0 830.2L1129.5 833.9L1130.0 837.4L1130.5 840.7L1131.0 844.0L1131.5 847.1L1132.0 850.2L1132.5 853.2L1133.0 856.0L1133.5 858.6L1134.0 861.1L1134.5 863.3L1135.0 865.3L1135.5 867.2L1136.0 869.0L1136.5 870.8L1137.0 872.4L1137.5 874.0L1138.0 875.4L1138.5 876.8L1139.0 878.1L1139.5 879.3L1140.0 880.4L1140.5 881.5L1141.0 882.5L1141.5 883.5L1142.0 884.4L1142.5 885.3L1143.0 886.1L1143.5 886.9L1144.0 887.7L1144.5 888.4L1145.0 889.0L1145.5 889.6L1146.0 890.1L1146.5 890.6L1147.0 891.1L1147.5 891.6L1148.0 892.0L1148.5 892.5L1149.0 892.9L1149.5 893.4L1150.0 893.7L1150.5 894.1L1151.0 894.4L1151.5 894.7L1152.0 894.9L1152.5 895.1L1153.0 895.2L1153.5 895.3L1154.0 895.4L1154.5 895.4L1155.0 895.5L1155.5 895.5L1156.0 895.6L1156.5 895.6L1157.0 895.7L1157.5 895.7L1158.0 895.7L1158.5 895.8L1159.0 895.8L1159.5 895.8L1160.0 895.8L1160.5 895.8L1161.0 895.8L1161.5 895.7L1162.0 895.5L1162.5 895.3L1163.0 895.0L1163.5 894.7L1164.0 894.4L1164.5 894.0L1165.0 893.6L1165.5 893.2L1166.0 892.8L1166.5 892.3L1167.0 891.9L1167.5 891.4L1168.0 890.9L1168.5 890.3L1169.0 889.7L1169.5 889.0L1170.0 888.3L1170.5 887.5L1171.0 886.6L1171.5 885.8L1172.0 884.9L1172.5 883.9L1173.0 883.0L1173.5 882.0L1174.0 880.9L1174.5 879.8L1175.0 878.6L1175.5 877.3L1176.0 876.0L1176.5 874.7L1177.0 873.3L1177.5 872.0L1178.0 870.6L1178.5 869.2L1179.0 867.8L1179.5 866.3L1180.0 864.7L1180.5 863.1L1181.0 861.5L1181.5 859.9L1182.0 858.3L1182.5 856.8L1183.0 855.4L1183.5 854.0L1184.0 852.8L1184.5 851.5L1185.0 850.1L1185.5 848.8L1186.0 847.5L1186.5 846.4L1187.0 845.5L1187.5 844.9L1188.0 844.7L1188.5 845.0L1189.0 845.6L1189.5 846.7L1190.0 847.9L1190.5 849.2L1191.0 850.6L1191.5 851.8L1192.0 853.2L1192.5 854.7L1193.0 856.2L1193.5 857.9L1194.0 859.5L1194.5 861.0L1195.0 862.5L1195.5 863.8L1196.0 864.9L1196.5 866.1L1197.0 867.2L1197.5 868.3L1198.0 869.4L1198.5 870.4L1199.0 871.2L1199.5 872.0L1200.0 872.6L1200.5 873.0L1201.0 873.3L1201.5 873.6L1202.0 873.9L1202.5 874.2L1203.0 874.5L1203.5 874.7L1204.0 874.8L1204.5 874.9L1205.0 875.0L1205.5 875.0L1206.0 874.8L1206.5 874.4L1207.0 873.9L1207.5 873.3L1208.0 872.6L1208.5 871.8L1209.0 871.0L1209.5 870.3L1210.0 869.5L1210.5 868.7L1211.0 867.7L1211.5 866.7L1212.0 865.5L1212.5 864.4L1213.0 863.2L1213.5 862.1L1214.0 861.2L1214.5 860.3L1215.0 859.6L1215.5 859.0L1216.0 858.3L1216.5 857.7L1217.0 857.1L1217.5 856.7L1218.0 856.3L1218.5 856.1L1219.0 856.0L1219.5 856.1L1220.0 856.4L1220.5 856.8L1221.0 857.2L1221.5 857.8L1222.0 858.4L1222.5 859.1L1223.0 859.8L1223.5 860.5L1224.0 861.5L1224.5 862.6L1225.0 863.9L1225.5 865.3L1226.0 866.7L1226.5 868.2L1227.0 869.7L1227.5 871.1L1228.0 872.5L1228.5 873.8L1229.0 875.3L1229.5 876.8L1230.0 878.3L1230.5 879.8L1231.0 881.2L1231.5 882.7L1232.0 884.1L1232.5 885.3L1233.0 886.5L1233.5 887.6L1234.0 888.6L1234.5 889.6L1235.0 890.6L1235.5 891.5L1236.0 892.4L1236.5 893.3L1237.0 894.1L1237.5 894.9L1238.0 895.6L1238.5 896.3L1239.0 897.0L1239.5 897.6L1240.0 898.2L1240.5 898.7L1241.0 899.2L1241.5 899.7L1242.0 900.2L1242.5 900.6L1243.0 901.1L1243.5 901.5L1244.0 901.9L1244.5 902.3L1245.0 902.6L1245.5 903.0L1246.0 903.3L1246.5 903.6L1247.0 903.9L1247.5 904.1L1248.0 904.4L1248.5 904.6L1249.0 904.8L1249.5 905.0L1250.0 905.2L1250.5 905.4L1251.0 905.6L1251.5 905.8L1252.0 906.0L1252.5 906.1L1253.0 906.3L1253.5 906.4L1254.0 906.6L1254.5 906.7L1255.0 906.8L1255.5 906.8L1256.0 906.9L1256.5 906.9L1257.0 906.9L1257.5 906.9L1258.0 906.9L1258.5 906.9L1259.0 906.9L1259.5 906.9L1260.0 906.9L1260.5 906.9L1261.0 906.9L1261.5 906.9L1262.0 906.9L1262.5 906.9L1263.0 906.9L1263.5 906.9L1264.0 906.9L1264.5 906.8L1265.0 906.8L1265.5 906.7L1266.0 906.6L1266.5 906.4L1267.0 906.2L1267.5 906.1L1268.0 905.9L1268.5 905.6L1269.0 905.4L1269.5 905.2L1270.0 904.9L1270.5 904.7L1271.0 904.4L1271.5 904.1L1272.0 903.8L1272.5 903.5L1273.0 903.2L1273.5 902.8L1274.0 902.3L1274.5 901.9L1275.0 901.4L1275.5 900.8L1276.0 900.3L1276.5 899.7L1277.0 899.1L1277.5 898.5L1278.0 897.9L1278.5 897.2L1279.0 896.6L1279.5 895.9L1280.0 895.2L1280.5 894.5L1281.0 893.7L1281.5 892.9L1282.0 892.0L1282.5 891.2L1283.0 890.3L1283.5 889.5L1284.0 888.6L1284.5 887.8L1285.0 887.0L1285.5 886.2L1286.0 885.4L1286.5 884.5L1287.0 883.7L1287.5 882.8L1288.0 881.9L1288.5 881.1L1289.0 880.3L1289.5 879.5L1290.0 878.9L1290.5 878.3L1291.0 877.8L1291.5 877.4L1292.0 877.0L1292.5 876.6L1293.0 876.2L1293.5 875.9L1294.0 875.6L1294.5 875.3L1295.0 875.1L1295.5 875.0L1296.0 875.0L1296.5 875.1L1297.0 875.3L1297.5 875.6L1298.0 875.9L1298.5 876.3L1299.0 876.8L1299.5 877.3L1300.0 877.7L1300.5 878.2L1301.0 878.7L1301.5 879.2L1302.0 879.8L1302.5 880.4L1303.0 881.1L1303.5 881.8L1304.0 882.5L1304.5 883.3L1305.0 884.0L1305.5 884.7L1306.0 885.4L1306.5 886.1L1307.0 886.7L1307.5 887.3L1308.0 887.8L1308.5 888.4L1309.0 888.9L1309.5 889.4L1310.0 889.9L1310.5 890.4L1311.0 890.9L1311.5 891.4L1312.0 891.9L1312.5 892.3L1313.0 892.7L1313.5 893.0L1314.0 893.3L1314.5 893.6L1315.0 893.9L1315.5 894.1L1316.0 894.4L1316.5 894.6L1317.0 894.8L1317.5 895.0L1318.0 895.3L1318.5 895.4L1319.0 895.6L1319.5 895.7L1320.0 895.9L1320.5 895.9L1321.0 896.0L1321.5 896.0L1322.0 896.0L1322.5 896.0L1323.0 895.9L1323.5 895.9L1324.0 895.8L1324.5 895.7L1325.0 895.7L1325.5 895.6L1326.0 895.5L1326.5 895.4L1327.0 895.3L1327.5 895.1L1328.0 894.9L1328.5 894.6L1329.0 894.3L1329.5 894.0L1330.0 893.6L1330.5 893.2L1331.0 892.7L1331.5 892.2L1332.0 891.8L1332.5 891.3L1333.0 890.8L1333.5 890.3L1334.0 889.8L1334.5 889.3L1335.0 888.7L1335.5 888.1L1336.0 887.4L1336.5 886.7L1337.0 886.1L1337.5 885.4L1338.0 884.7L1338.5 884.0L1339.0 883.3L1339.5 882.6L1340.0 881.9L1340.5 881.3L1341.0 880.7L1341.5 880.1L1342.0 879.5L1342.5 878.8L1343.0 878.2L1343.5 877.6L1344.0 876.9L1344.5 876.3L1345.0 875.8L1345.5 875.3L1346.0 874.8L1346.5 874.3L1347.0 873.9L1347.5 873.6L1348.0 873.3L1348.5 873.0L1349.0 872.7L1349.5 872.4L1350.0 872.2L1350.5 872.0L1351.0 871.8L1351.5 871.7L1352.0 871.6L1352.5 871.6L1353.0 871.7L1353.5 871.8L1354.0 872.0L1354.5 872.2L1355.0 872.5L1355.5 872.7L1356.0 873.0L1356.5 873.3L1357.0 873.6L1357.5 873.8L1358.0 874.1L1358.5 874.4L1359.0 874.7L1359.5 875.0L1360.0 875.4L1360.5 875.7L1361.0 876.0L1361.5 876.2L1362.0 876.4L1362.5 876.6L1363.0 876.7L1363.5 876.8L1364.0 876.9L1364.5 877.0L1365.0 877.1L1365.5 877.2L1366.0 877.2L1366.5 877.3L1367.0 877.3L1367.5 877.3L1368.0 877.2L1368.5 877.1L1369.0 877.0L1369.5 876.8L1370.0 876.5L1370.5 876.3L1371.0 876.0L1371.5 875.7L1372.0 875.2L1372.5 874.7L1373.0 874.2L1373.5 873.6L1374.0 872.9L1374.5 872.3L1375.0 871.7L1375.5 871.0L1376.0 870.3L1376.5 869.6L1377.0 868.8L1377.5 868.1L1378.0 867.3L1378.5 866.5L1379.0 865.7L1379.5 864.9L1380.0 864.2L1380.5 863.4L1381.0 862.6L1381.5 861.8L1382.0 860.9L1382.5 860.1L1383.0 859.3L1383.5 858.5L1384.0 857.7L1384.5 857.0L1385.0 856.4L1385.5 855.8L1386.0 855.3L1386.5 854.7L1387.0 854.2L1387.5 853.7L1388.0 853.2L1388.5 852.7L1389.0 852.4L1389.5 852.1L1390.0 851.9L1390.5 851.9L1391.0 852.0L1391.5 852.4L1392.0 852.8L1392.5 853.4L1393.0 854.0L1393.5 854.8L1394.0 855.5L1394.5 856.3L1395.0 857.1L1395.5 858.0L1396.0 859.2L1396.5 860.4L1397.0 861.7L1397.5 863.1L1398.0 864.5L1398.5 865.8L1399.0 867.1L1399.5 868.3L1400.0 869.5L1400.5 870.7L1401.0 871.9L1401.5 873.0L1402.0 874.2L1402.5 875.4L1403.0 876.5L1403.5 877.6L1404.0 878.7L1404.5 879.7L1405.0 880.7L1405.5 881.7L1406.0 882.6L1406.5 883.6L1407.0 884.5L1407.5 885.4L1408.0 886.3L1408.5 887.1L1409.0 887.9L1409.5 888.7L1410.0 889.5L1410.5 890.2L1411.0 891.0L1411.5 891.6L1412.0 892.3L1412.5 892.9L1413.0 893.6L1413.5 894.2L1414.0 894.8L1414.5 895.4L1415.0 895.9L1415.5 896.5L1416.0 897.1L1416.5 897.6L1417.0 898.2L1417.5 898.7L1418.0 899.3L1418.5 899.8L1419.0 900.3L1419.5 900.9L1420.0 901.4L1420.5 901.9L1421.0 902.4L1421.5 902.9L1422.0 903.4L1422.5 903.9L1423.0 904.4L1423.5 904.8L1424.0 905.3L1424.5 905.7L1425.0 906.2L1425.5 906.6L1426.0 907.0L1426.5 907.4L1427.0 907.8L1427.5 908.2L1428.0 908.6L1428.5 909.0L1429.0 909.4L1429.5 909.8L1430.0 910.1L1430.5 910.5L1431.0 910.8L1431.5 911.2L1432.0 911.5L1432.5 911.9L1433.0 912.2L1433.5 912.5L1434.0 912.8L1434.5 913.1L1435.0 913.4L1435.5 913.7L1436.0 914.0L1436.5 914.3L1437.0 914.6L1437.5 914.9L1438.0 915.2L1438.5 915.5L1439.0 915.7L1439.5 916.0L1440.0 916.3L1440.5 916.5L1441.0 916.8L1441.5 917.0L1442.0 917.3L1442.5 917.5L1443.0 917.7L1443.5 918.0L1444.0 918.2L1444.5 918.4L1445.0 918.6L1445.5 918.8L1446.0 919.0L1446.5 919.1L1447.0 919.3L1447.5 919.5L1448.0 919.7L1448.5 919.8L1449.0 920.0L1449.5 920.2L1450.0 920.3L1450.5 920.5L1451.0 920.6L1451.5 920.8L1452.0 920.9L1452.5 921.1L1453.0 921.2L1453.5 921.3L1454.0 921.5L1454.5 921.6L1455.0 921.7L1455.5 921.8L1456.0 921.9L1456.5 922.0L1457.0 922.1L1457.5 922.2L1458.0 922.3L1458.5 922.4L1459.0 922.5L1459.5 922.6L1460.0 922.6L1460.5 922.7L1461.0 922.8L1461.5 922.9L1462.0 923.0L1462.5 923.0L1463.0 923.1L1463.5 923.2L1464.0 923.3L1464.5 923.3L1465.0 923.4L1465.5 923.4L1466.0 923.5L1466.5 923.6L1467.0 923.6L1467.5 923.7L1468.0 923.7L1468.5 923.7L1469.0 923.8L1469.5 923.8L1470.0 923.8L1470.5 923.8L1471.0 923.8L1471.5 923.8L1472.0 923.8L1472.5 923.8L1473.0 923.8L1473.5 923.8L1474.0 923.8L1474.5 923.8L1475.0 923.8L1475.5 923.8L1476.0 923.8L1476.5 923.8L1477.0 923.8L1477.5 923.8L1478.0 923.8L1478.5 923.8L1479.0 923.8L1479.5 923.8L1480.0 923.8L1480.5 923.8L1481.0 923.8L1481.5 923.8L1482.0 923.8L1482.5 923.8L1483.0 923.8L1483.5 923.8L1484.0 923.8L1484.5 923.8L1485.0 923.7L1485.5 923.7L1486.0 923.6L1486.5 923.6L1487.0 923.5L1487.5 923.4L1488.0 923.3L1488.5 923.2L1489.0 923.1L1489.5 923.0L1490.0 922.9L1490.5 922.8L1491.0 922.7L1491.5 922.6L1492.0 922.5L1492.5 922.4L1493.0 922.3L1493.5 922.2L1494.0 922.0L1494.5 921.9L1495.0 921.8L1495.5 921.7L1496.0 921.6L1496.5 921.5L1497.0 921.3L1497.5 921.2L1498.0 921.0L1498.5 920.9L1499.0 920.7L1499.5 920.6L1500.0 920.4L1500.5 920.3L1501.0 920.1L1501.5 919.9L1502.0 919.7L1502.5 919.5L1503.0 919.4L1503.5 919.2L1504.0 919.0L1504.5 918.8L1505.0 918.5L1505.5 918.3L1506.0 918.1L1506.5 917.8L1507.0 917.6L1507.5 917.3L1508.0 917.0L1508.5 916.7L1509.0 916.4L1509.5 916.1L1510.0 915.8L1510.5 915.5L1511.0 915.2L1511.5 914.9L1512.0 914.5L1512.5 914.2L1513.0 913.9L1513.5 913.5L1514.0 913.1L1514.5 912.8L1515.0 912.4L1515.5 911.9L1516.0 911.5L1516.5 911.1L1517.0 910.6L1517.5 910.2L1518.0 909.7L1518.5 909.2L1519.0 908.7L1519.5 908.2L1520.0 907.7L1520.5 907.2L1521.0 906.6L1521.5 906.1L1522.0 905.6L1522.5 905.0L1523.0 904.5L1523.5 903.9L1524.0 903.3L1524.5 902.7L1525.0 902.1L1525.5 901.5L1526.0 900.8L1526.5 900.2L1527.0 899.5L1527.5 898.9L1528.0 898.2L1528.5 897.6L1529.0 896.9L1529.5 896.3L1530.0 895.6L1530.5 894.9L1531.0 894.2L1531.5 893.5L1532.0 892.8L1532.5 892.1L1533.0 891.4L1533.5 890.7L1534.0 889.9L1534.5 889.2L1535.0 888.5L1535.5 887.8L1536.0 887.2L1536.5 886.5L1537.0 885.9L1537.5 885.2L1538.0 884.6L1538.5 884.0L1539.0 883.3L1539.5 882.7L1540.0 882.1L1540.5 881.5L1541.0 881.0L1541.5 880.5L1542.0 880.1L1542.5 879.7L1543.0 879.4L1543.5 879.0L1544.0 878.7L1544.5 878.4L1545.0 878.1L1545.5 877.8L1546.0 877.6L1546.5 877.4L1547.0 877.2L1547.5 877.1L1548.0 877.1L1548.5 877.1L1549.0 877.2L1549.5 877.3L1550.0 877.4L1550.5 877.5L1551.0 877.6L1551.5 877.8L1552.0 877.9L1552.5 878.1L1553.0 878.3L1553.5 878.4L1554.0 878.6L1554.5 878.9L1555.0 879.2L1555.5 879.5L1556.0 879.8L1556.5 880.1L1557.0 880.5L1557.5 880.8L1558.0 881.2L1558.5 881.6L1559.0 881.9L1559.5 882.2L1560.0 882.5L1560.5 882.8L1561.0 883.0L1561.5 883.3L1562.0 883.5L1562.5 883.8L1563.0 884.0L1563.5 884.2L1564.0 884.5L1564.5 884.7L1565.0 884.9L1565.5 885.1L1566.0 885.3L1566.5 885.5L1567.0 885.7L1567.5 885.8L1568.0 886.0L1568.5 886.2L1569.0 886.3L1569.5 886.5L1570.0 886.6L1570.5 886.8L1571.0 886.9L1571.5 887.0L1571.9 887.1" fill="none" stroke="#e8101c" stroke-width="2.3" stroke-linejoin="round"/>
<rect x="931.8" y="527.5" width="644.9" height="439.9" fill="none" stroke="#262626" stroke-width="1.5"/>
<path d="M931.8 967.4v6M1060.8 967.4v6M1189.8 967.4v6M1318.7 967.4v6M1447.7 967.4v6M1576.7 967.4v6" stroke="#262626" stroke-width="1.5" fill="none"/>
<text x="931.8" y="995.1" font-size="25.2" text-anchor="middle">0.0</text>
<text x="1060.8" y="995.1" font-size="25.2" text-anchor="middle">0.1</text>
<text x="1189.8" y="995.1" font-size="25.2" text-anchor="middle">0.2</text>
<text x="1318.7" y="995.1" font-size="25.2" text-anchor="middle">0.3</text>
<text x="1447.7" y="995.1" font-size="25.2" text-anchor="middle">0.4</text>
<text x="1576.7" y="995.1" font-size="25.2" text-anchor="middle">0.5</text>
<text x="1252.9" y="1025.2" font-size="25.7" text-anchor="middle">Normalized Frequency(Hz)</text>
<text transform="translate(915.1 745.6) rotate(-90)" font-size="25.4" text-anchor="middle">Normalized Amplitude</text>
<text x="1285.9" y="678.9" font-size="31.8" fill="#e8101c" text-anchor="middle">Closing</text>
<text x="1289.3" y="717.3" font-size="31.8" fill="#e8101c" text-anchor="middle">training</text>
<path d="M1250.8 752.3L1213.2 815.4" stroke="#e8101c" stroke-width="4.0" stroke-linecap="round"/><path d="M1200.2 837.3L1202.4 808.9L1224.1 821.9Z" fill="#e8101c"/>
<path d="M1320.7 751.3L1361.6 815.8" stroke="#e8101c" stroke-width="4.0" stroke-linecap="round"/><path d="M1375.3 837.3L1351.0 822.6L1372.3 809.0Z" fill="#e8101c"/>
</g>
<text x="32.9" y="284.5" font-size="49.5" text-anchor="middle">(a)</text>
<text x="838.9" y="284.2" font-size="49.5" text-anchor="middle">(b)</text>
<text x="38.6" y="787.6" font-size="49.5" text-anchor="middle">(c)</text>
<text x="834.3" y="789.2" font-size="49.5" text-anchor="middle">(d)</text>
<rect x="999.3" y="10.6" width="509.1" height="44.1" rx="5" fill="#fff" stroke="#d0d0d0" stroke-width="1.3"/>
<path d="M1009.2 29.1H1062.2" stroke="#1a7a1a" stroke-width="2.3" stroke-dasharray="9 3.9"/>
<path d="M1288.1 29.1H1342.8" stroke="#e8101c" stroke-width="2.3"/>
<text x="1083.7" y="37.1" font-size="25.9">before training</text>
<text x="1362" y="37.1" font-size="25.9">after training</text>
</svg>
</body></html>
